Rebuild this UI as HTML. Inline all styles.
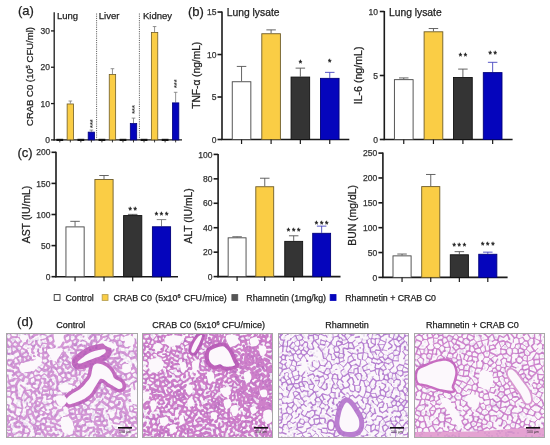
<!DOCTYPE html>
<html><head><meta charset="utf-8"><style>
html,body{margin:0;padding:0;background:#fff;}
body{width:550px;height:445px;overflow:hidden;}
svg{display:block;font-family:'Liberation Sans', Arial, sans-serif;}

</style></head><body>
<svg width="550" height="445" viewBox="0 0 550 445">
<defs>
<clipPath id="c0"><rect x="6" y="333" width="132" height="105"/></clipPath>
<clipPath id="c1"><rect x="142" y="333" width="131" height="105"/></clipPath>
<clipPath id="c2"><rect x="278" y="333" width="131" height="105"/></clipPath>
<clipPath id="c3"><rect x="414" y="333" width="131" height="105"/></clipPath>
<filter id="bl" x="-2%" y="-2%" width="104%" height="104%"><feGaussianBlur stdDeviation="0.5"/></filter>
</defs>
<g clip-path="url(#c0)"><g transform="translate(6,333)" filter="url(#bl)">
<rect x="-2" y="-2" width="136" height="109" fill="#FBF7FB"/>
<path d="M1.7,-1.8l3.5-36.6M-3.5,-2.6l1,0.2l-0.4,3.7M8,-3.1l-4.3,2.9M-2.4,6.4l-5.2-3.4M133.6,-7l-4.9,5.8M6.2,70.7l3.2,2l0.5,1.3M2.4,76.5l2.3,2.2l3.8,0.4M-0.1,77.8l-6-1.1M15,65.8l-3.8-1.2l-1-6.2M18.7,58.3l4,5.1M46.4,2.6l2,4.7l-2.9,2.8l2.7,3.2M45.5,10.1l-3,0.3l-1.5-5.1M-3.9,33.4l2.5,3.3l3.6,0.9M-3.2,39.8l2.4,3.1l2.1,0M6.6,38l-4.3-0.3M7.8,34.6l-2.8-2.2l2.4-3.7M2.4,6.9l-2.6-1.6M10.2,14l2.4-1.6l-0.1-1.4M6.5,20.2l4.9-2.4l2,0.6l1.5,3.7M0.2,20.7l-11-3.1l9.8-2.2l0.9,0.2l0.9,4.8M2,13.7l-1.5-3.2l-2.9-0.2l-0.7,1.3M-2.4,10.3l-0.8-2M122.5,53.2l-1.9-0.8l-2.9,3.5l0.9,3l4.8-1.3M118.6,58.9l-1,2.1l2.3,1.9l4.6-1.5M125.3,25.5l4.2-1.6M138.9,36.1l-4.6-2.9M127.1,31.5l0.5,2.8l2.2,2l0.5,2.3M127.6,34.3l-4.3,3.1M112.7,55.1l-0.4,1.9M-0.4,82.5l-2.1,1l-4.4-6.5M3.3,82.7l-1.5,0.6M10.6,57.8l-0.5-4.7l-4.8,0.1l-0.6,0.8l-5.6,1.7l1.3,2.4M30.1,8.4l0.4,1.9M22.6,0.7l2.5-1.9M28.6,2.2l-4,3.1l-0.4-0.1M45.3,16.6l-3.6-2.9l0.5-2.8M52.4,16.1l1.2-2.8M57.4,9.8l-1.8,3.3M55.3,-1.4l-5.8-1.5l-1.2,4.4M9.6,31.1l-0.6,2.9l3.8,1.4M124.7,67.6l-0.5-0.2l-0.5,0.2M132.4,61.4l1.9-1.9l53.9,6.5M117.1,67.8l-1.5-2.4l-4.3,0.2l-0.3-0.1M125.9,108.2l-2.7-2M133.9,21.8l-3.5,0.8l-1.7-3.6M246.2,30.4l-111.3-13.8M132.7,43.3l-1.6-4.1M132.7,43.3l-0.6,1.9M132.7,43.3l12.9-5.7M123.2,46.1l2.8-2.7M115.2,46.8l-1.2-3l-3.5-0.6l-2.6,2.4l-3.8-4.3M114.3,19l4.1,0.9l2.6,2.5M101.6,58.6l-2.6-3.6M80.5,52.3l-2.2,1.7M68.9,48.9l-1,2.5l-2.2,0.7M67.2,-4.2l-4.6,2.1M64,2.1l-0.9-0.7l-4.1,1.9M32.1,96.3l-0.4-3M27.9,92.5l1.7,5.6l-0.2,0.7M55.8,62.9l-4.4-0.2M27.5,14l0.1,0.7l-1.3,1.7M12.6,38.4l-3.7,2.1M37.9,37.4l3.2-0.3l2.1-3l-3.9-2.8M42.1,43.2l1.2-4M47,39.2l-1.5-0.8M42.4,43.8l0.5,0.3l4.4-2.6l3.4,2.5l-0.2,0.8l1.4,5.1M44.9,28.4l1.2,4.8l-0.8,0.6M37.5,24.9l3.1-0.1l2.3-3M33.5,60.2l-2.1-3.7l-0.5,0.1l-2.8,2.7M37.3,57.5l3.4,0.3M43.7,61.8l-2.1,0.5l-1.2-0.9M36,98.4l3.5,4.4M47.8,100.7l-2.3,1.6l-4-1.4M49.8,102.3l0.2,4.9M71.1,107.9l-3.2-1.1M99.3,64.4l4.1,2.1l2.2-3.4M100.3,71.7l-4.3-3.6M91.5,104.3l0.5-1.5l4.9,0.2M89.8,108.1l0.4-3M91.6,96.3l3.3,0.1M91.6,96.3l0.2-4l3-0.1M91.6,96.3l0,0M91.8,92.3l-2.7-1.5M97.5,101.8l5-2.9l1.7,1l3.4-3.9M106.9,102.4l0.5,3.7l0,0M33.9,100.7l-3.8-0.4M45.8,65.3l0.5-2.3l1.2-0.8l3.9,0.5M21.2,81.4l0.2-4M-1.4,67.6l1.8-4M20.4,18.6l-0.1-1.1M18.5,10.5l2.1-0.4M22.4,-8.7l-3.9,8l0.7,1.2M25.5,-3l4.1-0.5M42.8,21l-1.8-1.3l-3.5,0.2l-0.4,0.4M36.2,-2.7l-0.7,3.6l-0.8,0.5M131.2,82.1l0-2.2l1.3-2.2M134.1,71.9l-0.7-3.1M131.7,100.6l1.2,2.3l-2,3.5M136.2,94.3l-2.9,2.2l0.6,2.3M113.5,69.5l-0.3,1.6l-3.4,1.8M129.8,106.8l-2.5-4.4M123.7,-7.1l4.3,6M126.7,5.7l1.9,1l1,3.5M107.6,-1.6l-1.4,1.7M101.1,43l-0.7,3.2l-3.9-1.1l-0.8-2.4l1.4-2.5M116.5,40.2l-5-2.4l0-0.4l-3.6-3.4M92.7,34.1l4.6,3.1l1.8-4l-2.4-2.1l-3.5,1.3M110.8,63.4l-0.2,0.6M109.6,58.8l-2.3-0.4l-1.8,4.2M107.7,69.3l-3.8-1M101.6,71.5l2.3,3.3M109.7,73.2l-4.2,2.2M95.8,89.3l-0.3,2.3l3,1.4M88.4,88.8l0-0.1l5-1.2l0.8-3.8l1.5-1.5l0.6,0.3M93.1,54.2l0.2,0.8M86.8,54.1l3.4,4M99.4,61.1l-3.5-1.7l-0.1-2.3M94.3,63.5l1.1-3.7M89.1,52.5l0.4-2.2M86.5,47.3l-0.9,0.1l-1.6,5.2l1.7,1.5l-1.6,4.5M68.6,-3l3.2,0.1M72.6,1.4l-2.8,2.1l0.2,2.2M39.2,96.1l0.7-2.4l3.6-0.2M38.8,91.6l-3.5-0.8M52.2,57.8l-1.5-1.4l1.3-5.2l-0.3-0.9M47.5,68.8l-1.2,1.4M33.1,81.6l-0.4,1.1l-3.4,2.6l-0.6-0.1l-2.3-4.6l0.5-1M72.2,58.4l4.1,0.8l2.1-3.9M72.2,58.4l0.3,4l3.3,1.4M72.2,58.4l-0.3-0.3M27.3,19.9l-0.9-0.7M14.8,22.5l1.7,1.6l0.2,4.5M8.5,40.5l-1.2,1.8M10.2,51.5l2.8-5l-0.7-1.1M7.9,46.2l-0.5,0.9l-4.6,0.9M46.1,33.3l4.7,2.8l1.8-1.6l2.3-0.2l2.1,2.5l0.1,2.3l-3.7,2.6M60.1,40.5l-0.4,3.5l2.8,2.6M23.6,46l-0.2,4l-1.6,0.6M23.4,50l2.7,1.4M18.3,44l-1.5,3.4M34.5,50l-1.5,2.9M33.9,47.2l-4.1-0.2M43.9,55.3l-5.3-2.1M43.9,55.3l0.2-0.1M43.9,55.3l-0.6,0.9M44.2,55.1l-2.3-5.1M38.7,50.2l0.5-0.6l-0.3-3.2M39.3,103.8l1.9,2.5l-3.6,7M31,106.8l2.8,0.1M63.7,81.5l1.6,4.9l4.6-2.1M64.1,80.8l4.8,0.2M66.9,89.5l5.3-2M76.6,92.5l-1.2,1.7l-4.6-1.6l1.7-4.9l0.8,0l2.5-1.8l0.2-3.5l4.2-1.1l-0.8-3.9M75.4,94.2l-0.6,3.8M84,86.1l-3.7-1l-2,1.5M74.8,81.1l-1.2-0.3l-1-4.4M82.7,75.4l-0.6-2M106.4,86.7l3.2-2.7l4.4,1.8M109.4,101.4l1.9-4.2M117.1,96.8l-5.4,0.5l3,5.2l-2.7,0.8M117.1,96.8l0.6-1.6M117.1,96.8l0.7,1.6M85.4,88.4l-0.5-0.3M12.2,88.4l-3.3,2.1M12.9,113.9l-4.5-6.4l0.1-0.7l-2-2.5l0.2-2.5M23.8,89.1l0,0M36.1,64.7l-5,0.6M24.6,57.1l1.7,2.2M25.3,64l0.4,2.3M35.1,69.6l-0.4,0.1l-1.8,3.2M30.7,-2.8l0.5,4M60.2,8.9l0.5,0.2l3.3-1.9M132,91.8l2.8-0.1M132.7,87.1l-1.5,0.2l-2-3.4M126.4,92.1l-0.1-2M126.5,89.9l3.8-0.7M110.8,75l4.6,1.2M115.4,83.8l-1.2-3.9l1.2-1.3l5.6,2.1M118.3,73.5l3.3,6.3M118.2,68.2l0.2,5.1M86.1,34.4l-2.3,3M97.2,40.1l0.6-2M115.7,34.7l-2.8,0.4l-1.7-4.1l-0.1,0l-2.9-3.3l-2.9,3M118.8,30.1l-2.9,2.3M93.1,48.6l0.9-0.7M92.4,48.5l-3.2-3.9M98.5,27l-3.3-2.4l-2.5,1.7M39.5,85.7l1.8-1l3.9,1.8l1.5-1.4M37.3,81.8l1.3-2M55.1,67.9l-0.1,3.8M29.6,77.9l2.7,0.6l1.7-1.5M44.8,89.2l0.3,0.6M58.1,66.8l3.3-2.5M57.6,60.8l1.1-0.1M72.2,67l-1.7-1.6M66.3,66.4l2.7,4.9l-0.7,0.8M75.2,73l-4.8-2.1M69.4,76.7l-1-1.2M24.6,25.7l-2.9,2.4M52.2,29l0.3-3.8l0.7-0.7l0.4-0.1M56.9,54.7l2.6-1.1M54.1,97.1l3.8,1.5M62.6,103.3l-1.7,0.9M95.5,81.8l0.6-5.1l-5.5-0.3l-0.5,0.6M81.4,66.7l-0.4-2l-2.5-1.9M81,64.7l4.2-3.1l3.2,4.3l-2.4,2.8l-0.1,0M90.8,72.4l2.3-1.5l0.6-1.6M91,63.8l-0.3-3.9l-0.6-0.7M114.7,102.5l0.2,0.1M123.4,95.3l-3.1-2M88.3,95.8l-0.5,2.1M92.7,99.8l-1.4-1.1M69.4,93.5l0.7,4.4l4.7,0.1l0.2,5.4M79.1,108l-1.9-3.6M82.3,95l-0.2,1.5l-2.9,1.9M8.5,106.8l3.7-2.2M13.8,111.2l-0.9-6.3M20.8,105.8l3.4,1.4M19.1,106.6l4,13.7l1.4-12.4M12.8,88.4l3.3,2.1l0.3,2M14.3,83.1l0.3,0.6l3.7,2l3.1-3.8M69.6,11.6l-2.3,0.1l-1.9,2.3M57.6,15l4.6-1.2M120,86.8l-1.8,2.1M120,86.8l2.2,0.4l1.4,2.5M120,86.8l-0.5-3.9M122.2,87.2l2.3-2.2M128.3,12.7l0.2,0.5M134.5,16l0.1-0.6l4.5-4.8M101.5,-8.8l-3.7,5.9M111.6,12.9l-0.4,4.8l1,1.6M116.4,13l-4.7-0.1l-0.8-4.5l-2.8-1.2M95.5,4.5l-0.1,0.8M106.1,35.7l-3.5-1.1l-0.6-1.4l1-2.4M108,25.7l-5.3-0.9l-1.6,1.9M100.5,14.3l-0.8,5.3l-0.5,0l-3.4-4.7M113.6,24.7l-5.5,0.9M88.6,24.4l-0.6-2.8M71.8,13.8l3.5-2M81.3,17.7l-2.1-4.6M76,17.6l-0.1-0.1l-4.5-1M47.9,74.7l2.1,0.4M56.2,76.7l-4.3,1.4l-0.9,2.1l0.2,0.6l-3.3,4.3M30.7,72.7l-1.9,1.7M21.3,28l-2.7,1.6M19,38.1l4.5,2l-1.8,4.1M72.9,104.5l-4.7-4M54.6,86.5l-3.4,1.6M115.2,102.5l2.9,1.1M114.9,106.1l1.6,1.5l2.4-0.8M86.6,109.1l-1.4-3M-3.4,97.2l3-2.2l0.2-0.9M0.2,93.9l3.5,0M-26,106.9l23-5.3l0.4-1M17.1,100l0.9-6.3M69.5,20l0.5-2.4M42.2,81.6l2.3-1.1M62.4,39.6l2,0.6M65.8,42.9l4.1-0.3M5.6,101.1l-2.5,0.4M5.3,96.7l-0.1,0.1M13.4,94.2l-2.9-0.2l-1.7-1.9M17.1,100l-3.7-1.1M90,14.7l-0.5-1.2M84.7,22.5l-1.1,3M55.2,20.6l3-0.7l0.6,0.4M84.9,-7.3l-1.7,5.2M70.1,42.3l-0.4-6.4M61.7,35.5l2.4-2l-0.3-2.3M60.1,26.9l4,3.4M72.6,22.8l0.4,4.1l1.6,1M70,21.3l-3.5,4.2M61.4,24.1l-2.3-2.7l-3.8,3.6M83.5,5.2l3.8-4.1l0.9,0.1l0.8,0.5l0.3,6.1l-3.3,0.1l-1.7,4.5l-3.1-1.3M85.8,29.6l-5.2-0.2M70.2,35.6l0.5-1.4M75.5,31.8l2.8,1.3l0.1,0.1l7.3,0.3M78.5,36.3l-0.5,0.9" fill="none" stroke="#D498D6" stroke-width="2.7" stroke-linecap="round" stroke-linejoin="round"/>
<path d="M5.2,-38.4l-7.4,35.9l-0.3,0.1M-2.9,1.3l-4.7,1.7M-0.2,5.3l-0.2-2.6l3.2-3l0.9,0.1l2,4.2M136.2,-1.3l-2.7,3.1M2.4,76.5l0.5-4.2l-4-2l-0.9,0.4M3.3,82.7l3.4,2.1M15.2,79.5l-0.9,3.6l-2.6,0.3M6.8,66.4l-0.6,4.3M15,65.8l2.7-6.9M10.2,58.4l0.4-0.6M46.4,2.6l1.9-1.1M-3.2,44.7l2.4-1.8M-2.4,6.4l-0.8,1.9M9.4,8.5l-2.9,2.4M6.4,20.2l-0.8-6.6l0.7-0.7M2.7,21.1l-1.9-0.7M2.4,6.9l-1.9,3.6M128.2,55.7l1.3,3.5M124.5,61.4l0.3,0.2l0.6,1.3M120.1,51.6l-4.8-0.5l-1.2-2.7l-3,0.6M115.3,51.1l-1.4,3.5M122.5,53.2l3.8-3.6l1.2,0.1M134.3,33.2l-4.5,3.1M1.8,83.3l-2.2-0.8M-16,91.9l13.1-1.3l2.7,3.5M35.3,26.5l-2.8-4.5M37.1,20.3l-4.1-0.2l-1-2M31.7,32.9l4.5,3.6l-3.3,2.7M101.3,106.2l5.6,0.4l0.5-0.5M129.2,108l-3.3,0.2M9.9,74l6.4,1.6l-0.7,3.6M18.8,55.7l0.3,1.8l5.5-0.4M27.5,14l-3-2.7l2.8-3M24.5,11.3l-2.4,0.2M10.5,4.3l0.6-0.4l0.3-4M11.1,3.9l3.3,1.5M25.1,-1.2l3.5,3.4l1,0.2l1.6-1.2M45.4,-3.9l-1.2,2.1M52.4,-14.7l3.4,12.5l5-1.3M-5.6,50l3.9,3.2l0,2l0.8,0.5M7.2,27.4l2.3-2.6l1.3,0.1M123.2,106.2l-0.8,0M112.1,-2.2l2.1,4l0,0l-0.6,5.4l3.7,2.1l-0.9,3.7M112.1,-2.2l3.1-4.7M112.1,-2.2l-2.2-0.4M118.1,-2.2l-3,3.9M129.5,23.9l0.9-1.3M133.9,21.8l1-5.2l-0.4-0.6M130.3,38.6l-4.6,2.4M126,43.4l5.3,2.4l0.8-0.6M107.9,45.6l-0.2,1.3M125.3,25.5l-3.5-3.1l-0.8,0M102.7,53.1l-3.4,0.5M80.5,52.3l-0.5-5.2l-3.4-1.4M74,47.8l1.1,5M67.9,51.4l3.4,3.5M62.6,-2.1l0.5,3.5M67.7,2l-3.7,0.1l0,5.1l2.3,0.7l3.7-2.2M34.4,92.2l-2.7,1.1M29.6,98.1l2.5-1.8M35.4,26.6l0.4,2.4M12.6,38.4l3.9,2.6l0.2,0M35,43.3l3.2-2.6l3.9,2.5M41.1,37.1l2.2,2.1M40.6,24.8l2,3.4M37.9,37.4l-0.9-0.9M29.9,37.2l-3.1,2.5l1.7,3.4M35.6,60.8l1.7-3.3l-1-2.5l2.3-1.8M43.7,61.8l-0.4-5.6M36.2,97.5l3-1.4M45.4,107.5l-4.5,32.7M50,107.2l1.1,0.9M96.8,65.9l-0.8,2.2l-2.3,1.2M91.5,104.3l2.6,2.8M96.9,103l-1.8,4.1M97.4,102.6l3.7,2.8M-1.5,109.1l3.9-2.3l2.3,2.6M23.8,98.4l-0.4-1.8l-3.1-2.8M36.2,62l-0.1,2.7M41.6,62.3l-1,4.1M40.7,66.6l5.1-1.3l1.7,3.5l1.9-0.1M21.1,69.7l0.1,2.9l-2,2.3M21.2,72.6l3.4,1.8M4.3,63.9l1.6-4.4M12.6,12.4l3.3,1.6l2.6-3.5M13.4,18.4l2.6-3.3M44.9,28.4l1.9-1.6l4,3.3l0,0.1l1.8,4.3M40.9,14.5l-3.9,0.9M42.2,10.9l-5.8-0.7l-2.1,3.8M34.6,-4.6l-3.9,1.8M40,2.2l-4.5-1.3M125.5,78.8l0.7-0.3M132.5,77.7l-1.7-2l-2.9,0.3l-1.2-3.1l-3.2,0.6l0.6,5.2M133.4,68.8l-2.5-0.5l-1.4-2M128.6,71.2l2.7,2.2M132.9,102.9l3.7,0.1M133.9,98.8l1.7,0.6M107.7,69.3l2.1,3.6M117.1,67.8l1.1,0.4M131.7,100.6l-1.8-0.4l-2.6,2.2M120.7,-2.1l1.6,3.1M126.7,5.7l-0.7-4.1M119,14.6l3.5,0M110.5,43.2l-0.5-3.8M116.6,40.1l-0.1,0.1M93.2,32.4l-0.5,1.7M105.5,62.6l0.1,0.5l5,0.9l0.4,1.5M110.8,63.4l4.1-2.8l-2.6-3.6l-2.7,1.8M103.9,74.8l-3,3.3M89.5,84l-1.1,4.7M89.1,90.8l-0.7-2M99,55l-3.2,2.1M89.1,52.5l4,1.7l1.3-1.9l-1.3-3.7M93.3,55l-3.1,3.1l-0.1,1.1l-4.7,1.3l-1.3-1.9l-2.3-0.2M83.3,41.8l-4.3-1.2M85.7,54.1l1.1,0M65.7,52.1l-0.5,3.8l-2.3,1.1M75.9,2l-3.3-0.6M71.8,-2.9l1-0.8M39.9,93.7l-1.1-2.1l1.4-2.6M47.5,62.2l-0.3-5.2M28.6,92.2l2.2-4.2M37.3,81.8l-4.2-0.2M41.6,98.6l3.4-1.3l-0.3-2.6l-1.2-1.2M71.2,55.6l0.7,2.5M66.9,57.1l-0.2,4.1l-0.1,0.1M24.7,24.3l-2.5-2.1M28.9,23.5l-0.9-0.6M26.3,16.4l0.1,2.8M2.8,48l-0.9-4.5M7.9,46.2l4.4-0.8l0-1.3M10.4,52.7l-0.2-1.2M50.6,37.3l2.7,4.4l0.1,0l3.3,3.4l3-1.1M26.2,54l-0.1-2.6M13,46.5l3.8,0.9M29.8,47l-1.5,3.5M33.2,53.8l-0.2-0.9M35.3,45.2l-1.4,2M28.3,43.8l-4.7,2.2M47.3,50.8l-3.1,4.3M37.6,113.3l-3.8-6.4l1.5-2.1M30.1,100.3l-1.1,3.4l-2.6,0.1M50,96.5l3.8,0.2l0.3,0.4M69.9,84.3l-0.1-2.4l3.8-1.1M66.9,89.5l0.7,3.1M82.7,75.4l1.6,0.7M78.2,70.6l3.9,2.8l3.8-4.7M111.6,110.1l-4.2-4l3.8-1l0.8-1.8M103.7,85.6l-1-4l-0.9-0.5M109.4,101.4l-2.5,1M111.3,97.2l0-0.1l-3.7-1.1l-1.6-3.5M113.2,90.7l1.5-2.1l3.5,0.3l2.1,3M130,95.3l0-0.3l-3.6-2.9l-3,3.2M78.8,92.2l0.9-2.9l-1.4-2.7M82.3,95l-0.1-0.2M97.5,101.8l-1.6-2.9l0.2-1.3l-1.2-1.2M92,102.7l0.7-2.9M101.7,97.3l-3.4-1l0.2-3.3M100.5,87.6l0.7,4.3M12.2,88.4l-1.7-2.7M2.6,88.4l4.1-2.3M31,106.8l-1.1,1.3M30.4,62.3l-0.3,1M28.1,59.3l-1.8,0l-1.6,4.2M31.1,65.3l-0.8,2.7l0,0l-0.7,1.4l-3.3,1.6M30.3,68l4.4,1.7M24.4,69.1l1.3-2.8M38.7,72.1l2.7-1.3l0.8,0.3l4.1-0.9l1.6,4.5M38.7,72.1l-3.6-2.5l1.4-4.3M38.7,72.1l-0.5,1.5M41,5.3l-5.7,1.5M30.1,8.4l0.7-0.8M126.5,89.9l-0.2,0.2M135.1,83.3l-2.4,3.8M109.5,80.5l0.8-0.7l0.5-4.8l-1.1-1.8M118.4,73.3l-0.1,0.2l-0.6,0.2M84,41.3l5.5,0.2M90.2,36.2l0.3,2.8M97.3,37.2l0.5,0.9M104.1,41.3l0.1-0.3l2.3-2l-0.4-3.3M112.4,30.5l3.5,1.9M89.5,50.3l2.9-1.8M98.5,27l-1.8,4.1M41.3,84.7l0.9-3.1M26.9,79.6l-2.5-3.5M60.2,69.7l2.3-0.3M64.1,66.8l-2.7-2.5M58.7,60.7l2.5,1.6M70.4,70.9l-1.4,0.4M66.3,66.4l0.1-0.2M75.8,63.8l-1.1,2.7l2.7,4.2M21.3,28l0.4,0.1M30.5,32.9l-5.6-0.1M50.8,30.2l-4.7,3.1M57.3,49l-1.1-0.6M55.9,103.7l1-0.6M64.7,87.9l-2.4,0.8M85.5,75.7l4.6,1.3M77.5,62.6l1,0.2M89.5,65.6l-1.1,0.3M123.4,99.5l-1.9,0.7M91.3,98.7l0.3-2.4l-3.3-0.5l-0.7-1.3M75,103.4l2.2,1l2.6-2.4M74.8,98l4.4,0.4M10.2,100.8l-3.5,1l-1.1-0.7l-0.4-4.3l-3.2,0.8l-2.4-2.6M20.8,105.8l-1.7,0.7M22.7,100.3l-0.2,0.1l-5.4-0.4l0,0l-1,3.9M13.8,111.2l5.3-4.6M38.5,79.3l-4.5-2.3l0.4-1.3M128.3,12.7l1.3-2.5M127.4,18.1l1.1-4.9M111.6,12.9l-4.5,0.4M117.3,9.3l2.7-1.8M113.6,7.2l-2.7,1.2M112.9,19.5l-0.7-0.2M108.9,3.3l-0.8,3.9l-0.9,0.4l-0.6,5.4M99.1,8.2l3.2-4.2l2.5,3.2l-2.5,2.5M102.7,24.8l-0.3-4l-2.7-1.2M96.5,45.1l-2.3,2.1l-0.2,0.7M95.7,42.7l-2.8,0.8M97.1,20.7l-1.9,3.4l-3.8-3.4l1.7-3.4l4,3.4l2.1-1.1M88.6,24.4l4.1,1.9l-0.9,3.4l-5.7-0.6l0-0.8M81.1,18l-5.1-0.4l-0.8,4.1l3.9,1.8M76.6,13.1l2.6,0l2-2l-0.5-1.9l-4.2-2.2l-1.5,1.2M56.9,73.3l-0.7,3.4M57.7,83.6l1.1,0.2M29.6,69.4l1.1,3.3l2.2,0.2M16.7,28.6l-3.2,1.2M12.8,35.4l1.4-1.3l-0.8-4.1M18.6,29.6l0.6,5M62.8,102.9l4.5-1.3M55.3,84.7l-0.7,1.8M112.6,107.1l2.3-1M120.9,101.9l-2.8,1.7M83,102.7l1.6-2.9M87.8,97.9l-3.1,1.9M90.2,105.1l-2.6-0.9M2.8,89.1l-2.6,4.8M4.8,91.1l-1.1,2.8l1.6,1.9M-3.4,97.2l0.8,3.4M108,25.7l0.2,2M72.6,22.8l-2.6-1.5M65.8,42.9l-1.4-2.7M73.7,41.6l-3.6,0.7l-0.2,0.3M1.5,99.8l1.6,1.7M84.7,13.1l4.8,0.4l1.6-4.3M86.9,18.8l0.9,2.7l0.2,0.1M81.1,20.8l3.6,1.7M93,16.6l-3-1.9M57,17.2l1.2,2.7M55.2,20.6l-1.6,3.8M56.9,30.2l0.9-2.3l2.3-1M85.7,33.5l0.1-3.9M59.2,31.9l4.6-0.7l0.3-0.9M68.5,28.9l-1.4-0.6M63.1,14.5l-0.2,2.8M83.2,-2.1l4.1,3.2M70.2,35.6l4,2.6l3.8-1M83.5,5.2l0.3,1" fill="none" stroke="#D498D6" stroke-width="1.3" stroke-linecap="round" stroke-linejoin="round"/>
<path d="M-1.5,109.1l-1.8-2.5M0.9,28.6l-4.3-3.3l3.6-4.6M0.9,28.6l-0.2,1.7l2.4,2.2l1.9-0.1M0.9,28.6l1.9-1.6l4.4,0.4l0.2,1.3M-2.9,1.3l2.5,1.4M133.6,-7l2.6,5.7M133.8,4.2l-0.3-2.4M9.9,74l-0.7,4.3M8.5,79.1l0.3,2.1l2.9,2.2l-1.2,2.3l-3.7-0.2l-0.1-0.7M22.7,63.4l-3.9,4.3M48.4,7.3l0.8,0.2l2.7,2.9l0.1,0.9M-1.4,36.7l-1.8,3.1M2.4,6.9l0.8-0.1l2.5-2.8l4.8,0.3M3.2,6.8l3.3,4.1l-0.2,2l3.9,1.1l1.2,3.8M9.4,8.5l3.1,2.5l2.7-3.2l-0.8-2.4M6.5,20.2l-0.1,0l-3.7,0.9M-1,15.4l-2.1-3.8M5.6,13.6l-3.6,0.1M124.2,55.9l-0.8,1.7M120.3,46.7l-5.1,0.1M120.6,52.4l-0.5-0.8M129.5,23.9l3.5,5.6M133.1,29.5l6.1-4l-5.3-3.7M130.5,47.9l-3,1.8l1,5.6M113.9,54.6l-1.2,0.5l-2.2-1.7l0.6-4.4l-3.4-2.1l-2.2,1.8l-1.1,0.2M2.1,88.1l-0.3-4.8M2.1,88.1l-3.2,0.1M2.1,88.1l0.5,0.3M-0.1,77.8l-0.3,4.7M32.5,22l0.5-1.9M37.1,20.3l0.4,4.6M39.1,31.3l-2.1,5.2l-0.8,0M39.1,31.3l-3.3-2.3M39.1,31.3l0.2,0l3.3-3.1M106.9,106.6l-2.2,7.8M15.2,79.5l0.4-0.3M15.3,68.9l1.3,6.4l-0.3,0.3M14.7,52.3l4.1,3.4M27.5,14l3-3.7l3.8,3.7l0,0.2M22.6,0.7l1.6,4.5M48.2,14.3l-2.9,2.3M46.4,2.6l-0.7-0.1l-4.3,1.6M39.7,-3.5l1.1,1.5M55.8,-2.2l-0.5,0.8M49.4,-3.1l0.1,0.2M60.2,8.9l-1.6-3.7l0.4-1.9M5.3,53.2l-3.1-4.2l0.6-1M-1.7,55.2l-9.8,4.8l11.3,2.8l0.6-4.7l4.2,0l1.3,1.4l4.3-1.1M132.4,61.4l0,0l3.8,4.5M133.9,53.4l1.1,0.4l-0.7,5.7M129.2,108l0.6-1.2l1.1-0.4l4.1,1.1M120.6,107.5l1.8-1.3M114.2,1.8l0.9-0.1l4.1,2.3l3.1-3M126,43.4l-0.3-2.4l-2.2-1.8l-3.8,2.6l1.1,4.4M144,50.6l-11.9-5.4M119.7,41.8l-3.1-1.7M121,31.4l-2.2-1.3M119,14.6l-2.5-1.4l-0.1-0.2M99,55l0.3-1.4l-1.1-1.6M84,52.6l-3.5-0.3M80,47.1l2.9-1.4l0.4-3.9l0.7-0.5M68.9,48.9l2.5-1.5l-1.5-4.8M68.6,-3l-0.9,5M60.8,-3.5l1.8,1.4M35.2,96.7l-3.1-0.4M35.2,96.7l-0.8-4.5l0.9-1.4M35.2,96.7l1,0.8M31.7,93.3l-3.1-1.1M30.5,32.9l0,0.1M14.8,22.5l-4,2.4l2.7,4.9l-0.1,0.2l-3.8,1.1M12.8,35.4l-0.2,3M6.6,38l1.9,2.5l0.4,0l3.4,3.6l4.2-3.1M35.3,45.2l3.6,1.2M43.3,39.2l2.2-0.8l-0.2-4.6M32.9,39.2l-3-2M35,43.3l-2.1-1.5l-4.4,1.3l-0.2,0.7l1.5,3.2M33.2,53.8l-1.8,2.7M35.6,60.8l0.6,1.2l4.2-0.6M40.7,57.8l2.6-1.6M39.2,96.1l2.4,2.5l-0.1,2.3M50,107.2l-4.6,0.3l-1.1-1.1l1.2-4.1M47.8,100.7l2,1.6l2.7-0.7M64.9,108.1l0.2-0.4l2.8-0.9M103.9,68.3l-2.3,3.2M95.1,107.1l-1,0M90.2,105.1l1.3-0.8M104.5,100.8l-0.3-0.9M101.3,106.2l-0.2-0.8M96.9,103l0.5-0.4M4.6,58.1l0.1-4.1M-0.2,62.8l0.6,0.8l3.9,0.3l2.5,2.5M14.9,22.1l5.5-3.5l1.8,1.9M16,15.1l4.3,2.4M21.3,7l-0.7,3.1M14.8,-2l3.7,1.3M42.9,21.8l-0.1-0.8M50.9,21.1l-1.7-0.5M50.6,16.4l-1.7,3.2M40.9,14.5l0.1,5.2M37,15.4l0.5,4.5M32,18.1l0.2-1.6M34.6,-4.6l1.6,1.9M131.2,79.9l-5-1.4l1.7-2.5M135.1,83.3l-3.9-1.2M130.9,68.3l-2.3,2.9l-0.9,0.1M134.1,71.9l1.5,0.9M107.7,69.3l3.3-3.8M119.9,62.9l0.9,3.8l-2.6,1.5M123.2,106.2l3-4M130,95.3l3.3,1.2M123.7,-7.1l-3,5l-2.6-0.1M128.7,-1.2l-0.7,0.1M121.8,22.4l2-3.9l3.6-0.4M114.2,1.8l-5.3,1.5M100.6,47.2l-1.8,2l-4.8-1.3M101.1,43l3-1.7M114,43.8l2.5-3.6M116.6,26.2l-1.2-0.1l-1.8-1.4l-0.7-5.2M115.4,26.1l-3,4.4l-1.2,0.5M105.7,56.2l1.6,2.2M105.5,62.6l-4.2-3l-1.9,1.5M109.8,72.9l-0.1,0.3M105.5,75.4l-1.6-0.6M94.2,83.7l-4.7,0.3M93.4,87.5l2.4,1.8l3-2.1l-2.5-4.7M89.1,52.5l-2.3,1.6M95.9,59.4l-0.5,0.4l-4.7,0.1M65.7,52.1l-2.6-1M64.8,45.3l-2.3,1.3l-0.1,0.2l-5.1,2.2M76.5,43.9l2.5-3.3M65.2,55.9l1.7,1.2M71.3,54.9l-0.1,0.7M77.8,-3.4l-1.1,0.6M50.7,56.4l-3.5,0.6l-3.1-1.8l0.1-0.1M51.4,66.8l-2,1.9l2.6,3.3M57.6,60.8l-2.2-3.2l-3.2,0.2M24.6,87.4l-3.2-5.5l0.1-0.1l4.9-1.2M21.5,81.8l-0.3-0.4M29.3,85.3l1.5,2.7l3.4,0.8l1.7-2.6l2.2-1l1.4,0.5l0.7,3.3M78.4,55.3l-0.1-1.3M71.9,58.1l-3.8,3M20.1,24.3l-3.6-0.2M20.1,24.3l2.1-2.1M20.1,24.3l1.2,3.7M24.7,24.3l-0.1,1.4M60.1,40.5l-3-1.4M21.7,44.2l-3.4-0.2l-1.6-3M16.8,47.4l0.1,0.5M34.5,50l-0.6-2.8M30.9,56.6l-4.7-2.6M26.1,51.4l2.2-0.9M39.2,49.6l2.7,0.4l2.7-2.9l2.7,3.7M39.5,102.8l-0.2,1M59,109.9l-3.7-3.7l0.6-2.5M69.8,81.9l-0.9-0.9l0.5-4.3M69.9,84.3l2.3,3.2l0.3,0.2M70.8,92.6l-1.4,0.9M84,86.1l0.7-4.7l-4.4,0M77.2,76.8l-2-2.7l-2.6,2.3M77.2,76.8l-2.4,4.3M77.2,76.8l2.2,0.6l3.3-2M85.9,68.7l-4.5-2M109.6,84l-0.1-3.5M103.7,85.6l2.7,1.1l1.1,3.3l5.4,0.9M129.2,96.7l-5.2,0.9M111.7,97.3l-0.4-0.1M79.7,89.3l5.2-1.2M76.6,92.5l2.2-0.3M82.3,95l5.3-0.5M98.5,93l2.7-1.1M102.5,98.9l-0.8-1.6M4.7,109.4l3.7-1.9M27.4,92.5l-3.6-3.4M30.4,62.3l-2.3-3M35.2,6.9l0.1-0.1M132,91.8l-1.7-2.6M134.8,91.7l1.3-2.5l-3.4-2.1M127.9,83.9l-1.7,1.3M117.7,73.7l-2.3,2.5M119.5,82.9l1.4-1.8l0.1-0.4M120.9,81.1l3.6,3.9M107.6,-1.6l-5.1-12.5M97.8,38.1l3.8-0.9M115.9,32.4l-0.2,2.3M111.5,37.4l1.4-2.3M86.5,47.3l2.7-2.7M89.5,41.5l0.3,0.7l3.1,1.3M93.2,32.4l-1.4-2.7M42.2,81.6l-3.6-1.8l-0.1-0.5M32.3,78.5l0.8,3.1M21.4,77.4l3-1.3l0.2-1.7M45.1,89.8l4.3,1.4l-0.6,2.3l-4.1,1.2M49.4,91.2l0.7-0.5l4.5,2.7l2.8-2M48.8,93.5l1.2,3M58.7,60.7l2.5-4.3M62.9,57l1.2,3.8l-2.9,1.5M56.8,66.4l1.3,0.4M68.3,72.1l0.1,3.4l-5.2,1.8l-0.1,0.4l1,3.1M62.5,69.4l1.6,2.7l-1.5,2.7M26.8,27.7l-2.2,3.4M54.9,34.3l2.1-3.8l2.2,1.4l0.9,3.2M51.9,49.9l4.3-1.5l0.5-3.3M59.6,109.4l1.3-5.2M56.9,103.1l1-4.5M63.7,81.5l-4.9,2.3M95.5,81.8l-5.5-2.4l0.1-2.4M96.8,75.9l-0.7,0.8M90.6,76.4l0.2-4M85.4,60.5l-0.2,1.1M94.3,63.5l-3.3,0.3M109.4,101.4l2.6,1.9M120.3,93.3l-2.6,1.9M92,102.7l-2.8-1.4l-1.5,0.7M72.9,104.5l2.1-1.1M24.2,107.2l0.3,0.7l5.4,0.2M22.5,100.4l-1.7,5.4M12.9,104.9l3.2-1l3,2.6M12.8,88.4l1.8-4.7M34.4,75.7l3.8-2.1l1.7,3.4M67.3,11.7l-1-3.8M69.6,11.6l2.4-4l-2-1.9M128.5,13.2l4.4,2.7l-4.2,3.1M123.7,12.7l-1.2,1.9M102.6,1.2l-4.1-2.1l-3.8,3.5l0.8,1.9l6.5-1.6M93.8,-3.4l-0.6,4.9l-4.2,0.2M97,12.7l2.3-3.6M95.4,5.3l-3.1,3.7l-1.2,0.2l-1.8-1.4M107.2,7.6l-2.4-0.4M103.1,13.7l-2.6,0.6l-3.4-1.5l-1.3,2.1M99.1,33.2l2.9,0M101.1,26.7l1.9,4.1l2.3-0.1M108.1,25.6l-0.1,0.1M112.2,19.3l-3.8,2.1M107.7,16.8l-2.5,2.4M95.2,24.6l0-0.5M65.4,14l4.6,3.6M75.3,11.8l1.3,1.3M43.9,76.7l0.6,0.4l3.4-2.4M44.5,77.1l0.5,2.4M60.2,69.7l-2.2,3.2M26.3,71l0.1,2.2M29.6,77.9l-0.8-3.5M26.8,39.7l-1.2-0.5M66.6,98.2l1.8,1.1l-0.2,1.2M68.4,99.3l1.7-1.4M62,93.7l1.2,4.7M114.9,102.6l0,3.5M118.1,103.6l0.8,3.2M-0.2,94.1l0.4-0.2M8.6,91.4l0.2,0.7M-2.2,103.1l3.7,1.4l1.6-3M20.3,93.8l-2.3-0.1l-1.6-1.2M111.1,31l-3,2.5l-0.2,0.5M81.1,20.8l-2,2.7M70,21.3l-0.5-1.3l-4.8-0.3M44.5,80.5l2.2,4.6M51.2,88.1l-3.3-3M5.3,96.7l0-0.9M10.5,100.1l2.9-1.2M87.8,21.5l-3.1,1M88.6,24.4l-2.5,3.9l-2.5-2.8M57.8,27.9l-2.5-2.9M81.9,-1.5l1.3-0.6M86.1,34.4l-0.4-0.9M64.4,40.2l3.3-4.1l-3.6-2.6M60.1,26.9l1.3-2.8M89.6,-3.3l-1.4,4.5M79.4,25.3l-0.1,0.1l-4.7,2.5l0.9,3.9M79.3,25.4l1.3,4l-2.3,3.7M78.5,36.3l-0.1-3.1M68.5,28.9l2.2,5.3M73.7,41.6l0.5-3.4" fill="none" stroke="#D498D6" stroke-width="1.9" stroke-linecap="round" stroke-linejoin="round"/>
<path d="M6.8,66.4h0M-2,70.7h0M48.2,13.3h0M117.7,55.9h0M6.7,84.8h0M19.1,57.5h0M-1.4,36.7h0M121,31.4h0M104.4,48.9h0M114.9,60.6h0M103.4,66.5h0M32.5,22h0M32.1,96.3h0M55.6,13.1h0M129.9,64.1h0M124.2,67.4h0M113.5,69.5h0M133.3,96.5h0M131.3,45.8h0M118.4,19.9h0M99.4,61.1h0M85.6,47.4h0M64,2.1h0M45.8,65.3h0M56.8,66.4h0M44.3,106.4h0M75.4,94.2h0M106.4,86.7h0M96.9,103h0M82.3,95h0M94.8,92.2h0M30.3,68h0M5.9,59.5h0M122.3,1h0M97.3,37.2h0M76.5,43.9h0M100.9,78.1h0M72.6,1.4h0M47.2,57h0M77.5,62.6h0M46.1,33.3h0M50.7,44h0M41.9,50h0M81.4,66.7h0M78.8,92.2h0M6.7,86.1h0M22.7,100.3h0M31.2,1.2h0M115.7,34.7h0M95.2,24.1h0M24.4,76.1h0M24.6,74.4h0M49.4,91.2h0M70.5,65.4h0M21.3,28h0M21.7,28.1h0M52.6,34.5h0M117.8,98.4h0M19.1,106.6h0M38.2,73.6h0M57.6,15h0M128.3,12.7h0M132.9,15.9h0M117.3,9.3h0M99.1,8.2h0M81.3,17.7h0M26.3,71h0M16.7,28.6h0M19.1,34.6h0M61.8,100h0M84.6,99.8h0M83.6,105.3h0M1.5,104.5h0M5.6,101.1h0M85.8,29.6h0" stroke="#D498D6" stroke-width="2.8" stroke-linecap="round"/>
<path d="M22.7,63.4h0M42.5,10.4h0M3.7,-0.2h0M2.8,27h0M120.6,52.4h0M65.2,55.9h0M91.6,96.3h0M15.9,67.3h0M36.2,62h0M-1.4,67.6h0M52,11.3h0M9,34h0M5.7,4h0M6.5,20.2h0M12.6,12.4h0M119.9,62.9h0M115.2,46.8h0M133.1,29.5h0M13.4,18.4h0M37.9,37.4h0M35,43.3h0M36.2,97.5h0M36.1,64.7h0M21.2,81.4h0M18.8,55.7h0M47.2,25.6h0M125.4,62.9h0M117.1,67.8h0M133.9,98.8h0M114.3,19h0M105.7,56.2h0M99.3,64.4h0M37.3,81.8h0M29.5,26.9h0M26.3,16.4h0M20.4,18.6h0M8.5,40.5h0M47,39.2h0M26.8,39.7h0M30.9,56.6h0M39.5,102.8h0M96.8,75.9h0M109.4,101.4h0M106.9,102.4h0M2.8,89.1h0M31,106.8h0M14.4,5.4h0M123.7,67.6h0M127.3,102.4h0M126,1.6h0M96.7,31.1h0M71.9,58.1h0M66.9,57.1h0M32.7,82.7h0M72.5,62.4h0M28,22.9h0M41.2,106.3h0M121,80.7h0M111.7,97.3h0M30.3,68h0M24.4,69.1h0M35.1,69.6h0M65.4,14h0M110.8,75h0M38.6,79.8h0M68.3,72.1h0M74.8,98h0M16.1,90.5h0M122.2,87.2h0M120.3,91.9h0M103,30.8h0M70,17.6h0M76,17.6h0M18.6,29.6h0M24.1,33.8h0M25.6,39.2h0M68.4,99.3h0M-0.2,94.1h0M105.3,30.7h0M86.1,29.1h0M73,26.9h0" stroke="#D498D6" stroke-width="2.4" stroke-linecap="round"/>
<path d="M54.3,5.8h0M11.7,83.4h0M123.5,39.2h0M-1.1,88.2h0M-0.4,82.5h0M33,20.1h0M35.4,26.6h0M107.4,106.1h0M11.1,3.9h0M129.5,66.3h0M91.8,92.3h0M99.3,53.6h0M71.3,54.9h0M28.9,23.5h0M31.4,56.5h0M4.3,63.9h0M22,15.2h0M37,15.4h0M130,95h0M46.3,70.2h0M7.9,46.2h0M33.9,47.2h0M33.8,106.9h0M80.2,81.3h0M96.3,82.5h0M111.3,97.1h0M130.3,89.2h0M128.7,19h0M59.5,53.6h0M58.8,83.8h0M75,103.4h0M19.1,106.5h0M67.3,11.7h0M111.2,17.7h0M75,8.2h0M76.6,13.1h0M47.9,74.7h0M67.3,101.6h0M108.1,33.5h0M83.2,17h0M86.9,18.8h0M67.7,36.1h0M68.5,28.9h0" stroke="#D498D6" stroke-width="1.6" stroke-linecap="round"/>
<path d="M0.9,28.6h0M120.8,46.2h0M9.4,8.5h0M-1,15.4h0M111.3,65.6h0M130.5,47.9h0M112.3,57h0M71.4,47.4h0M24.6,57.1h0M23.8,98.4h0M-1.7,53.2h0M7.2,27.4h0M132.9,102.9h0M31.7,93.3h0M21.4,81.9h0M44.6,46.5h0M44.9,28.4h0M32.9,39.2h0M63.7,81.5h0M64.7,87.9h0M91.5,104.3h0M88.4,88.8h0M23.4,96.6h0M16,15.1h0M49.2,20.6h0M131.2,79.9h0M123.7,12.7h0M99.1,33.2h0M38.1,85.2h0M61.2,56.4h0M70.9,63.3h0M27.3,19.9h0M24.7,24.3h0M7.3,42.3h0M57,36.8h0M56.7,45.1h0M38.6,53.2h0M76,82.4h0M79.4,77.4h0M82.1,73.4h0M78.2,70.6h0M111.3,97.2h0M71.8,13.8h0M131.2,87.3h0M110.3,79.8h0M90.5,39h0M112.2,19.3h0M61.2,62.3h0M24.9,32.8h0M55.3,84.7h0M90,79.4h0M91.6,96.3h0M12.9,104.9h0M97,12.7h0M113.6,7.2h0M106.6,13h0M104.4,19.3h0M108,25.7h0M50,75.1h0M26.4,73.2h0M19.2,34.6h0M61.7,35.5h0M68.2,100.5h0M83,102.7h0M17.1,100h0M108.2,27.7h0M51.2,80.8h0M90,14.7h0M77.4,3.7h0M58.2,19.9h0M85.7,33.5h0M64.1,33.5h0" stroke="#D498D6" stroke-width="2.0" stroke-linecap="round"/>
<path d="M6.4,20.2h0M119.7,41.8h0M101.3,106.2h0M6.3,12.9h0M123.3,37.4h0M111,65.5h0M68.9,48.9h0M35.3,26.5h0M37.5,24.9h0M36.2,36.5h0M41.6,62.3h0M59,3.3h0M131.1,39.2h0M116.5,13.2h0M46.3,63h0M51.4,66.8h0M20.1,24.3h0M44.6,47.1h0M47.3,50.8h0M43.3,39.2h0M43.2,34.1h0M43.3,56.2h0M75.2,73h0M92,102.8h0M31.1,65.3h0M41,19.7h0M109.8,72.9h0M108.9,3.3h0M104.1,41.3h0M103.9,74.8h0M62.5,46.6h0M42.2,71.1h0M30.8,88h0M45,97.3h0M50,96.5h0M69.4,76.7h0M26.8,27.7h0M28.3,50.5h0M43.9,55.3h0M73.3,87.7h0M72.5,87.7h0M84.7,81.4h0M85.9,68.7h0M100.5,87.6h0M20.3,93.8h0M104.2,41h0M111.2,31h0M89.8,42.2h0M55,71.7h0M29.6,77.9h0M64.1,72.1h0M72.2,67h0M56.9,54.7h0M60.9,104.2h0M62.3,88.7h0M111.2,105.1h0M120.9,101.9h0M77.2,104.4h0M8.5,106.8h0M69.6,11.6h0M72,7.6h0M123.6,89.7h0M95.8,14.9h0M29.6,69.4h0M30.7,72.7h0M13.4,30h0M51.2,88.1h0M17.1,100h0M81.1,20.8h0M45,79.5h0M46.7,85.1h0M3.1,101.5h0M89.3,7.8h0M80.6,29.4h0M84.3,12.4h0" stroke="#D498D6" stroke-width="3.2" stroke-linecap="round"/>
<path d="M71.7,28.9C72.3,27.8 75.5,25.4 77.6,23.9C79.7,22.3 81.9,20.7 84.4,19.6C86.9,18.5 90.4,17.7 92.8,17.1C95.2,16.6 97.6,15.9 98.7,16.3C99.8,16.7 100.2,18.5 99.5,19.6C98.8,20.7 96.5,22.0 94.5,23.0C92.5,24.0 90.0,24.6 87.7,25.5C85.5,26.4 83.2,27.2 81.0,28.1C78.8,29.0 75.8,30.5 74.2,30.6C72.7,30.7 71.1,30.0 71.7,28.9Z" fill="#C46CC0" stroke="#C46CC0" stroke-width="12" stroke-linejoin="round"/>
<path d="M87.7,32.3C88.7,31.2 90.2,30.6 91.9,30.6C93.6,30.6 96.0,31.4 97.8,32.3C99.6,33.1 101.5,34.3 102.9,35.7C104.3,37.1 105.5,39.2 106.3,40.7C107.1,42.2 107.0,43.8 108.0,44.9C109.0,46.0 110.9,46.6 112.2,47.5C113.5,48.4 114.9,48.9 115.6,50.0C116.3,51.1 116.8,53.2 116.4,54.2C116.0,55.2 114.4,56.0 113.0,55.9C111.6,55.8 109.8,54.4 108.0,53.4C106.2,52.4 103.8,51.1 102.1,50.0C100.4,48.9 99.1,47.3 97.8,46.6C96.5,45.9 95.5,45.4 94.5,45.8C93.5,46.2 93.0,47.5 91.9,49.2C90.8,50.9 89.0,53.9 87.7,55.9C86.5,57.9 85.8,59.5 84.4,61.0C83.0,62.5 81.0,64.1 79.3,65.2C77.6,66.3 76.2,66.9 74.2,67.7C72.2,68.5 69.5,69.6 67.5,70.2C65.5,70.8 63.5,71.8 62.4,71.1C61.3,70.4 60.1,67.7 60.7,66.0C61.3,64.3 63.5,62.7 65.8,61.0C68.0,59.3 72.0,57.6 74.2,55.9C76.5,54.2 77.6,52.8 79.3,50.8C81.0,48.8 83.3,46.3 84.4,44.1C85.5,41.9 85.5,39.4 86.0,37.4C86.5,35.4 86.7,33.4 87.7,32.3Z" fill="#C46CC0" stroke="#C46CC0" stroke-width="7" stroke-linejoin="round"/>
<path d="M93 79h0M48 34h0M43 14h0M87 49h0M4 22h0M93 67h0M1 72h0M36 99h0M120 34h0M42 37h0M36 1h0M75 78h0M87 15h0M1 20h0M24 25h0M35 76h0M84 3h0M8 100h0M11 66h0M33 15h0M21 85h0M115 1h0M43 87h0M41 14h0M89 81h0M45 47h0M70 53h0M0 16h0M114 42h0M124 88h0M32 55h0M96 51h0M13 36h0M6 18h0M32 18h0M43 15h0M96 23h0M98 98h0M106 22h0M44 57h0M18 69h0M87 38h0M110 28h0M89 3h0M34 79h0M49 71h0M83 14h0M65 91h0M79 91h0M108 94h0M69 94h0M48 32h0M25 94h0M32 35h0M98 84h0M92 82h0M127 48h0M16 90h0M14 40h0M88 94h0M69 35h0M46 62h0M31 51h0M43 48h0M8 34h0M100 67h0M49 49h0M31 8h0M5 80h0M28 13h0M41 64h0M14 41h0M67 21h0M56 38h0M85 8h0M72 50h0M126 6h0M93 67h0M77 8h0M64 25h0M114 50h0M123 56h0M114 11h0M13 41h0M89 73h0M13 9h0M56 104h0M66 81h0M44 100h0M65 42h0M78 21h0M39 39h0M22 93h0M131 23h0M40 31h0M66 57h0M32 13h0M36 32h0M99 75h0M55 99h0M89 25h0M6 21h0M31 98h0M36 9h0M17 12h0M126 54h0M30 80h0M31 94h0M41 69h0M74 76h0M25 45h0M72 10h0M96 62h0M55 46h0M40 77h0M98 26h0M19 94h0M74 20h0M58 65h0M1 2h0M16 19h0M88 82h0M127 92h0M56 70h0M52 100h0M99 75h0M5 12h0M13 83h0M102 54h0M45 92h0M61 63h0M42 63h0M21 27h0M7 90h0M104 65h0M111 49h0M5 86h0M13 61h0M105 12h0M35 67h0M45 1h0M77 8h0M2 80h0M7 48h0M89 72h0M1 62h0M107 37h0M46 69h0M18 48h0M87 104h0M34 91h0M23 9h0M40 73h0M45 83h0M5 61h0M131 69h0M85 10h0M70 0h0M111 55h0M111 26h0M74 70h0M122 76h0M116 53h0M66 79h0M91 9h0M9 62h0M45 38h0M117 9h0M30 91h0M89 60h0M109 9h0M20 51h0M55 57h0M73 69h0M47 83h0M106 75h0M109 13h0M62 70h0M49 81h0M84 3h0M97 49h0M84 28h0M39 70h0M75 19h0M98 94h0M59 92h0M64 12h0M97 52h0M8 94h0M104 98h0M38 2h0M78 12h0M19 3h0M119 56h0M125 78h0M1 29h0M16 48h0M69 34h0M86 11h0M53 80h0M120 73h0M3 20h0M122 38h0M46 58h0M34 103h0M42 48h0M112 3h0M50 36h0M30 79h0M58 80h0M92 67h0M117 91h0M82 41h0M99 11h0M47 64h0M31 43h0M2 7h0M128 69h0M30 76h0M21 35h0M106 10h0M56 55h0M14 104h0M131 63h0M103 48h0M38 13h0M31 39h0M80 19h0M1 90h0M81 100h0M4 102h0M93 69h0M68 46h0M14 0h0M66 23h0M119 103h0M26 3h0M51 60h0M68 46h0M43 49h0M23 28h0M125 3h0M129 58h0M62 87h0M125 63h0M70 53h0M127 78h0M58 59h0M90 15h0M78 22h0M115 85h0M20 43h0M116 96h0M123 37h0M57 27h0M81 52h0M51 9h0M47 92h0M94 101h0M54 83h0M102 92h0M59 24h0M37 16h0M89 100h0M94 66h0M86 25h0M105 32h0M47 103h0M64 17h0M11 66h0M3 14h0M25 22h0M65 21h0M119 42h0M48 78h0M112 62h0M41 3h0M85 102h0M52 7h0M71 12h0M43 22h0M14 79h0M124 77h0M130 16h0M27 4h0M102 95h0M53 4h0M37 73h0M43 73h0M59 63h0M123 4h0M27 7h0M18 93h0M120 18h0M23 79h0M68 16h0M0 104h0M18 0h0M59 94h0M102 59h0M13 83h0M17 87h0M115 1h0M3 21h0M33 84h0M66 80h0M0 13h0M43 46h0M39 39h0M105 8h0M10 58h0M1 100h0M100 69h0M68 27h0M5 29h0M70 35h0M100 94h0M62 19h0M69 41h0M53 31h0M24 15h0M23 102h0M68 34h0M115 12h0M76 40h0M17 59h0M36 59h0M4 76h0M69 13h0M47 24h0M52 28h0M30 101h0M105 12h0M21 5h0M125 25h0M56 28h0M120 23h0M45 22h0M3 28h0M10 16h0M47 90h0M110 73h0M115 91h0M18 93h0M72 45h0M97 62h0M60 68h0M83 92h0M8 55h0M8 74h0M17 22h0M28 75h0M65 22h0M60 19h0M53 2h0M6 6h0M79 21h0M51 56h0M33 55h0M18 92h0M101 49h0M26 29h0M129 48h0M100 14h0M56 67h0M86 12h0M38 13h0M124 7h0M100 45h0M65 70h0M90 23h0M46 36h0M56 36h0M127 18h0M104 95h0M67 14h0M97 64h0M79 62h0M27 89h0M63 76h0M28 95h0M72 23h0M113 34h0M101 82h0M23 70h0M7 7h0M96 55h0M88 103h0M21 28h0M20 19h0M6 84h0M19 91h0M56 48h0M75 1h0M84 1h0M80 78h0M59 60h0M66 64h0M7 70h0M36 12h0M10 47h0M15 46h0M37 91h0M4 36h0M40 95h0M121 51h0M9 103h0M107 77h0M73 73h0M41 72h0M91 55h0M19 40h0M125 28h0M20 68h0M81 16h0M4 15h0M69 55h0M60 87h0M42 29h0M16 102h0M117 44h0M61 33h0M127 73h0M121 97h0M88 40h0M117 91h0M97 23h0M85 28h0M100 104h0M117 99h0M2 52h0M98 29h0M75 97h0M129 73h0M12 68h0M3 37h0M118 22h0M68 61h0M29 7h0M89 86h0M118 26h0M75 7h0M97 73h0M53 31h0M109 64h0M8 20h0M68 27h0M98 23h0M52 13h0M11 62h0M98 88h0M38 44h0M26 12h0M66 102h0M64 17h0M11 52h0M127 91h0M0 84h0M19 27h0M30 93h0M78 70h0M27 86h0M19 70h0M112 67h0M17 24h0M129 79h0M113 67h0M104 102h0M100 86h0M96 49h0M57 30h0M5 31h0M50 82h0M82 72h0M74 93h0M6 15h0M117 93h0M87 83h0M61 47h0M105 31h0M49 24h0M66 11h0M103 3h0M70 26h0M7 55h0M91 13h0M56 104h0M101 7h0M36 86h0M52 99h0M49 48h0M21 71h0M60 39h0M90 27h0M128 51h0M13 84h0M4 100h0M76 60h0M95 3h0M73 40h0M75 77h0M81 102h0M61 49h0M42 97h0M101 72h0M12 58h0M110 101h0M80 63h0M99 8h0M47 23h0M121 69h0M54 91h0M87 79h0M21 91h0M29 51h0M50 68h0M25 53h0M38 69h0M104 86h0M85 33h0M58 49h0M48 17h0M90 14h0M22 74h0M51 49h0M38 45h0M99 46h0M85 22h0M6 45h0M99 30h0M89 99h0M86 99h0M115 57h0M116 26h0M33 17h0M9 45h0M100 17h0M88 7h0M19 62h0M130 7h0M101 37h0M49 14h0M47 72h0M42 41h0M91 7h0M13 1h0M110 94h0M94 88h0M34 102h0M19 61h0M97 58h0M2 87h0M89 67h0M74 42h0M89 93h0M45 29h0M40 62h0M93 104h0M23 24h0M21 71h0M0 51h0M124 96h0M1 91h0M7 39h0M10 94h0M58 36h0M90 12h0M1 1h0M60 99h0M63 30h0M18 66h0M128 88h0M5 86h0M91 19h0M53 24h0M119 22h0M25 83h0M1 4h0M58 84h0M48 63h0M93 26h0M131 29h0M107 40h0M114 96h0M124 37h0M40 46h0M60 60h0M53 12h0M118 60h0M35 56h0M89 29h0M61 59h0M97 21h0M69 12h0M36 54h0M80 65h0M76 81h0M38 7h0M54 57h0M15 29h0M106 99h0M69 64h0M109 56h0M75 84h0M70 83h0M95 98h0M106 33h0M13 16h0M91 50h0M116 27h0M20 75h0M17 104h0M12 16h0M16 43h0M80 28h0M122 48h0M59 67h0M97 27h0M10 91h0M0 23h0M51 18h0M122 66h0M114 78h0M45 3h0M1 50h0M103 104h0M36 62h0M63 97h0M115 10h0M63 64h0M32 7h0M47 37h0M30 47h0M125 42h0M97 18h0M36 24h0M39 86h0M94 83h0M28 40h0M69 7h0M4 50h0M73 84h0M54 39h0M103 39h0M102 28h0M55 93h0M21 18h0M61 33h0M16 62h0M34 96h0M27 49h0M82 2h0M18 60h0M92 73h0M99 54h0M76 30h0M112 71h0M125 50h0M52 55h0M122 5h0M44 2h0M56 40h0M97 9h0M48 7h0M104 97h0M46 18h0M38 93h0M59 38h0M28 67h0M68 29h0M55 29h0M81 67h0M37 99h0M81 96h0M92 57h0M119 4h0M123 18h0M73 23h0M101 42h0M32 7h0M61 97h0M69 75h0M57 78h0M36 75h0M48 82h0M87 83h0M34 96h0M1 69h0M2 27h0M60 81h0M1 6h0M9 100h0M27 13h0M123 29h0M72 98h0M33 56h0M68 69h0M78 75h0M78 89h0M19 42h0M118 33h0M12 16h0M115 55h0M83 101h0M43 36h0M115 43h0M96 55h0M3 20h0M13 91h0M130 96h0M130 49h0M127 71h0M70 4h0M54 25h0M27 78h0M79 28h0M127 69h0M8 14h0M44 66h0M15 23h0M60 72h0M82 81h0M75 32h0M103 24h0M111 43h0M12 17h0M59 45h0M38 85h0M97 66h0M72 100h0M32 5h0M24 39h0M76 61h0M35 10h0M120 96h0M92 21h0M112 26h0M101 10h0M84 58h0M76 48h0M14 68h0M24 8h0M60 28h0M110 51h0M70 37h0M59 95h0M117 33h0M19 94h0M21 48h0M79 74h0M100 44h0M102 17h0M95 102h0M0 28h0M68 72h0M110 70h0M67 101h0M102 23h0M86 85h0M46 61h0M59 87h0M96 23h0M98 96h0M47 52h0M82 4h0M81 93h0M91 82h0M50 12h0M13 93h0M62 49h0M18 7h0M55 100h0M112 58h0M7 21h0M123 9h0M13 67h0M115 92h0M48 87h0M34 95h0M49 83h0M80 21h0M42 66h0M127 59h0M113 49h0M127 21h0M76 56h0M102 90h0M104 104h0M11 34h0M98 82h0M71 73h0M78 44h0M112 29h0M48 89h0M19 54h0M93 50h0M5 79h0M81 87h0M91 7h0M47 60h0M19 3h0M73 102h0M0 34h0M64 48h0M53 2h0M120 25h0M102 96h0M7 104h0M101 49h0M70 25h0M98 26h0M74 92h0M62 24h0M91 68h0M113 68h0M34 65h0M47 28h0M14 83h0M29 76h0M120 3h0M30 59h0M10 11h0M102 36h0M131 43h0M40 85h0M86 35h0M107 65h0M92 41h0M106 87h0M69 13h0M27 66h0M52 101h0M71 0h0M7 93h0M120 47h0M25 39h0M80 33h0M33 26h0M47 46h0M18 65h0M60 59h0M115 84h0M74 70h0M69 59h0M14 56h0M6 8h0M95 50h0M76 48h0M9 18h0M80 35h0M39 36h0M110 59h0M75 50h0M113 88h0M117 76h0M68 62h0M45 56h0M95 87h0M90 4h0M54 29h0M51 60h0M40 43h0M7 29h0M52 52h0M66 92h0M101 84h0M33 37h0M10 4h0M42 89h0M113 0h0M17 89h0M59 40h0M97 40h0M91 46h0M73 94h0M18 30h0M37 90h0M54 52h0M10 39h0M86 23h0M61 65h0M117 62h0M25 40h0M19 28h0M109 25h0M10 54h0M124 95h0M117 84h0M7 68h0M103 28h0M108 104h0M106 66h0M113 70h0M109 61h0M125 89h0M66 82h0M42 61h0M29 69h0M105 90h0M102 34h0M118 13h0M54 83h0M77 29h0M50 36h0M57 22h0M95 35h0M117 31h0M19 79h0M45 96h0M27 30h0M73 32h0M31 44h0M103 46h0M87 85h0M37 17h0M104 17h0M91 50h0M84 16h0M87 97h0M104 22h0M125 99h0M14 27h0M2 21h0M67 33h0M37 70h0M130 43h0M96 61h0M19 90h0M111 13h0M107 14h0M85 4h0M54 41h0M30 6h0M25 79h0M11 57h0M102 6h0M31 62h0M57 49h0M20 98h0M14 2h0M82 28h0M36 65h0M34 59h0M56 85h0M93 2h0M11 86h0M78 51h0M24 65h0M59 60h0M58 0h0M131 57h0M7 6h0M90 15h0M16 9h0M0 31h0M79 33h0M23 67h0M125 9h0M79 7h0M18 1h0M8 16h0M75 94h0M67 97h0M54 47h0M88 49h0M101 94h0M124 78h0M125 21h0M94 77h0M43 104h0M41 69h0M31 33h0M95 50h0M112 6h0M111 33h0M28 91h0M20 2h0M102 47h0M114 3h0M22 85h0M120 41h0M96 98h0M80 58h0M65 20h0M111 81h0M69 47h0M104 18h0M31 28h0M130 49h0M118 5h0M121 94h0M112 9h0M99 85h0M87 63h0M126 85h0M47 23h0M97 0h0M84 17h0M103 58h0M83 47h0M3 73h0M9 24h0M6 42h0M37 12h0M0 49h0M70 32h0M0 0h0M95 55h0M114 17h0M8 52h0M94 99h0M41 5h0M59 31h0M96 58h0M112 45h0M49 45h0M71 84h0M104 68h0M95 23h0M8 80h0M37 43h0M5 31h0M37 81h0M18 82h0M104 26h0M25 93h0M131 33h0M30 95h0M8 90h0M27 10h0M1 77h0M120 82h0M76 56h0M84 21h0M129 34h0M126 30h0M48 0h0M25 22h0M78 12h0M67 46h0M84 73h0M59 53h0M86 88h0M79 44h0M96 61h0M120 15h0M62 2h0M8 7h0M95 82h0M23 8h0M21 55h0M30 30h0M42 53h0M88 23h0M30 79h0M130 28h0M111 44h0M11 70h0M111 49h0M29 72h0M8 31h0M100 26h0M119 47h0M25 37h0M96 70h0M123 18h0M44 84h0M37 49h0M35 24h0M69 59h0M12 75h0M88 44h0M79 19h0M63 93h0M112 84h0M37 39h0M76 0h0M18 63h0M10 87h0M52 70h0M80 71h0M100 96h0M72 91h0M68 29h0M122 15h0M128 33h0M130 85h0M68 87h0M110 45h0M117 44h0M116 45h0M128 24h0M99 93h0M61 102h0M117 71h0M42 7h0M95 62h0M25 26h0M91 58h0M46 63h0M78 3h0M86 20h0M12 73h0M126 66h0M33 60h0M80 63h0M53 12h0M85 12h0M130 40h0M113 72h0M32 80h0M53 3h0M41 27h0M83 10h0M80 67h0M83 13h0M90 41h0M59 104h0M81 38h0M64 81h0M85 86h0M9 60h0M70 12h0M75 12h0M123 70h0M89 59h0M21 32h0M92 84h0M69 3h0M64 40h0M85 17h0M117 23h0M77 0h0M126 23h0M30 8h0M106 32h0M131 86h0M98 87h0M90 33h0M3 72h0M11 71h0M3 90h0M75 70h0M31 40h0M73 33h0M123 9h0M57 0h0M112 15h0M108 16h0M26 8h0M22 12h0M65 33h0M15 14h0M124 95h0M27 4h0M63 26h0M38 29h0M35 49h0M13 2h0M32 35h0M91 15h0M87 20h0M53 82h0M118 104h0M107 18h0M115 37h0M3 77h0M111 35h0M3 97h0M93 50h0M115 0h0M106 20h0M54 96h0M116 28h0M63 90h0M66 85h0M41 89h0M49 95h0M99 104h0M87 31h0M42 81h0M99 103h0M23 60h0M3 2h0M105 40h0M31 97h0M87 80h0M129 61h0M128 49h0M27 90h0M90 31h0M81 68h0M36 104h0M58 73h0M18 97h0M5 1h0M17 102h0M108 4h0M17 19h0M6 95h0M117 73h0M94 16h0M6 87h0M32 75h0M41 73h0M54 73h0M11 30h0M35 97h0M8 14h0M119 83h0M12 24h0M114 52h0M14 3h0M112 61h0M2 12h0M32 55h0M124 33h0M130 17h0M130 34h0M56 3h0M131 19h0M71 11h0M118 86h0M122 65h0M64 29h0M38 0h0M67 103h0M121 40h0M15 38h0M84 31h0M55 48h0M117 86h0M99 24h0M81 13h0M35 4h0M8 94h0M55 15h0M19 33h0M119 81h0M13 8h0M40 3h0M74 47h0M34 3h0M38 19h0M103 41h0M116 46h0M119 74h0M88 24h0M29 87h0M61 3h0M120 3h0M10 1h0M20 13h0M88 18h0M4 49h0M114 85h0M83 52h0M52 55h0M121 5h0M7 74h0M13 102h0M105 18h0M14 38h0M105 78h0M129 46h0M31 76h0M107 64h0M64 80h0M1 17h0M39 59h0M86 1h0M86 66h0M99 5h0M104 66h0M50 41h0M88 58h0M99 35h0M115 21h0M67 90h0M67 97h0M18 99h0M128 6h0M23 76h0M115 78h0M24 104h0M118 43h0M49 34h0M60 48h0M107 29h0M124 100h0M60 98h0M27 12h0M23 84h0M85 95h0M129 9h0M87 26h0M70 37h0M128 32h0M92 33h0M9 80h0M85 73h0M116 102h0M32 13h0M77 68h0M85 87h0M22 39h0M126 81h0M96 88h0M119 41h0M32 83h0M14 91h0M31 85h0M128 92h0M92 79h0M104 102h0M106 94h0M84 61h0M52 76h0M49 43h0M97 45h0M110 65h0M31 85h0M4 76h0M71 93h0M104 40h0M79 95h0M126 23h0M121 98h0M88 78h0M85 20h0M126 45h0M9 1h0M59 41h0M24 86h0M119 32h0M64 58h0M75 17h0M28 13h0M116 73h0M37 14h0M80 76h0M56 50h0M122 60h0M32 22h0M130 71h0M117 82h0M88 82h0M84 77h0M70 10h0M90 104h0M1 55h0M76 74h0M73 71h0M64 4h0M113 20h0M100 80h0M103 37h0M49 14h0M127 16h0M74 46h0M98 74h0M117 20h0M110 56h0M126 68h0M8 41h0M97 66h0M45 31h0M47 55h0M86 40h0M32 27h0M21 8h0M102 73h0M78 15h0M40 19h0M1 72h0M5 78h0M126 86h0M16 24h0M53 51h0M97 88h0M19 87h0M96 20h0M87 66h0M4 38h0M13 60h0M76 84h0M115 10h0M34 35h0M5 26h0M62 39h0M20 5h0M1 30h0M115 44h0M116 48h0M30 51h0M88 2h0M130 21h0M105 46h0M78 71h0M94 54h0M73 54h0M84 57h0M47 54h0M27 32h0M78 79h0M36 36h0M1 23h0M41 77h0M84 0h0M102 24h0M2 42h0M56 24h0M52 91h0M45 25h0M26 52h0M9 7h0M35 104h0M17 97h0M50 94h0M118 41h0M29 101h0M43 77h0M19 104h0M119 86h0M14 49h0M63 94h0M100 27h0M14 93h0M107 11h0M104 87h0M83 95h0M8 9h0M1 83h0M24 43h0M6 19h0M8 22h0M99 47h0M125 100h0M27 96h0M83 46h0M124 10h0M64 6h0M35 92h0M116 103h0M24 50h0M66 4h0M72 45h0M24 104h0M21 29h0M129 7h0M65 51h0M71 31h0M102 96h0M91 84h0M16 3h0M131 71h0M37 103h0M38 91h0M56 96h0M95 72h0M122 31h0M84 17h0M119 17h0M105 32h0M85 31h0M15 27h0M98 11h0M67 103h0M17 2h0M9 41h0M101 3h0M103 43h0M58 103h0M69 36h0M30 16h0M104 2h0M5 17h0M88 77h0M93 99h0M114 77h0M103 49h0M2 92h0M18 67h0M53 64h0M117 93h0M96 87h0M3 16h0M46 35h0M68 3h0M6 59h0M83 83h0M2 76h0M100 8h0M28 72h0M75 4h0M114 103h0M14 21h0M68 91h0M70 18h0M78 92h0M75 103h0M114 16h0M126 64h0M113 20h0M48 101h0M2 21h0M17 99h0M68 8h0M22 20h0M6 93h0M103 20h0M73 34h0M13 27h0M92 46h0M13 74h0M70 8h0M71 40h0M6 45h0M119 38h0M31 31h0M56 51h0M57 96h0M27 76h0M105 14h0M21 69h0M27 51h0M66 17h0M113 26h0M32 104h0M95 57h0M1 18h0M31 73h0M69 32h0M44 8h0M14 48h0M23 100h0M58 89h0M104 12h0M99 27h0M21 88h0M122 28h0M15 72h0M103 57h0M98 48h0M51 50h0M15 101h0M114 83h0M32 95h0M11 1h0M58 4h0M103 43h0M114 41h0M1 37h0M51 95h0M108 12h0M29 48h0M99 60h0M86 89h0M23 65h0M72 18h0M23 64h0M25 61h0M3 15h0M16 83h0M62 31h0M6 53h0M84 17h0M28 58h0M9 7h0M35 36h0M112 6h0M59 62h0M49 102h0M80 92h0M125 5h0M47 69h0M65 68h0M8 30h0M97 72h0M30 101h0M110 28h0M87 31h0M35 8h0M119 39h0M111 47h0M114 24h0M32 19h0M62 57h0M80 86h0M47 55h0M108 77h0M112 13h0M31 64h0M40 19h0M22 60h0M120 101h0M35 32h0M109 35h0M10 104h0M2 62h0M35 67h0M1 14h0M16 45h0M65 37h0M13 65h0M31 19h0M36 0h0M36 10h0M130 41h0M54 25h0M32 83h0M19 6h0M30 95h0M110 104h0M101 4h0M64 66h0M112 56h0M35 56h0M54 29h0M40 30h0M26 75h0M4 55h0M57 33h0M130 45h0M19 34h0M76 77h0M119 29h0M54 16h0M16 78h0M84 72h0M42 27h0M107 7h0M25 41h0M105 8h0M34 33h0M127 20h0M46 60h0M19 58h0M75 57h0M110 10h0M36 88h0M6 99h0M62 1h0M32 16h0M57 23h0M102 38h0M81 86h0M64 5h0M65 62h0M29 90h0M27 50h0M120 32h0M63 40h0M63 57h0M28 12h0M82 29h0M30 88h0M101 53h0M28 96h0M66 37h0M20 38h0M28 99h0M74 91h0M127 83h0M15 75h0M41 39h0M45 46h0M21 51h0M70 20h0M69 74h0M126 69h0M103 2h0M62 17h0M28 91h0M7 100h0M99 10h0M23 4h0M81 49h0M89 4h0M71 99h0M100 93h0M103 40h0M21 2h0M15 67h0M54 64h0M87 2h0M87 10h0M114 90h0M16 87h0M11 37h0M101 78h0M49 62h0M68 11h0M91 5h0M98 42h0M97 54h0M80 76h0M87 77h0M74 12h0M1 4h0M53 32h0M116 9h0M14 22h0M106 22h0M2 17h0M68 97h0M36 102h0M118 12h0M4 94h0M84 84h0M83 35h0M46 70h0M75 24h0M11 89h0M32 28h0M76 54h0M100 60h0M39 9h0M20 21h0M85 35h0M23 31h0M18 23h0M58 15h0M130 6h0M29 71h0M122 20h0M92 40h0M101 57h0M109 98h0M112 7h0M72 18h0M22 28h0" stroke="#6a3aa0" stroke-width="1" stroke-linecap="square" opacity="0.3"/>
<path d="M71.7,28.9C72.3,27.8 75.5,25.4 77.6,23.9C79.7,22.3 81.9,20.7 84.4,19.6C86.9,18.5 90.4,17.7 92.8,17.1C95.2,16.6 97.6,15.9 98.7,16.3C99.8,16.7 100.2,18.5 99.5,19.6C98.8,20.7 96.5,22.0 94.5,23.0C92.5,24.0 90.0,24.6 87.7,25.5C85.5,26.4 83.2,27.2 81.0,28.1C78.8,29.0 75.8,30.5 74.2,30.6C72.7,30.7 71.1,30.0 71.7,28.9Z" fill="#FCF8FC"/>
<path d="M87.7,32.3C88.7,31.2 90.2,30.6 91.9,30.6C93.6,30.6 96.0,31.4 97.8,32.3C99.6,33.1 101.5,34.3 102.9,35.7C104.3,37.1 105.5,39.2 106.3,40.7C107.1,42.2 107.0,43.8 108.0,44.9C109.0,46.0 110.9,46.6 112.2,47.5C113.5,48.4 114.9,48.9 115.6,50.0C116.3,51.1 116.8,53.2 116.4,54.2C116.0,55.2 114.4,56.0 113.0,55.9C111.6,55.8 109.8,54.4 108.0,53.4C106.2,52.4 103.8,51.1 102.1,50.0C100.4,48.9 99.1,47.3 97.8,46.6C96.5,45.9 95.5,45.4 94.5,45.8C93.5,46.2 93.0,47.5 91.9,49.2C90.8,50.9 89.0,53.9 87.7,55.9C86.5,57.9 85.8,59.5 84.4,61.0C83.0,62.5 81.0,64.1 79.3,65.2C77.6,66.3 76.2,66.9 74.2,67.7C72.2,68.5 69.5,69.6 67.5,70.2C65.5,70.8 63.5,71.8 62.4,71.1C61.3,70.4 60.1,67.7 60.7,66.0C61.3,64.3 63.5,62.7 65.8,61.0C68.0,59.3 72.0,57.6 74.2,55.9C76.5,54.2 77.6,52.8 79.3,50.8C81.0,48.8 83.3,46.3 84.4,44.1C85.5,41.9 85.5,39.4 86.0,37.4C86.5,35.4 86.7,33.4 87.7,32.3Z" fill="#FCF8FC"/>
<path d="M48.0,0.0C49.3,-2.0 56.3,-1.3 57.6,0.0C58.9,1.3 56.6,5.8 56.0,8.0C55.4,10.2 55.0,12.3 54.0,13.0C53.0,13.7 51.0,14.2 50.0,12.0C49.0,9.8 46.7,2.0 48.0,0.0Z" fill="#FCF8FC"/>
<path d="M41.0,17.0C41.7,15.8 45.4,15.8 48.0,15.6C50.6,15.4 55.6,14.6 56.4,16.0C57.2,17.4 54.4,21.9 53.0,24.0C51.6,26.1 49.5,29.0 48.0,28.8C46.5,28.6 45.2,25.0 44.0,23.0C42.8,21.0 40.3,18.2 41.0,17.0Z" fill="#FCF8FC"/>
<path d="M13.2,33.0C13.9,31.4 17.6,29.9 20.0,29.0C22.4,28.1 25.5,28.4 27.6,27.6C29.7,26.8 31.0,24.3 32.4,24.0C33.8,23.7 35.6,24.6 36.0,25.8C36.4,27.0 35.8,29.7 34.8,31.2C33.8,32.7 31.8,33.6 30.0,34.8C28.2,36.0 26.4,37.8 24.0,38.4C21.6,39.0 17.4,39.3 15.6,38.4C13.8,37.5 12.5,34.6 13.2,33.0Z" fill="#FCF8FC"/>
<path d="M96.0,8.0C96.7,7.3 101.4,8.1 104.0,9.0C106.6,9.9 110.9,12.4 111.6,13.5C112.3,14.6 109.9,15.7 108.0,15.6C106.1,15.5 102.0,14.3 100.0,13.0C98.0,11.7 95.3,8.7 96.0,8.0Z" fill="#FCF8FC"/>
<path d="M118.0,4.0C118.8,2.4 125.3,2.6 127.0,3.6C128.7,4.6 129.2,8.4 128.4,10.0C127.6,11.6 123.7,14.0 122.0,13.0C120.3,12.0 117.2,5.6 118.0,4.0Z" fill="#FCF8FC"/>
<path d="M116.4,32.0C117.2,30.6 121.6,30.2 123.0,31.2C124.4,32.2 125.6,36.6 124.8,38.0C124.0,39.4 119.4,40.6 118.0,39.6C116.6,38.6 115.6,33.4 116.4,32.0Z" fill="#FCF8FC"/>
<path d="M124.8,59.0C125.8,57.0 130.8,56.2 132.0,58.0C133.2,59.8 133.0,68.0 132.0,70.0C131.0,72.0 127.2,71.8 126.0,70.0C124.8,68.2 123.8,61.0 124.8,59.0Z" fill="#FCF8FC"/>
<path d="M50.4,63.0C51.6,61.8 56.2,62.0 58.0,62.8C59.8,63.6 61.5,66.2 61.2,68.0C60.9,69.8 57.7,73.3 56.0,73.6C54.3,73.9 51.9,71.8 51.0,70.0C50.1,68.2 49.2,64.2 50.4,63.0Z" fill="#FCF8FC"/>
<path d="M55.0,86.0C55.8,83.5 60.0,83.3 62.0,84.0C64.0,84.7 66.3,87.3 67.0,90.0C67.7,92.7 67.7,98.5 66.0,100.0C64.3,101.5 58.8,101.3 57.0,99.0C55.2,96.7 54.2,88.5 55.0,86.0Z" fill="#FCF8FC"/>
<path d="M52.8,52.0C54.5,50.8 64.1,51.0 66.0,52.0C67.9,53.0 65.7,56.8 64.0,58.0C62.3,59.2 57.9,60.2 56.0,59.2C54.1,58.2 51.1,53.2 52.8,52.0Z" fill="#FCF8FC"/>
<path d="M14.4,2.4C15.5,1.7 20.7,2.2 21.6,3.0C22.5,3.8 21.1,6.5 20.0,7.2C18.9,7.9 15.9,7.8 15.0,7.0C14.1,6.2 13.3,3.1 14.4,2.4Z" fill="#FCF8FC"/>
</g></g>
<line x1="118" y1="427.8" x2="132" y2="427.8" stroke="#111" stroke-width="1.6"/>
<text x="125" y="433.4" font-size="3.6" text-anchor="middle" fill="#333">100 &#956;m</text>
<rect x="6.5" y="333.5" width="131" height="104" fill="none" stroke="#a8a8a8" stroke-width="1"/>
<g clip-path="url(#c1)"><g transform="translate(142,333)" filter="url(#bl)">
<rect x="-2" y="-2" width="135" height="109" fill="#FBF7FB"/>
<path d="M-0.9,-8.1l-2.2,6.3M13.2,41.7l3.3,0.3M13.2,-7.1l-2.8,4.7M-2.1,41l2.2-4.6M-3.2,30.5l0.6-2.8M4.8,-3.3l1.2,4l1.6,0.8l0.2,3.5M1.7,1.7l-0.9,1.6l0.1,1.3M18.1,-2.2l-1.1,0.2M1.8,27.4l-0.7-0.6M6.9,30.3l-2.6-2.8M9.6,26.7l-2.3-2.5M4.2,6.5l-2.9-1.2M16.6,41.8l-0.1-3.6M63.2,34.3l-5.1-1.7l0,0M28.9,25l2,0.1M27,27.1l0.5,1.9l-1.4,2.1M58.7,27.9l-1,3.2l0.4,0.9M50.7,23.5l-1-3.8l0.6-0.8l4,1.1l-0.9,3.1M50.3,18.9l0.1-1.9l5.2-1.6l1.2,0.9M44.8,29.9l-0.3-2.6M56.2,44.5l1.8-0.3l1.1-2.7l2.1-0.2M42.8,6l0.4,1.7M26.8,43.1l1.7,0.2M30.1,29.6l1,2.1M1,24.4l-2.9-2.9l3.2-2l0.3-2.2l-2.5-1.3l0.7-3.5l1.4-0.7M-2.5,11.7l-0.6-2.9M57.6,20.6l1.2,0.3l3.4-0.8M51.6,12.6l-1.4,4l-2.6-1.5l-0.4-4.1l0.4-0.7l4,2.3l1.6-0.4l-0.8-4.6M50.7,3.9l2.6,1.5M54.5,12.6l2.8-2.9M28.5,19.6l-1.2,3l-2.5,0.5M19.3,4l0.8,3.2l-1.9,2.3l0.3,1.3M54,37.1l3,1.4M34.3,18l0.6-0.3l0.4-3.6l-1.5-1.1M45.4,-0.1l0.2-2.9M46.9,4l0-3.1M53,-2l-4.1-1.1l-0.5,3.3l2.2,0.9l2.7-2.5M25,37.8l0.2,0.1M29.9,33.9l0.4,1.4M20.9,33.4l3.4,1.3M4.3,9.5l-2.9,1.8M23.8,21.2l-2.9,0M29.2,14.8l0.4,2.6M25.4,26.6l-3.9,1.6l-1.2-1M26.7,-3.7l3.3,1.2l0.4,1.2M29.3,1.5l-2.4,0.7M39.5,10.5l1.3,0.2l1.9,2.3M41.4,29.4l-1,1.6M47,35.4l-2.2,2.6l-1.4,0.5M47,39.6l0,2.6M48.9,35.6l1.5-1.3M52.6,27.9l-2.4-3.2M52.6,28.2l-4.5,1.7l-0.1-0.1M45.8,20.5l-1.5-1.2M37.3,25.5l3.1-0.4M16.2,19.5l-0.9,1.4M12.2,16.6l-0.7,0.6l-2.7-1.2M6.9,11.1l0.6-0.4l2-4M7.5,10.7l3.3,1.7l1.8-0.4M59.5,-7.1l-0.9,6l1.8,1.8M59.7,5.2l3.2,0.7M19.7,23.9l-3.9-1.5M24.7,23.3l-4.4,1.8M12.1,19.9l-2,1.6M40.4,-2.7l-3,2l-1.8-1.1M30.5,35.4l3.7,0M37.2,31.5l-1.1-0.4M13,12.4l3.5,1M16.2,3.6l0.3,4.9M1.3,19.5l2.2,1.8l2.8-2.5M35.8,38l0.6,0.1M42.2,40.5l-1.5-0.2M3.2,13.6l3-0.1" fill="none" stroke="#CE80CA" stroke-width="1.6" stroke-linecap="round" stroke-linejoin="round"/>
<path d="M1.6,61.5l3.7-4.2l0.3,0M3,55.2l-3.1,2.4l1.5,4M-0.1,57.6l-2.3-1l-0.3-1.9M-5,52.9l2.6-5M130.2,5.1l3.1,2l0.6,3M-11.2,66l8.6,4l-0.2,0.9M-4.4,58.6l2.6,4.8M12.4,45.8l-5.3-1.3M17.5,45l-0.5,1.9M6.9,44.9l1.1,2.8l3.9,2.3l-3.9,2.7l-1.9-1.3M-0.1,45l4.1,1.5M-0.5,49.8l4.1,0.5M133.1,-1.6l-2.9-0.1l-1.3-17.4M5.3,106l-0.3,0.2M0.9,106.4l-4,0.2M12.4,108.1l0.2-3.2l-2.4-0.4M31.2,68.6l-0.3-4.8M20.2,64.4l-0.3,2.1M19.9,54l-1.8-1l-1.8,0.7M21.3,48.6l3,3.8l0.5,0.1l2.1-3.2M62.7,104.7l-3-3.9M61.8,108.9l-1.2-2.4M64.3,104.6l0.6-1l3.3-1.3M58,98l-0.6-0.4l-3.6,0.3M66.7,90.7l-3,1.5l-1,2.6M56.3,91.9l-0.4-2.5l4.8-2l0.7,0.6M-1.4,69.3l3.5,2.9M19.9,83.2l1.7,0.4l2.3-1l2.9,1.9M146.5,99.5l-13-0.1l0,1.7M77.7,-1.2l0.2-0.9M73.4,-2.7l0.3,5.4l-1.3,0.3M87.5,1.8l-2,1M88,-0.9l2.9-0.7l0.5,0.3l0.3,3.6l0.4,0.2l4.1-1l1.9,2.6M82.9,4.3l-2.3-0.7l1.3-5.1M133,14.7l-3,0.4M134.1,18.8l-3,0.4M81.9,28.5l0,0.2M64.3,37.1l2.3,0.1l1.7,3.3l2.6,0.1M61.3,37.5l2-1l-0.1-2.2l1-1.5M69.2,46.4l1.2,3.3l4.1-0.3l0.3,0.6l-1.3,3.8l3.1,0.8M44.2,87.3l0.7,2.7l-0.3,0.7l2.7,2.7l-0.9,2.6M44.2,87.3l3.4-3.4M44.2,87.3l-2.2-1.2M51,86.2l0.3,0.7l-0.7,1.2l0,4.6l-3.3,0.7M30.6,88.2l0.5,2.8M14.1,74.6l-0.9,2.6l-1,0.6M51.9,105.7l-3.7,3M59.9,61.9l-1.9,0.4l-1.6,3.2l-4.6-2M27.5,55.2l2.7,2.5l0.4,0M45.8,55.9l2.2,1.9M12,50l1.8,2.7M9.7,56l0.9-0.2M10.2,59.7l2.9-0.4M7.6,61.1l2-0.5M126.1,-3.2l2.1,1.6M116.2,-2.4l0.5,1l-2.1,4.2M116.7,-1.4l2.2,1.4l1.6,0l0.8,3.2M25.9,106.7l1.3,0.9M14.6,108.6l0.7-0.7M14.9,105.3l2.7-1.2M25.2,104.9l-3.3,0.5l-0.9,2.4l-2.2,0.1M21.9,105.4l-1-1.8l1.3-1.7M67.7,95.6l1.3,1.6M54,87.4l3.1-2.9M64,87.6l2-2.4M11.4,71.1l-2.9-2l1-2M5.5,84.1l3.8,2.4l2.5-1.3M23.7,89.1l1.2,0.1l2.1-2.6M27.2,92l3.7-0.7M26.9,96.8l-3.4-2.3M-2.3,88.4l-1.2,2.3M134.3,69.4l-1.6-1.7M78.9,98.8l-1.3,2.3M62.2,24.5l1.4-1.3M130.7,29.8l1-3.4M107.5,2.2l-0.7-0.1M113.3,2.6l-3.9,2.6M94.6,6.6l2.8-1M96.2,11.5l2.2,0.3l0.1,0l0.9-2.9M62.7,28.3l0.5,2l0.6,0.6M68.4,28.8l-0.2-0.1l-1.8-2.1l-0.2-2.6l1.2-1l0.1-3.4M68.8,57.7l-3.6,2.2M64.7,55.1l-3.2,2.7M73.1,56.5l-2.9,2.1l3.1,2.4l0.8,0l1.6-2.9l-2.6-1.6l0.1-2.5l0.3-0.2M64.5,50.2l-0.7,0.3M38.2,45.3l0.1,1.3l3,2.4l1.3,0M38.3,46.6l-2.9,2.4M16.9,70.5l3.1,1M44.4,81.7l-0.5-2.5M36.9,85.2l-3.2,0.7M32.2,80.9l0.4-4.9M50,78.2l-0.1,0.1l0,0.2l3.5,2.9l0.6-0.1l2.1-4.1M50.2,75.1l3.4-1.2M36.2,72.3l0-0.3M45.7,66.9l1.6-3.6l2.2-1.2l2,0.7M53.4,68.9l-1.9-1.5M39.1,67.6l4.4-1.9M53.2,56.1l-2.4,0.1M36.2,94.2l-0.4-3.9l3.3-1.5M35.6,62l-2.8,1.7l2.4,2.8M35.4,57.8l-0.7,1.1M38.3,66.5l-0.6-0.3M37.5,57.5l1.7,3.4M48,44.6l2.4,0.8l0.5,4.3l0.7,0.2M13.3,68.6l-0.4-1.6l2.8-2.1M122.9,-1.1l2.1,2.3M60.7,77.3l2.9,2.4l0.9-0.1l0.9-3.7M61.8,83.4l-0.4-1.3M65.2,80.1l3.4-0.5l0.6-0.8l3.4,0l0.1-0.1M61.5,72.5l0.3,0.3M17,83.4l-1.4-1.9M14.1,86.6l0.1,0.2l-0.5,4.3l-3.8,0.8M18.5,89.6l-3.4,2.5M-0.9,94.3l-1.9-1M8.3,101l-0.2,0M133.2,64.9l-0.3-0.5M143.6,58.3l-10.6,1.9M131.1,56.8l0.8,2.6M109.9,84.6l-2.6-0.7M88.8,21.9l-3.9,2.1M87.2,27.1l3-1.2M76.8,95.3l0.1-0.2M62.2,20.1l0.8-1.7M83.2,11l2.4,0.6l0,5M84.5,17l-4.1-1.4M132.3,36.5l-1.2,1.5M134.8,41.3l-3.2,0.2M117.9,15.2l-2.6-1.1M102.3,3.3l1.3,4.1l4.6-0.6l-0.4,3.7l0.5,0.5M115.3,6.9l3.2,1.6M118.2,10.4l1.9,2M89.5,38.2l-0.4-3.2M88.2,34.4l-3.4,4.2l0.7,1M81.4,34.5l2.4-0.2M81.8,38.3l3,0.3M78.6,16.8l-3.3-1.1M73.2,18.7l2.7,2.6M29.1,102.3l3.3-1.6M33.8,100.9l2.3-3.7l3.5,1.6l1.5-0.8l0-0.1M51.8,101.4l-0.6,1.7M45.7,100.7l0.4-0.5l4.5-0.7M29.8,73.5l-3.5-2.8M15.3,101.3l-0.2-4M14.5,96.9l1.1-3.7M21.3,100l0.9-1.5M-1.6,101.1l2.8,1.4l0.6,3M-1.9,99.1l1.6-2.3M6.6,101.9l-3.9-0.5M132,72.3l2.2-1.5M124.1,108l0.6-2.8M129.2,106.7l-1.3-2l0.2-1.4l-2.6-2.2M132.2,109.2l-1.1-2.2M132.5,105.3l-0.7-2.6M109.9,90.8l-1.6,2.4M115.6,95l1.9-2.1M114.7,79.2l-1.7,2l2,2.8l3.5-2.4M108.8,79l0.6-0.1M114.5,89.3l-2.4-2.9l-1-0.1M120,90.5l-1.8,2.3M132.6,98.2l-2.9,0.7M92.8,59.3l-0.4,3.2l-3.5,0.2l-0.3-0.4M91.1,54.3l-1.5,3.3l-2.8-0.2M99.8,79.2l0.4,3l3.3,1l2.1-5.3M99.9,73.1l-3.3,3.6M99.7,17.4l-1.8-1.9l-3.1,1M131.4,48.4l1.1-1l0.2-0.6l2.6-1.2M125.3,14.4l-2-1.8M124.1,9.3l-1,3M91.1,13.3l2.2,0.7M86.1,16.8l3.7-1.4M88.8,20.5l3-2.3M85.9,45.3l2.6-0.4l2,3M83.3,63.7l0.3,2.2l-3,1.2M72.4,42.8l-0.2,1.2M77.2,40.7l-0.6,1M33.3,105.5l-3.3,0.9M38.5,103.4l2.9,0M52.3,93.7l-0.9-0.2M22.7,78.4l-0.7-3.2M30.1,74.6l-3.3,2.4M24.8,71.4l-0.3,2M119.9,7.5l-0.7-3l-1.9-0.7M74.5,88.3l1.6-3.5l-0.5-1.1M127.5,95.1l0.8,3M99.4,82.6l-1.5,4.3M104.2,92.8l-0.5-4.2M133.9,82.2l-2.2-0.5M133.7,76.4l-0.1-0.2M118.3,100.6l0.4-2.2l1-0.8l0.6-1.7M115.5,105.1l-1.3,3.2M110.1,107.9l0.7-4.2l-3.4-1.9M114.5,102.6l-0.2,0.3M90.2,53.2l-2.9-0.4M80,52.4l2.7,0M86.6,50.2l-2-1.5M86.2,80.1l-2,0l-1.2-0.7l-1.3-1.9M94.2,102.9l0.2,3.1M87.5,112.6l3.5-5M64.8,-2.5l0,2.4M64.4,0.1l-4,0.6M62.5,11.1l1.5-1.8M71,8.1l-0.2,0.8M65.4,9.3l2.5-3M75.8,8l1.6,1.1l1.3-1.2M74.9,3.4l3.9-0.1M79.9,55l-2.5,1M83.5,53.8l-1.2,2.5M75.2,78.4l1.5-2.7l2,0.2M75.6,74.3l1.8-2.5M67.8,75.5l0.9-1.4M66.6,70.5l0.9,0.5M98.9,104.5l-1.2,1.7M91.9,99.2l0.5,2.8M98.4,93.2l3.2,1.5l-2.4,3.5l-2.6-0.2M98,92.5l-0.7-0.3M119.5,81.9l0.9,2.5l-2.5,2.9M131.4,81.1l-2.9-1.8M84.4,90.4l2.4-2.7l-0.1-1.7M89.5,98.5l-2.4,2.7M71.2,71.2l2.4,1.3M66.8,67.1l3.1-0.4l0.9-1.8l3.3,1.3M74.5,70.6l-1.4-1.7l-1.4,0.4M127.7,86.6l0.8,3.1M129.3,84.9l0.8-0.3l2.4,2.9l-1.9,2.9M123.4,89.1l3,1.9M122.5,100.9l-1.8,1.7M121.5,90.5l2.3,4.4" fill="none" stroke="#CE80CA" stroke-width="1.5" stroke-linecap="round" stroke-linejoin="round"/>
<path d="M-4.4,58.6l2-2M-5,52.9l2.3,1.8l2.3-1.6l3.2,1M-0.2,67.2l-1.1-3.7l2.7-1.9M21.3,48.6l-2.5,0.6l-0.7,3.8M17,46.9l-3.6,0.6l-1.4,2.5M-0.1,45l-2.3,2.6l0,0.3M4.8,118.1l0.2-11.9l-3.2-0.7M90.2,-134.7l5.4,132.3M70.7,33.3l2-1.4M67.7,35.9l-0.8-2.8M58.2,56.2l-3.7,1.1l-1.3-1.2M58.2,56.2l-0.8-4.1l-0.6-0.4l-0.1-3l3.7-1l1.9,2.6M58.2,56.2l2.3,0.7M54.5,57.3l0.1,2.9l3.4,2.1M16.1,62.5l2.9,0.1M26.9,49.3l-3.2-3.1M130.1,5l-0.9-1M65.5,108.3l0.2-0.3l-1.4-3.4l-1.6,0.1l-2.1,1.8M58.7,100.9l0.7,5.2l-1.8,0.9M59.7,100.8l-0.8-0.1M55.4,106.2l1-3.9M59.3,92.2l-3-0.3l-0.6,0.9l-3.4,0.9M61.4,94.8l1.3,0M63,100.1l0.9-0.8l3.8,1l0.5,2l1.4,1l-0.1,3.9M61.4,88.9l0-0.9l2.6-0.4M2.1,72.2l3.1-3.2M-2.8,70.9l2,3.7l-1.3,1.7l-0.1,0.6M2.1,74l1.2,1.2l3.8-1.3M-0.7,79.6l0.8,0.4l1,3.5M-2.3,88.4l1.1-0.6l0.6-2.7l-5.6-2.8M83.8,-1.1l1.7,3.9l0,0M81.9,-1.5l-2.1-2M99.1,-1.8l3-9.9l1.4,9.5l1.2,0.3l2.1,4M78.7,25.8l3.2,2.7M79.4,31.7l2.5-3l4.3,3.7l0.7,0l1.3-1.7l2.1-0.6M77.4,32.8l-3.1,0.5M68.4,28.8l0.3-0.1M72,37.3l-1.1,3.3l1.5,2.2l4.2-1.1M65.7,44.5l-3-0.2l-1.4-3M63.3,36.5l1,0.6M64.5,50.2l2.1-4.3M44.9,90l5.7-1.9M47.6,83.9l3.4,2.3l2.4-4.8M33.5,85.8l0.2,0.1M14.1,74.6l0.9-0.3M59.9,61.9l2.3,2.9l3.6-1.2M32.6,47.4l-2.1,0.5l-0.7,0.9l1.1,3.7M33.3,53.9l3-1.8M37.7,52.6l1.5,2.3M35.4,57.8l2.1-0.3M43.6,52.7l-3.1,2.4M42.5,57.8l0,2.5M10.6,55.8l3.3,2M16.3,53.7l-2.5-1M8.5,55.4l1.2,0.6M24.1,62.7l3.3-1.2l2.1,2.1l-2.9,3.5l-2-1.1M16.7,58.6l-1.3-1.4M19.9,54l1.5,4.4M112.2,-1.5l2.7-1.3l1.3,0.4l3-3.3M112.2,-1.5l-3.2-3.7M112.2,-1.5l-0.3,0.7M12.6,104.9l0.5-0.3l1.8,0.7M72.4,97.3l0.6,4.6l1.7,0.8M60.7,87.4l-0.3-1.2M67.7,90.8l1.1-2.9l-2.8-2.7M8.5,69.1l-2.7,0.3M8,74.3l0.8,2.8l-2.2,2.8M4.8,84.4l0.7-0.3M23.3,94.6l0.2-0.1M26.8,84.5l0.2,2.1l3.6,1.6M68.5,92l3.8,0.2M78.9,98.8l-2.1-3.5M66.4,26.6l-3.6,1.5M83.6,6.8l2.7,0.9l-0.1,3.5M132.2,35.5l0.1,1M143.6,58.3l-10.3-4.1M127.8,9.1l1.3,1.8M107.7,-3.2l0.8,3.8M96.5,-1.5l-0.3,3M77,37.6l3.6-0.8M75,28.3l-1.2-1.6M63.8,30.9l0.4,1.9M68.2,55.7l1.3-2.6l-0.3-1.2M48.5,51.8l0.3-0.9l2.1-1.2M19.9,66.5l-1.9,0.6M31.6,81.5l-1,0.1M43.9,79.2l-4.3-1.1l-1,0.6l-0.7,1.9M39.6,78.1l1.6-4.4l-5-1.4M36.9,85.2l1.6-2.9M35,75.1l-2.4,0.9M41.2,73.7l0.5-0.3M48.4,72.3l1.8,2.8l-0.2,3.1M54.9,76.5l-1.3-2.6M58.8,72.1l-0.2,0.1M43.9,60.5l3.4,2.8M35.7,94.7l0.5-0.5M34.7,58.9l0.9,3.1l1.2,0.2l2.4-1.3l2,0.5l0.1,1.1l2.2,3.2M30.9,63.8l0.6-0.3M35.2,66.5l2.5-0.3M58,44.2l2.5,2.2M55.2,46l0.2,1.8l-3.8,2.1M11.6,63.1l2.4-1.1l2,0.6l-0.3,2.3M121.3,-3.7l0.6,2.4M125.2,3.4l-0.2-2.2M77.6,101.1l2.2,3.4M75.5,106.4l0.8,0.6l0.3,0.4l-2.2,28.7M60.7,77.3l-2.1,1M69.1,83l-0.5-3.4M61.8,83.4l4.2,0.8M65.4,75.9l-3.2-2M11.9,82.6l-0.1,2.6l2.3,1.4M19.9,83.2l-0.7-4.3l3.5-0.5M8.3,101l0.5,0.3M3,90.2l-0.2,1.6l-3.7,2.5M8.6,89.9l1.3,2l-0.7,2.1M15.1,92.1l-1.4-1M17.6,104.1l0.3-0.7l-0.3-1.2l-2.3-0.9M6.6,94.8l-0.5,3.7M132.7,67.7l-2.7,1.1M104,88.1l5.4,1.2l0.5,1.5M104.4,84.5l2.9-0.6M87.5,74l3-2.7l2.9,0.8M87.2,27.1l-2.3-1.6M82.2,104.9l1,1.4M73.5,88.6l1-0.3M63.6,23.2l-1.4-3.1M67.5,19.6l3.2-1.1l-0.7-3.7l-3.3,1.3l-1.3-2.4M71.6,19l-0.1,3.5l-1.4,1l0.8,2.8M71.5,22.5l2.9,0.9M82.5,8.2l0.7,2.8M131.6,41.5l-0.5-3.5M111.9,14.3l1.3,0.7l2.1-0.9M111.9,14.3l-0.5-2.8M111.9,14.3l-3.1,0.9M109.4,5.2l0,0.5M102.4,15.6l-0.5,1.1M103.4,7.9l0.2-0.5M103.4,7.9l0.9,3.3l0,0M103.4,7.9l-4,1M85.6,16.6l0.5,0.2M80.6,41.1l1.2-2.8M75.9,21.3l-0.2,1.2M80.4,15.6l-1.8,1.2l-0.2,2.7l2.9,2.4l1.6,0M73.2,18.7l2.1-3l-1.1-2.3M26.5,101.8l-0.5-2.9l-3.8-0.4M32.4,100.7l0.9,0.3M38,102.5l1.6-3.7M51.9,105.7l-0.7-2.6M46.1,104.9l0.4-0.9M46.1,100.2l-0.2-3.9l0.5-0.3M42.4,91.9l0.9,3.9l-2.2,2.1l-2.5-3.9M32.4,69.7l-2.6,3.8M27,69l-0.7,1.7M12.7,66.9l-1.3-3M5.9,64.2l2.4,0.7M15.1,97.3l-0.6-0.4M21.7,97.3l-2.5-0.9l-0.2-2.3M18.7,100.1l-0.9-2.3M1.2,102.5l1.5-1.1M-0.3,96.8l2.7,0.7M-4.2,103.3l2.6-2.2M-7.8,96.8l5.9,2.3M126,110.1l3.2-3.4l1.9,0.3l1.4-1.7l2-0.2M108.3,93.2l1.6,3.8l-2.8,2.4M114.9,84.6l-2.8,1.8M114.3,90.6l0.2-1.3M117.7,87.3l0.2,0l2.1,3.2l1.5,0M117.5,92.9l0.7-0.1l2.1,3.1M133.5,99.4l-0.9-1.2l0.9-2.5l19.3,2.7M133.5,95.7l-0.9-2.2M129.7,102l-1.6,1.3M124.1,108l-4-0.3M92.8,59.3l-2.9-1.1M88.2,66.9l0.7-4.2M86.9,74.1l-0.2,5.6l-0.5,0.4l0.8,5.6M94.7,80.4l1.6,1.9l-1.8,2.3M89.8,80l1.4,2.3M67.3,10.7l3.5-1.8l1.4,4.1M63.7,13.3l-1.2-2.2M131.7,51.5l-0.3-3.1M128.8,14l-3.5,0.4M89.8,15.4l2,2.8M83.7,43.1l-1.3,0.1l-2.7,3.1M83.6,65.9l1.5,1.3M88.6,62.3l-3.1-1.1M75,47.4l3.6-1.5M31.2,109l-1.3-2.3M29.1,102.3l0.9,4.1M36.8,115.7l1.7-8.1M50.6,99.5l-0.9-2.4M119.2,4.5l2.1-1.3l2.9,1M123.5,8.2l-3.6-0.7l-1.4,1M83.3,63.7l-3.6-2M94.6,85.5l2.9,1.5M133.9,82.2l3.5-3.6M114.5,102.6l-1.3-4M114.2,108.3l-4.1-0.4l-0.2,0.1M119.5,106.3l-4-1.2M81.3,85.4l1-0.2M75.2,78.4l2.5,2.1M80.4,47.8l-1.8,3.4M83.5,49l1.1-0.3M89.6,85l2.9,2.5M91,107.6l2.3,0M84.6,106.5l3.5-2.3M64.4,0.1l-0.8,5.1l-0.7,0.7M70.6,7.4l1.8-4.4M67.3,5.3l0.6,1M71.4,-3.8l-2.6,4.9M78.8,3.3l1.1,0.6M71,8.1l4.8-0.1l-0.9-4.6l-0.9-0.6M79.9,55l0.1-2.6M75.7,58.1l1.4-0.5l0.3-1.6M80,77.4l1.7,0.1M80.7,70.9l-0.6,1.3l-0.2,0.1l-2.5-0.5M80.6,67.1l-0.7,1.5M72.4,75l-3.7-0.9M61.8,72.8l4.8-2.3M101.9,106.2l1.5-2.3M101.9,106.7l3.2,2.2M98.9,104.5l-0.1-1.7M104.8,98.2l-3.7,2.1l-1.9-2.1M100.5,88.8l-2.5,3.7M96,97.3l2.4-4.1M96,89.1l-3.2,0.1M92.4,93.9l0.7-1.2M121.3,80.1l-1.8,1.8l-1-0.3M120.7,77l3.8-0.7M128.3,98.1l-2.4,1.6l-2-1.6l-1.7,0.9M90.2,25.9l1.5,1.8M85.8,93.2l-1.4-2.8M86.8,87.7l2,2.1l3.8-0.9M89.5,98.5l-0.6-1.9M84.6,95.8l0,0.1M73.8,73.9l-0.2-1.4M68.6,72.4l2.6-1.2M76.4,70.2l-1.9,0.4M128.5,89.7l2.1,0.7l1.2,2.7M131.7,81.7l-1.6,2.9M125.1,101.3l-1.1,3l0.7,0.9M118.3,100.6l2.4,2M70.7,64.6l0.1,0.3M77,63.9l-0.1,0M77,68.7l-1.4-2.9" fill="none" stroke="#CE80CA" stroke-width="2.9" stroke-linecap="round" stroke-linejoin="round"/>
<path d="M3,55.2l-0.2-1.1M-0.4,53.1l-0.1-3.3M133.3,7.1l3.1-2M57.6,107l0.9,8.1M133.9,10.1l-0.3,0.3l-4.5,0.5l-0.3,3.1M133,14.7l2.2,1.7M-11.2,66l9.4-2.6M-2.6,70l1.2-0.7M17,46.9l1.8,2.3M21.3,48.6l2.4-2.4M3.6,50.3l0.4-3.8l2.9-1.6M8.7,106.8l-3.4-0.8M1.3,121.3l-0.4-14.9M91.4,-1.3l4.2-1.1M70.6,35.8l0.1-2.5l-2.4-1.5M72,37.3l1.6-0.5l0.7-3.5M73.6,36.8l3.3,0.9l0.1-0.1l0.4-4.8l0.8-1l-3.1-3.5M30.9,63.8l-1.4-0.2M53.2,56.1l0.7-3.3l-2.3-2.9M11.9,50l0.1,0M19.9,66.5l1.6,1.6l0.4,2.1l-1.9,1.3M23.7,63.5l-3.5,0.9l-1.2-1.8M16.7,58.6l4.5,0.1l0,0l0.2-0.3M19.9,54l4.4-1.6M130.2,-1.7l-0.4,0.3l-0.6,5.4M129.8,-1.4l-1.6-0.2l-3.2,2.8M65.7,108l3.8-0.8M59.4,106.1l1.2,0.4M59.7,100.8l3.3-0.7M61.4,94.8l-3.4,3.2M64.1,95.9l3.6-0.3M68.5,92l-0.8-1.2M66.7,90.7l-2.7-3.1M-2.8,70.9l-2.4,2.7M-2.3,88.4l-8.8-5.7M1.1,83.5l-1.7,1.6M19.9,83.2l-1.2,0.5l-1.7-0.3l-2.9,3.2M18.3,87.8l0.1,0.1l0.1,1.7M3,90.2l0.6-0.5M74,2.8l3.7-4l1.1,4.5M79.8,-3.5l-1.9,1.4l-4.5-0.6l-1.6-1.3M88,-0.9l-0.5,2.7M82.9,4.3l2.6-1.5M99.1,-1.8l2.4,1.4l2-1.8M91.7,2.3l-1,0.6M78.2,31.8l1.2-0.1M67.7,35.9l-1.1,1.3M61.3,41.3l3-1M69.2,51.9l-4.7-1.7M31.1,91l4.5-0.8M15,74.3l3.2,1.2l0.4,3.1l0.6,0.3M18.2,75.5l1.7-1.2M49.9,78.5l-2.5,4.9l-3-1.7M57.8,67.7l1,4.4M62.2,64.8l-0.2,1.6M56.5,66.9l-0.1-1.4M32.6,47.4l2.8,1.6M27.5,55.2l3.4-2.7M42.5,60.3l1.4,0.2M50.8,56.2l-2.3-4.4M15.4,57.2l0.9-3.5M9.7,56l0.5,3.7l-0.6,0.9l2,2.5l-0.2,0.8M21.2,58.7l2.9,4M25.1,57.2l2.3,3.9l2.8-3.4M111.9,-0.8l1.4,3.4M25.9,106.7l-3.5,2.4l-1.4-1.3M18.6,108.1l0.2-0.2l-1.2-3.8M73,101.9l-3.4,1.4M70.9,108.4l4.6-2l-0.8-3.7M54,87.4l1.9,2M60.4,86.2l-3.3-1.7M5.8,69.4l1.3,4.5l0.9,0.4M16.5,69.7l0.4,0.8M6.6,79.9l0.2,0.9M8.6,89.9l0.7-3.4M23.5,94.5l2.2-3.4l1.5,0.9M13.1,104.6l0.6-2.7M72.3,92.2l2.2,3.1l2.3,0M135.4,38l-3.1-1.5M131.7,26.4l3.1,0.1M130.2,5.1l-2.4,4l-3.7,0.2l-0.6-1.1l0.7-4M102.3,3.3l4.5-1.2M99.4,8.9l-2-3.3M101.6,2.9l-3.5,1.2M81.4,34.5l-0.8,2.3l1.2,1.5M68.7,28.7l2.2-2.4M70.2,58.6l-0.3,0l-1.4,4.5l-2.4,0.2M63.8,50.5l0.9,4.6M60.5,56.9l1,0.9M59.9,61.9l1.6-3.8M44.1,47.5l-1.5,1.5M37.7,52.6l3.6-3.6M38.5,82.3l-0.6-1.7M45.4,77.2l-1.5,2M45.4,77.2l4.5,1.1M45.4,77.2l-0.5-2.4l-3.2-1.4l0.5-2.9l-3.1-2.3l0-0.6M42,86.1l-0.4-2.5M50,78.2l4.9-1.7M53.6,73.9l0.5-2.1M56.1,77.2l0.4,0M42.2,70.5l3.8-2.6M51.5,67.4l0.3-3.9M48.7,57.9l0.8,4.2M54.6,60.2l-3.1,2.6M38.6,94l2.6-2.3l1.2,0.2M32,94.6l3.7,0.1M34.7,58.9l-2.6,0.5l-0.6,4.1l1.3,0.2M33.6,69.7l1.6-3.2M38.3,66.5l3-4M37.7,66.2l-0.9-4M44.9,47.5l3.1-2.9M60.4,47.7l0.1-1.3l2.2-2.1M50.4,45.4l1.1-0.6M81.1,108.9l-4.5-1.5M63.6,79.7l-2.2,2.4l-2.4-1.2l-0.4-2.6M69.1,83l-3.1,1.2l0,1M65.2,80.1l0.8,4.1M68.8,87.9l2-0.9l0.2-3.2M11.5,81.9l0.4,0.7M8.3,101l2.3-4.7l2.6,0.8M6.6,94.8l-1.8-0.5M-2.8,93.3l-5,3.5M6.6,101.9l1.5-0.9l-2-2.5l-3,0M132.9,64.4l0.1-4.2l-1.1-0.8M109.4,89.3l1.7-3l-1.2-1.7M88.8,21.9l1.8,1.2M84.9,25.5l0-1.5M78.9,98.8l3.9,0.5l-0.6,5.6M77.4,90.2l-0.5,4.9l4.2-1.8l0.8-3l-1.5-1.7M81.9,90.3l2.5,0.1M70.7,18.5l0.9,0.5M73.8,26.7l0.6-3.3l1.3-0.9l3,2.5M67.5,19.6l-1.7-1.4l0.9-2.1M70,14.8l0.3-0.6M83.6,6.8l-1.1,1.4M115.3,14.1l0.5-2.7l2.4-1l0.3-1.9M108,17.1l0.8-1.9l-1.1-1.3l-2.2-0.4l-1,1.7M101.6,12.9l0.8,2.7M117.9,15.2l2.2-2.8M84.5,17l-1.6,4.9M77.2,40.7l3.4,0.4M83.8,34.3l1,4.3l0,0M87.2,27.1l1,3.6M26,98.9l0.9-2.1M33.8,100.9l-0.5,0.1l0,4.5l1.3,1.1M52.3,93.7l1.5,4.2l-2.4,2.2l0.4,1.3l4.6,0.9M51.2,103.1l-4.7,0.9l-0.8-3.3M41.1,98l2.3,2.5M29.8,73.5l0.3,1.1M12.7,66.9l-3.2,0.2l-1.2-2.2M121.9,-1.3l-1.4,1.3M115.9,4l1.4-0.2l1.6-3.8M20.6,92.8l-1.6,1.3M25.9,102.5l0.6-0.7M23.3,94.6l-1.6,2.7M15.1,97.3l2.7,0.5M112.7,93.9l-2.7,3.1l3.2,1.6l2.3-1.9M118.5,81.6l-2.2-2.4l1.9-3.5M107.3,83.9l1.5-4.9M115,84l-0.1,0.6M131.8,102.7l-2.1-0.7l0-3.1M117.3,116.6l2.8-8.9l-0.6-1.4l1.4-2.5l-0.2-1.2M89.9,58.2l-1.3,4.1M92.4,62.5l0.3,0.3l0,3.4l-3.2,1.7M96.3,82.3l3.1,0.3M96.6,76.7l-1.7,0.1l-0.2-0.2M94.5,84.6l-3.3-2M93.4,72.1l0.9-0.7M67.4,12.3l-0.1-1.6l-1.9-1.4l-1.4,0l-1.1-3.4M132.7,46.8l-1.9-4.2l0.8-1.1M96.2,11.5l-2.9,2.5M83.7,43.1l1.8-3.5M74.5,49.4l0.5-2M30,106.4l-0.1,0.3l-2.7,0.9M38.5,103.4l-0.8,2.8M41.4,103.4l2,2.1l-1.1,2.4l4.6,9.1M49.7,97.1l-3.3-1.1M26.5,77.8l0.3-0.8M26.5,77.8l-2.4,1.3M26.5,77.8l4.1,3.8M22,75.2l2.5-1.8M76.1,84.8l4.6,1.3M80.6,67.1l-3.6-3.2M68.5,63.1l2.2,1.5l2.6-3.6M134.6,92.1l-2,1.4l-0.8-0.4M97.9,86.9l-0.4,0.1l-1.5,2.1M104,88.1l-0.3,0.5l-3.2,0.2M104.4,84.5l-0.9-1.3M137.4,78.6l-3.7-2.2l-2.3,4.7l0.3,0.6M136.5,73.1l-2.9,3.1l-1-0.7M81.3,85.4l-1.1-3.4l2.8-2.6M75.6,83.7l2.1-3.1l0-0.1l2.3-3.1M75.2,78.4l-2.5,0.3l-0.3-3.7l1.4-1.1M90.5,47.9l-3.9,2.3M85.9,45.3l-1.3,3.4M79.7,46.3l0.7,1.5M82.3,85.2l4.4,0.8l0.3-0.3M92.4,102l-4.2,1.9l-0.1,0.3M88.2,103.9l-1.1-2.7M67.9,6.3l2.7,1.1l0.4,0.7M72.4,3l-3.6-1.9l-0.9,0.2M78.7,7.9l1.2-4M74.8,50l3,1.4l-1.2,3.2l0.8,1.4M77.8,51.4l0.8-0.2M81.7,77.5l1.8-2.8l-3.4-2.5M77.4,71.8l-1-1.6l0.6-1.5M105.1,108.9l1.4-1.4M100.3,108.5l1.6-1.8l0-0.5l-3-1.7M103.4,103.9l-2.6-2.4l-2,1.3M94.2,102.9l2-1.2M103.1,94.6l-1.5,0.1M93.1,92.7l-0.3-3.5l-0.2-0.3l-0.1-1.4M94.2,96.9l-1.8-3l-1.7,0.1l-1.8,2.6M120.7,77l0.6,3.1M121.5,90.5l1.9-1.4M125.5,101.1l0.4-1.4M85.8,93.2l3-0.8M83.4,99.1l1.2-3.2M69.9,66.7l0.2,1.4l1.6,1.2l-0.5,1.9M126.3,94.5l0.1-3.5M125.1,101.3l-2.6-0.4M123.9,98.1l0.2-3.1M76.9,63.9l-1.3,1.9M73.1,68.9l1-2.7" fill="none" stroke="#CE80CA" stroke-width="2.1" stroke-linecap="round" stroke-linejoin="round"/>
<path d="M12.4,45.8l0.8-4.1l-1.4-1.1l-4.7,2.3l-2.4-3l-4.8,3.2l0,1.9M17.5,45l5.1-1.2M-0.1,43.1l-2-2.1l-1.4-0.2M10.4,-2.4l-3.7-3M0.1,36.4l-0.5-1l0.7-2l-3.5-2.9M-7,32.5l4.5,3M6.7,36.4l-2,2.8M6,0.7l-4.3,1M16.5,42l0.1-0.2l4.8-1.9l0.1-0.2l-2.3-3.1M61.2,41.3l0.1,0M13.2,-7.1l3.8,5.1M10.7,-0.5l3.7,1.3M62.2,24.5l-2.3,0.3l-1.6,1.8M36.4,-6.9l4,4.2l0.8,0l1.5-1.5M6.8,24.4l-3.4-2.2M1,24.4l0.1,2.4M4.2,6.5l3.6-1.5l1.7,1.7M61.3,37.5l-2.6-0.6l-0.6-4.3M28.9,25l-1.9,2.1M30.9,25.1l0.9,1.9l3.9,1.3M41.4,29.4l-0.4-3.6M47.6,9.7l-4.4-2M46.9,4l-3,0.4M31.1,31.7l4.9-0.8l0.1,0.2M53.4,23.1l2.3,2.1M56.4,19.3l1.2,1.3M55.6,15.4l-1.1-2.8M47.6,9.7l0,0.6M52.4,7.6l0.9-1.1l0-1.1l1.7-1.5l0-4l-1.7-1.3l-0.3-0.6M34.3,18l-4.7-0.6l-0.7,1.9l3.5,3M7.3,24.2l1.4-2.4l-2.4-3M16.2,3.6l3.1,0.4l1.8-1.5l1.4,0.6l1.1,2.6M23,7.3l-2.9-0.1M59.1,41.5l-2-1.8M32.6,22.6l3,0.6M34.9,17.7l2.4,1.6l1.1-0.1M45.6,-3l2.5-1.1M42.4,1l0,0M24.3,34.7l2-2.1M26.8,43.1l-1.6-5.2M26.1,31.1l-4.2-2M55,-0.1l3.6-1M56.8,16.3l1.9-0.9M58.4,9.6l1.6,1.4M20.9,17.3l-0.7,1.3l-4,0.9M24.8,23.1l-1-1.9M26.1,13.9l-1.8-2.1M22.2,12.4l-1.5,4.3l-4-2M25.4,26.6l-0.7-3.3M30.4,-1.3l-1.1,2.8M24.9,-2.4l-0.1,0.1l1.5,4.1M31.1,-3.6l-1.1,1.1M44.7,33.2l1-2.6l2.3-0.8l-0.8-4.3M48,44.6l-0.6-2.1M48.9,35.6l-1.9-0.2M42.2,40.5l0.6,1.2l-0.3,2.2M50.4,34.3l-2.3-4.4M37.1,13.8l2.8,2.3M40.4,25.1l0.4-4.1l3.5-1.7M47.2,25.4l-1.5-1.9M30.3,35.3l0.2,0.1M-2.5,11.7l2.3,0.8M60.4,0.7l-1.1,3.9M35.6,-1.8l-2.1,1.7l0.2,3.3l4.1-1.9l1.2,1M12.6,12l0.1-3.4l3.8-0.1M8.8,16l2-3.6M30.1,9.8l1.7-1.7M37.9,37.8l2.8,2.5l-3.6,3.4M34.4,43.7l2.1-0.3M1.2,11.8l2,1.8l-0.6,3.3l-1,0.4" fill="none" stroke="#CE80CA" stroke-width="2.2" stroke-linecap="round" stroke-linejoin="round"/>
<path d="M7.1,42.9l0,1.6l-0.2,0.4M16.5,42l1,3M-2.5,35.5l2.1-0.1M4.7,39.9l0-0.7l-4.6-2.8M-2.6,27.7l-2.8-2.2l2.9-4.1l-0.8-1.3l0.6-3.3M10.4,-2.4l0.3,1.9l-3.1,2M11.8,40.6l0-2.8M5.1,33.1l1.8-2.8M21.4,39.9l1.2,3.9l1.1,0.9l3.1-1.6M17,-2l-2.6,2.8l0.4,1.8l1.4,1M58.7,27.9l-0.4-1.3M6.8,24.4l-2.5,3.1l-2.5-0.1M1,24.4l2.4-2.2l0.1-0.9M0.9,4.6l-4.7,1.7M30.1,29.6l-2.6-0.6M58.1,32l0,0.6M44.5,27.3l-3.5-1.5l-0.2-0.4M46.9,4l0.9,0.6l2.9-0.7M42.8,6l1.1-1.6M-2.5,21.4l0.6,0.1M-6.5,14l4-2.3M-3.1,8.8l3.4-0.5l1.1,3M57.6,20.6l-1.9,4.6l0,0.1M54.5,12.6l-1.3-0.4M56.4,19.3l0.4-3M47.6,9.7l4.8-2.1M34.3,18l-1.9,4.3M28.9,19.3l-0.4,0.3l-3.8-0.8M9.6,26.7l2.7-1.7l-2.2-3.5l-1.4,0.3M14.8,2.6l-3.5,4.3l1.4,1.7M27,5l-3.4,0.7M35.7,28.3l1.6-2.8M48.4,0.2l-1.5,0.7M42.7,-4.2l2.9,1.2M26.3,37.8l-1.1,0.1M26.3,37.8l4-2.5M26.3,37.8l4.5,3.1M24.3,34.7l0.7,3.1M26.1,31.1l0.2,1.5l3.6,1.3l1.2-2.2M4.2,6.5l0.1,3l2.6,1.6l-0.7,2.4M62.1,16.8l-3.4-1.4l1.3-4.4l2.5,0.1M57.3,9.7l1.1-0.1l1.3-4.4l-0.4-0.6M26.1,13.9l-2.1,3.9M27,27.1l-1.6-0.5M20.9,-0.5l3.9-1.8M22.5,3.1l3.8-1.3M43.2,7.7l-2.4,3M51.9,40.3l-1-0.2M44.8,38l2.2,1.6M50.2,24.7l-3,0.7M47.2,11l-4.5,2l-0.1,2.4M35.3,14.1l1.8-0.3l2.4-3.3M39.9,16.1l-1.5,3.1l2.4,1.8M45.7,23.5l0.1-3l3.9-0.8M34.4,43.7l-2.8-3M12.1,19.9l3.2,1l0.5,1.5M35.3,-3.4l0.3,1.6M30.4,-1.3l3.1,1.2M35.8,38l-1.6-2.6M22.2,12.4l-3.7-1.6M37.4,-0.7l0.4,2M31,13l-0.9-3.2M36.4,38.1l1.5-0.3l1-2M36.5,43.4l0.6,0.3l1.1,1.6" fill="none" stroke="#CE80CA" stroke-width="1.1" stroke-linecap="round" stroke-linejoin="round"/>
<path d="M131.1,56.8l-2.1-0.8l-0.6-3l-1.6-1.2M126.1,28l-3.1-1.6M119.9,28.1l-1.6-2.4M123,65.7l0.5-0.4M123,65.7l-4.6-0.9M123,65.7l-1.3,2.7l-3.2,0.2M119.9,28.3l1.3,3.8M115.6,32.8l5.3-0.4M129.3,33.6l-3.4,2.5M129.8,24l1.9,2.4M115.3,30l-0.1-3.9M109.5,30.6l1.2-1.3M113.8,22.8l3.7-1.9l-0.1-1.2M107.1,21.6l1.4,1.9M128.7,71.9l-3.3-1.4M132.9,64.4l-4.4,0M123.4,62.5l0.4-0.9M122.5,54.3l0.7,2.7M119.9,58.4l-0.9-4M110.4,62.8l-5.4,0.1l-0.1,0.1M103.8,26.3l0.5-4.6l-0.2-0.2M126,38l5.1,0M118.1,53.6l1.5-5l0,0M113.3,17.4l-0.1-2.4M108,17.1l-1.7,0M95.4,43.8l-2.4-1.7l-3.6,1.2M92.7,39.3l-3.2-1.1M121,71.9l0.6,2.2l2.9,0l0.6,0.9l3-0.2l0.8,1.1M118.2,75.7l-1.1-1.5l0.4-2.7M95.4,57.7l1.3,3.7M98.4,68l-0.5,3.1l2,1.6M113.6,59.2l2.4,1l-1.7,3.4M108.9,56.3l4.4-0.1M107,35.2l-1.5,0.6M103.4,28.6l1.2,2.8l-2.3,2.9l-0.8,0.1M104.7,40.2l-4.8-1.3l-0.6,0.5M125.9,43l0.1-0.2M122.3,49.5l4.1-2.7M122.3,43.2l-2.2-2M93.2,22.7l-2.6,0.4M97.5,33.6l3.4,1.3M108.8,79l-2.6-1.1l2.1-4.3M105.6,77.9l-2.5-1.7M104.7,61.5l-3-2M102.1,49.2l-0.6,2.2M97.6,57.1l1.8-2l1.1,0l1.7,1.9M95,45.8l3,2.9M100.5,30l-0.5-0.2M106.2,51.9l0.1-1M112.2,34.9l-2.4,2M117.8,37.2l-2.8,1.2l-0.5,1.4l-3.6,0.3l0.4,3.9l-1,1.3l-1.3,0.4M102.7,69.4l1.7,0.3M100.5,55.1l1.9-2.3M115.3,41.2l-1.7,2.6" fill="none" stroke="#CE80CA" stroke-width="3.8" stroke-linecap="round" stroke-linejoin="round"/>
<path d="M123.2,57l3,0.3l0.1,3.2l-2.5,1.1M128.3,24.3l-5-2.6l0.8-2.3l0.9-0.6l2.6,0.2M126.5,29.5l-2.7,2.6l-2.6,0M123.8,32.1l2.1,4M120.9,32.4l-0.2,1.7l1.7,3.4l3.3,0M131.1,19.2l-0.3,3.9M130,15.1l-1.2-1.1M115.1,30.3l0.2-0.3l4.6-1.7M109.5,30.6l-0.3,0.1l-4.8-3.7M109.2,30.7l-1.7,1.4l-2.9-0.7M118.3,25.7l-3.1,0.4M111.5,19.5l1.1,2.9l-1.9,1.3l0.5,3.8M113.3,17.4l4.1,2.3M130,68.8l-0.5,2.5M126.5,66.5l0.7-0.2l1.3-1.9M104.9,63l1.6,3.6l3.8-0.2l2,2.2M104.7,61.5l0.3,1.4M111,60.4l-2.7-3.1l-1,0.4M110.4,62.8l0.3-0.3l3.6,1.1M117.8,36.7l0,0.5M119.6,48.6l2.7,0.9l1.9,2.9M126.5,56.8l-1.8-4.3M101.9,16.7l2.2,2.1l0,2.7M121,71.9l1.8-1.4l-1.1-2.1M118.2,75.7l1.8,0.5M117.1,74.2l-4.7,1.2M98.4,68l-1.4-1.8M94.9,67.1l2-0.9M101.7,67.9l0.4-3.1M98.9,61.7l1,2.4M113.6,59.2l-0.3-3l1.8-2l-2.5-3l1.4-2.5l2.7-1.5M118.5,68.6l-1.1,2.9M118.4,64.8l-1.1,1.1M101.3,21.4l-2,1.5M102.3,34.3l3.2,1.5M100.6,44.7l2.4-0.2M131.4,48.4l-3.3-0.1l-1.3,3.5M126,38l0,4.8M91.8,18.2l1.7,0.3M97.2,20l-2.9-2.1M95.4,43.8l-0.4,2M102.9,75.3l0.2,0.9M99.4,25.1l-1.1,1.2l-3.1,0.6M98.3,26.3l1.7,3.5M112.3,51.3l-3.1-1.9M102.1,49.2l2.6-0.8M112.2,34.9l0.7,0M105.7,41.3l4.1-1.9M115.3,41.2l2.3,1l-0.9,5M108.9,70.5l-3-1.8M104.5,56l-0.4-2.8l-1.7-0.4M95,27.3l0.3,2.5M90.3,30.1l2.8,2M113.6,43.8l-2.3,0.2" fill="none" stroke="#CE80CA" stroke-width="2.7" stroke-linecap="round" stroke-linejoin="round"/>
<path d="M123.4,62.5l0.1,2.8l3,1.2M126.1,28l0.4,1.5l2.3,1M129.3,33.6l2.9,1.9M121.2,32.1l-0.3,0.3M125.9,36.1l-0.2,1.4l0.3,0.5M130.8,23.1l-1,0.9l-0.6,0M127.6,19l1.8-1M110.7,29.3l4.4,1M115.2,26.1l-0.6-0.4M104.4,27l3.1-1.2l3.2,2.8M107.5,25.8l1-2.3l2.2,0.2M117.5,20.9l1.4,1.3M111.5,19.5l-2.7-0.5l-1.7,2.6l-2.8,0.1M108.8,19l-0.8-1.9M130,68.8l-2.8-2.5M131.9,59.4l-3.9,2l-1.7-0.9M129,56l-2.5,0.8l-0.3,0.5M122.5,54.3l-3.5,0.1M118.9,62l-0.9-1.9M110.4,62.8l-0.1,3.6M104.2,26.9l-0.4-0.6M124.2,52.4l0.5,0.1M95.1,36.9l-0.9,0.4l-2.9-2.6M124.4,71.1l-1.6-0.6M117.5,71.5l3.5,0.4M129.5,71.3l2.5,1M109.4,78.9l2.8-3.6M95.4,57.7l0.1-0.2l2.1-0.4l3,2.6M94.1,54.5l-3-0.2M90.2,53.2l1.6-4.7l-1.3-0.6M92.5,48.4l3.1,3.7l1.8-0.5l0.1,0l1.9,3.5M99.9,72.7l2.8-3.3M99.9,64.1l-2.9,2.1l-0.1,0l-1.3-3.3l1.1-1.5l2.2,0.3M116,60.2l1-0.2l-1.3-5.7l-0.6-0.1M108.3,57.3l0.6-1l0-1.9l-2.7-2.5M117.4,71.5l-4.5-1.6M112.3,68.6l-0.1,0.2l-3.3,1.7M100,17.5l-0.3-0.1M99.4,25.1l-0.1-2.2M125.9,43l0.5,3.8M122.3,43.2l-2.7,5.4l-2.9-1.4M93.2,22.7l0.8,0.4M103.4,28.6l-2.9,1.4M99.9,38.9l1-4M99.9,73.1l3,2.2M97.4,51.6l0.6-2.9l2.2-1M97.5,33.6l-0.1-2.5l2.6-1.3M109,45.7l0.2,3.7M109.8,39.4l1.1,0.7M114.5,39.8l0.8,1.4M125.1,75l-0.6,1.3M108.3,73.5l-3.2-0.8M104.5,56l-2.3,1l-0.5,2.5M95,27.3l-3.3,0.4M93.1,32.1l0.2-0.1M113.6,43.8l3.1,3.4" fill="none" stroke="#CE80CA" stroke-width="1.9" stroke-linecap="round" stroke-linejoin="round"/>
<path d="M5.3,57.3h0M10.2,104.5h0M26.1,31.1h0M55.7,92.8h0M54,81.3h0M33.6,69.7h0M39.1,67.6h0M64,87.6h0M3.3,75.2h0M18.4,87.9h0M104.4,27h0M107.5,25.8h0M118.9,22.2h0M40.5,55.1h0M0.9,4.6h0M27.4,61.5h0M111,60.4h0M108,17.1h0M90.4,11.6h0M70,14.8h0M35.8,90.3h0M11.6,63.1h0M13.2,97.1h0M104.4,84.5h0M122.3,49.5h0M104.5,15.2h0M75.7,22.5h0M35.6,23.2h0M29.9,33.9h0M21.3,100h0M110,97h0M99.9,73.1h0M103.5,83.2h0M88.2,66.9h0M86.9,74.1h0M94,23.1h0M112.3,51.3h0M72.2,13h0M29.9,106.7h0M44,16.9h0M76.7,75.7h0M103.1,76.2h0M87,85.7h0M74.9,3.4h0M74.8,50h0M85,58.7h0M33.5,-0.1h0M16.5,8.5h0M79.9,68.6h0M101.9,106.7h0M97.3,92.2h0M128.5,79.3h0" stroke="#CE80CA" stroke-width="3.6" stroke-linecap="round"/>
<path d="M130.2,5.1h0M55.4,106.2h0M56.4,102.3h0M26.9,49.3h0M30.6,88.2h0M9,30h0M3.6,50.3h0M4,46.5h0M21.6,83.6h0M56.5,66.9h0M33.7,85.9h0M39.2,88.3h0M36.2,72h0M39.1,68.2h0M53.2,56.1h0M11.8,37.8h0M16.7,58.6h0M63.7,92.2h0M68.5,92h0M-0.7,79.6h0M16.9,70.5h0M80.6,3.6h0M75.1,28.3h0M72.7,30.5h0M68.3,40.5h0M69.2,51.9h0M69.5,53.1h0M26.8,84.5h0M61.5,72.5h0M66.4,26.6h0M58.7,27.9h0M47.6,9.7h0M128.2,-1.6h0M115.3,6.9h0M118.4,64.8h0M118.9,62h0M52.4,7.6h0M122.4,37.5h0M98.1,4.1h0M96.2,1.5h0M115.3,30h0M107.1,21.6h0M98.2,42.6h0M27.5,29h0M61.5,58.1h0M61.5,57.8h0M56.1,77.2h0M51.5,62.8h0M37.7,66.2h0M58.1,32h0M58.1,32.6h0M42.4,1h0M125,1.2h0M71,83.8h0M129.5,71.3h0M128,61.4h0M111.1,86.3h0M104.9,63h0M100.6,44.7h0M126,38h0M93,42.1h0M92.7,39.3h0M82.4,43.2h0M78.7,25h0M16.2,19.5h0M27,5h0M45.4,-0.1h0M8.8,16h0M124.7,105.2h0M112.7,93.9h0M117.7,87.3h0M95.6,52.1h0M115.2,65.6h0M99.7,17.4h0M97.4,21.6h0M130.8,42.6h0M132.7,46.8h0M94.3,17.9h0M100.9,34.9h0M76.6,41.7h0M72.4,42.8h0M24.7,18.8h0M24.7,23.3h0M26.3,1.8h0M22,75.2h0M47,35.4h0M40.8,25.4h0M44.3,19.3h0M75.6,74.3h0M131.7,81.7h0M100.6,59.7h0M97.4,31.1h0M106.3,50.9h0M117.6,42.2h0M59.3,4.6h0M65.4,9.3h0M72.4,3h0M78.8,3.3h0M66.1,68.6h0M96.6,98h0M114,48.7h0M84.6,95.9h0M70.1,68.1h0M120.7,102.6h0M123.8,94.9h0" stroke="#CE80CA" stroke-width="2.0" stroke-linecap="round"/>
<path d="M5.1,33.1h0M16.5,69.7h0M-1.4,69.3h0M-1.3,63.5h0M6.9,30.3h0M7.1,42.9h0M7.1,44.5h0M0.9,106.4h0M3,90.2h0M42,86.1h0M47.6,9.7h0M19.9,54h0M26.4,55.1h0M24.3,52.4h0M129.2,4h0M111.9,-0.8h0M13.2,77.2h0M2.8,91.8h0M18.3,87.8h0M123.4,62.5h0M88,-0.9h0M68.7,28.7h0M66.6,37.2h0M14.4,0.8h0M40.4,31h0M63.8,50.5h0M15.4,57.2h0M6.8,24.4h0M16.5,38.2h0M21.4,58.4h0M9.3,86.5h0M94.7,76.6h0M76.8,95.3h0M120.9,32.4h0M101.6,12.9h0M98.5,11.8h0M128.8,14h0M111.2,27.5h0M108.8,19h0M108.5,23.5h0M94.2,37.3h0M28.5,19.6h0M28.9,25h0M65.2,59.9h0M19.9,74.3h0M37.9,80.6h0M39.6,78.1h0M38.6,78.7h0M56.5,77.2h0M47.3,63.3h0M45.7,66.9h0M34.7,58.9h0M38.3,66.5h0M58,44.2h0M131.9,59.4h0M116.3,79.2h0M93.4,72.1h0M102.1,64.8h0M118.1,53.6h0M117.5,71.5h0M103.4,28.6h0M57.3,9.7h0M70.1,23.5h0M70.3,14.2h0M22.2,12.4h0M45.9,96.3h0M52.6,41.5h0M11.5,17.2h0M117.3,3.8h0M19,94.1h0M-1.6,101.1h0M-0.3,96.8h0M115.5,96.7h0M111.8,81.3h0M112.1,86.4h0M102.7,69.4h0M88.6,62.3h0M99.4,82.6h0M97,66.2h0M97.2,20h0M105.5,35.8h0M74.2,13.4h0M128.1,48.3h0M120.9,17.1h0M125,18.8h0M78.6,45.9h0M72.2,44h0M43.4,105.5h0M49.7,97.1h0M44.7,33.2h0M48.1,29.9h0M38.4,19.2h0M100.5,88.8h0M80.2,82h0M77.7,80.5h0M84.6,48.7h0M99.4,55.1h0M95.2,26.9h0M115,38.4h0M114.5,39.8h0M112.9,34.9h0M37.4,-0.7h0M79.9,72.3h0M77.4,71.8h0M67.5,71h0M76.4,70.2h0M100.8,101.5h0M119.5,81.9h0M38.9,5h0M39,2.3h0M31.8,8.1h0M36.4,38.1h0M73.6,72.5h0M127.7,86.6h0M124.1,95h0M75.6,65.8h0" stroke="#CE80CA" stroke-width="2.8" stroke-linecap="round"/>
<path d="M1.4,61.6h0M50,78.2h0M61.2,41.3h0M-1.8,63.4h0M11.8,40.6h0M8.7,106.8h0M5.3,106h0M68.4,28.8h0M67.7,35.9h0M65.7,44.5h0M10.7,-0.5h0M51.9,105.7h0M43.6,52.7h0M8.5,55.4h0M20.2,64.4h0M9.5,36.1h0M25.9,106.7h0M58.7,100.9h0M63,100.1h0M8.8,77.1h0M13.7,101.9h0M-1.2,87.8h0M8.6,89.9h0M87.5,1.8h0M83.8,-1.1h0M109.4,5.2h0M117.5,20.9h0M70.4,49.7h0M64.5,50.2h0M66.6,45.9h0M7.8,5h0M44.2,87.3h0M44.6,90.7h0M49.9,78.3h0M35.2,66.5h0M3.4,22.2h0M19.2,36.6h0M21.2,58.7h0M24.1,62.7h0M21.9,105.4h0M67.7,100.3h0M98.9,61.7h0M129.3,33.6h0M108.5,0.6h0M107.5,2.2h0M115.2,26.1h0M30.1,29.6h0M27,27.1h0M35.3,14.1h0M42.5,43.9h0M31.6,81.5h0M54.1,71.8h0M42.2,70.5h0M39.2,60.9h0M26.8,43.1h0M28.5,43.3h0M108.3,93.2h0M94.5,84.6h0M95.5,57.5h0M118,60.1h0M104.7,40.2h0M57.6,20.6h0M53.3,5.4h0M118.8,17.1h0M81.8,38.3h0M88.2,30.7h0M12.3,25h0M19.3,4h0M20.1,7.2h0M30.1,74.6h0M48.9,35.6h0M37.1,13.8h0M48.4,0.2h0M30.3,35.3h0M4.3,9.5h0M118.9,-0h0M1.2,102.5h0M113.2,98.6h0M99.4,25.1h0M77.4,9.8h0M125.9,43h0M38.5,103.4h0M51.4,93.5h0M24.5,73.4h0M119.2,4.5h0M80.6,67.1h0M66.1,63.3h0M107.4,101.8h0M104.2,92.8h0M102.9,75.3h0M108.3,45.5h0M60.4,0.7h0M67.3,5.3h0M14.8,27.3h0M38.9,35.8h0M12.6,12h0M101.9,106.2h0M103.1,94.6h0M126.4,91h0M105.9,68.7h0M102.4,52.8h0M88.8,92.4h0M40.7,40.3h0M6.2,13.5h0M71.2,71.2h0M71.7,69.3h0M122.5,100.9h0" stroke="#CE80CA" stroke-width="3.2" stroke-linecap="round"/>
<path d="M1.8,105.5h0M-0.2,67.2h0M13.2,41.7h0M16.5,42h0M23.7,44.7h0M6.9,44.9h0M58,98h0M128.4,53h0M72.7,31.9h0M90.9,-1.6h0M27.6,96.5h0M56.4,65.5h0M59.1,41.5h0M8,52.7h0M10.4,33.1h0M116.7,-1.4h0M13.1,104.6h0M55.9,89.4h0M123.2,57h0M55.7,25.3h0M123,26.4h0M130,15.1h0M78.7,25.8h0M81.9,28.7h0M66.4,42h0M31.1,91h0M18.6,78.6h0M18.2,75.5h0M47.4,83.4h0M53.4,68.9h0M62.2,24.5h0M44.8,29.9h0M43.2,7.7h0M30.5,47.9h0M4.3,27.5h0M75.5,106.4h0M5.5,84.1h0M24.9,89.2h0M25.7,91.1h0M20.6,92.8h0M109.9,90.8h0M87.5,74h0M72.3,92.2h0M55.7,25.2h0M123.8,32.1h0M120.7,34.1h0M121.2,32.1h0M107.7,13.9h0M95.4,43.8h0M81.4,34.5h0M75.7,58.1h0M73.2,18.7h0M64.7,55.1h0M36.1,97.2h0M44.5,27.3h0M121.9,-1.3h0M60.7,77.3h0M14.1,86.6h0M130,68.8h0M104.3,21.7h0M98.9,104.5h0M82.2,104.9h0M76.9,95.1h0M117.8,37.2h0M50.2,16.6h0M70.7,18.5h0M117.9,15.2h0M103.4,7.9h0M124.1,9.3h0M89.5,38.2h0M86.9,32.4h0M29.6,17.4h0M34.3,18h0M53.8,97.9h0M51.8,101.4h0M46.5,104h0M26.3,70.7h0M25.2,37.9h0M22.2,98.5h0M114.5,102.6h0M115.6,95h0M112.2,75.3h0M92.4,62.5h0M115.7,54.3h0M112.2,68.8h0M101.3,21.4h0M70.8,8.9h0M62.5,11.1h0M125.3,14.4h0M91.1,13.3h0M87.6,40h0M24,17.8h0M47.3,93.4h0M50.6,92.7h0M26.8,77h0M42.2,40.5h0M43.4,38.5h0M52.6,28.2h0M50.2,24.7h0M16.7,14.7h0M7.5,10.7h0M-0.9,16h0M68.5,63.1h0M131.8,93.1h0M103.7,88.6h0M98.4,93.2h0M120.7,77h0M97.6,57.1h0M101.7,59.5h0M98,48.7h0M62.9,5.9h0M78.7,7.9h0M72.4,75h0M104.1,53.2h0M95,27.3h0M113.6,43.8h0M110.3,45.3h0M3.2,13.6h0M7.5,16.1h0M120.9,103.8h0M123.9,98.1h0M70.8,64.9h0M76.9,63.9h0" stroke="#CE80CA" stroke-width="2.4" stroke-linecap="round"/>
<path d="M36.2,72.3h0M5,106.2h0M131.7,51.5h0M73.6,36.8h0M9.6,26.7h0M16.1,62.5h0M58.9,100.7h0M62.7,94.8h0M5.2,69h0M109.2,30.7h0M129.2,24h0M128.3,24.3h0M113.8,22.8h0M35.6,90.2h0M49.9,78.5h0M62,66.4h0M32.6,47.4h0M48,57.8h0M13.9,36.8h0M57.1,84.5h0M95.1,36.9h0M73.2,54h0M82.9,21.9h0M39.1,88.8h0M41.3,62.5h0M50.3,18.9h0M61.4,82.1h0M66,84.2h0M84.4,70.1h0M56.8,16.3h0M50.4,17h0M65.8,18.2h0M118.5,8.5h0M52.3,93.7h0M12.7,66.9h0M120.5,0h0M117.9,87.3h0M94.9,67.1h0M117.3,65.9h0M-0.2,12.5h0M1.2,11.8h0M94.2,96.9h0M108.3,73.6h0M75.8,8h0M104.5,56h0" stroke="#CE80CA" stroke-width="1.6" stroke-linecap="round"/>
<path d="M67.4,19.2C68.2,17.2 70.0,16.6 72.2,15.6C74.4,14.6 78.6,13.2 80.6,13.2C82.6,13.2 83.0,14.4 84.2,15.6C85.4,16.8 86.6,18.2 87.8,20.4C89.0,22.6 90.6,26.8 91.4,28.8C92.2,30.8 94.0,31.6 92.6,32.4C91.2,33.2 85.4,33.8 83.0,33.6C80.6,33.4 80.0,31.4 78.2,31.2C76.4,31.0 74.0,33.0 72.2,32.4C70.4,31.8 68.2,29.8 67.4,27.6C66.6,25.4 66.6,21.2 67.4,19.2Z" fill="#BE62BA" stroke="#BE62BA" stroke-width="8" stroke-linejoin="round"/>
<path d="M49.2,18.0C49.2,16.5 50.4,13.2 51.6,10.8C52.8,8.4 55.0,5.0 56.4,3.6C57.8,2.2 59.8,1.4 60.0,2.4C60.2,3.4 58.6,7.2 57.6,9.6C56.6,12.0 55.0,15.1 54.0,16.8C53.0,18.5 52.4,19.6 51.6,19.8C50.8,20.0 49.2,19.5 49.2,18.0Z" fill="#BE62BA" stroke="#BE62BA" stroke-width="6" stroke-linejoin="round"/>
<path d="M48 102h0M36 74h0M39 56h0M5 47h0M130 0h0M118 47h0M105 13h0M73 21h0M100 33h0M99 40h0M92 33h0M16 4h0M74 4h0M21 47h0M33 30h0M12 7h0M112 91h0M1 84h0M12 85h0M28 102h0M30 11h0M2 21h0M44 30h0M74 89h0M89 18h0M20 31h0M34 38h0M3 79h0M113 69h0M25 11h0M25 76h0M111 0h0M52 71h0M42 19h0M68 26h0M20 101h0M49 101h0M80 12h0M81 0h0M128 57h0M85 41h0M116 58h0M85 75h0M36 2h0M32 38h0M51 35h0M75 56h0M86 36h0M34 91h0M25 87h0M51 71h0M65 79h0M52 67h0M57 2h0M23 52h0M51 46h0M76 72h0M127 69h0M115 104h0M85 27h0M31 87h0M108 50h0M106 77h0M77 31h0M43 8h0M40 13h0M99 4h0M107 83h0M99 34h0M71 97h0M10 52h0M51 61h0M31 69h0M30 70h0M78 56h0M10 2h0M4 53h0M53 22h0M13 75h0M111 74h0M90 69h0M16 81h0M0 5h0M109 84h0M129 47h0M18 94h0M66 90h0M34 61h0M49 47h0M2 41h0M24 16h0M97 1h0M53 44h0M81 9h0M11 34h0M126 3h0M98 36h0M26 98h0M130 9h0M7 24h0M73 21h0M80 18h0M129 95h0M2 100h0M37 14h0M10 84h0M76 38h0M19 100h0M11 71h0M28 27h0M130 102h0M12 53h0M13 13h0M94 12h0M22 81h0M60 30h0M130 100h0M3 51h0M67 56h0M87 81h0M60 87h0M18 53h0M35 46h0M97 70h0M17 3h0M67 56h0M78 59h0M66 27h0M89 3h0M52 96h0M22 42h0M76 86h0M81 34h0M43 13h0M120 37h0M115 12h0M56 8h0M122 92h0M72 2h0M60 28h0M33 104h0M130 39h0M41 67h0M2 16h0M65 2h0M96 94h0M41 33h0M96 31h0M72 26h0M8 7h0M92 33h0M78 31h0M117 22h0M43 89h0M129 100h0M64 29h0M99 3h0M127 24h0M123 86h0M7 6h0M95 13h0M74 28h0M94 58h0M14 90h0M17 27h0M24 40h0M102 37h0M85 53h0M7 54h0M38 3h0M84 82h0M114 37h0M95 74h0M25 13h0M20 34h0M117 32h0M107 43h0M12 72h0M68 61h0M61 91h0M128 52h0M85 80h0M96 50h0M44 65h0M5 49h0M128 1h0M19 33h0M18 40h0M72 55h0M121 35h0M34 37h0M90 14h0M13 23h0M96 74h0M121 63h0M12 36h0M82 101h0M3 3h0M3 97h0M25 37h0M26 49h0M63 81h0M110 84h0M40 57h0M116 77h0M30 85h0M19 57h0M46 36h0M6 30h0M3 21h0M46 98h0M64 6h0M12 45h0M81 88h0M104 6h0M77 40h0M15 57h0M56 12h0M38 40h0M111 14h0M83 8h0M116 31h0M24 98h0M126 47h0M129 50h0M90 27h0M11 45h0M73 75h0M93 99h0M112 91h0M25 22h0M101 26h0M128 30h0M84 3h0M94 3h0M17 75h0M79 104h0M66 73h0M28 22h0M43 78h0M68 85h0M124 37h0M1 41h0M22 37h0M8 17h0M122 39h0M58 8h0M67 97h0M86 58h0M77 19h0M68 13h0M120 43h0M55 2h0M115 102h0M126 69h0M121 104h0M43 39h0M4 44h0M58 55h0M55 9h0M68 75h0M113 8h0M33 5h0M117 59h0M75 13h0M84 93h0M88 52h0M22 59h0M116 34h0M104 104h0M72 73h0M71 29h0M77 27h0M48 84h0M38 22h0M94 71h0M83 67h0M39 54h0M120 26h0M70 66h0M30 73h0M59 69h0M91 30h0M95 92h0M40 47h0M105 83h0M109 47h0M102 94h0M42 104h0M2 14h0M50 71h0M91 8h0M15 88h0M42 11h0M94 39h0M66 77h0M127 62h0M103 96h0M109 79h0M5 52h0M16 6h0M89 12h0M37 19h0M53 68h0M104 58h0M111 68h0M68 90h0M30 41h0M42 58h0M42 47h0M104 39h0M49 54h0M61 70h0M84 14h0M52 13h0M115 68h0M51 65h0M64 86h0M54 68h0M29 53h0M62 15h0M44 87h0M3 93h0M65 80h0M50 41h0M117 12h0M112 16h0M23 49h0M9 9h0M112 4h0M10 45h0M85 86h0M106 5h0M15 90h0M67 5h0M28 59h0M121 74h0M21 59h0M96 73h0M101 59h0M26 16h0M28 50h0M13 86h0M61 60h0M87 7h0M54 9h0M112 77h0M90 69h0M64 91h0M77 71h0M91 52h0M45 74h0M2 21h0M29 23h0M21 57h0M74 73h0M47 82h0M18 49h0M56 25h0M126 10h0M37 63h0M46 86h0M39 101h0M81 88h0M4 89h0M116 61h0M124 45h0M86 51h0M13 57h0M116 83h0M104 34h0M99 8h0M14 81h0M118 90h0M62 19h0M13 62h0M8 54h0M127 53h0M57 66h0M121 48h0M50 60h0M38 93h0M4 47h0M70 67h0M128 73h0M125 59h0M106 25h0M36 10h0M29 39h0M69 9h0M109 60h0M93 64h0M100 7h0M97 75h0M66 16h0M47 38h0M94 53h0M94 92h0M5 75h0M5 8h0M33 45h0M79 87h0M55 52h0M92 62h0M1 15h0M126 91h0M67 97h0M64 94h0M87 19h0M59 81h0M59 56h0M46 20h0M72 62h0M122 88h0M28 100h0M33 84h0M85 14h0M37 85h0M100 24h0M70 87h0M125 94h0M111 73h0M121 63h0M119 30h0M52 60h0M124 51h0M5 101h0M87 79h0M123 5h0M0 50h0M17 101h0M107 5h0M43 57h0M37 15h0M19 61h0M80 91h0M17 81h0M78 96h0M114 2h0M33 21h0M59 100h0M93 21h0M11 75h0M65 3h0M85 34h0M55 14h0M104 7h0M120 44h0M105 90h0M33 53h0M47 17h0M62 3h0M62 54h0M115 34h0M115 98h0M7 95h0M52 0h0M3 57h0M106 67h0M102 46h0M35 3h0M41 61h0M54 26h0M126 101h0M6 93h0M60 61h0M37 36h0M130 11h0M125 90h0M78 71h0M94 101h0M65 56h0M88 46h0M23 48h0M28 31h0M60 57h0M99 78h0M65 28h0M106 93h0M43 21h0M11 102h0M126 66h0M63 29h0M58 32h0M77 83h0M43 26h0M66 46h0M120 6h0M66 95h0M98 58h0M56 33h0M46 41h0M77 83h0M20 86h0M128 79h0M124 97h0M11 59h0M79 31h0M43 81h0M70 20h0M63 65h0M105 14h0M69 43h0M9 19h0M87 85h0M3 47h0M65 66h0M122 102h0M66 67h0M8 17h0M129 73h0M64 57h0M57 67h0M14 55h0M79 32h0M71 53h0M42 65h0M58 8h0M121 34h0M105 101h0M125 54h0M59 27h0M82 33h0M107 88h0M95 45h0M58 37h0M52 83h0M93 47h0M95 55h0M120 67h0M121 53h0M15 78h0M25 10h0M29 89h0M39 49h0M100 97h0M118 10h0M53 48h0M21 97h0M38 47h0M61 19h0M114 86h0M112 66h0M106 35h0M22 30h0M105 6h0M41 29h0M94 45h0M26 71h0M107 70h0M62 75h0M0 68h0M88 9h0M67 10h0M111 17h0M57 34h0M122 2h0M26 102h0M117 35h0M59 93h0M128 40h0M7 67h0M36 59h0M79 77h0M17 64h0M29 43h0M15 82h0M101 36h0M65 31h0M127 72h0M3 26h0M130 46h0M76 52h0M41 1h0M22 95h0M120 26h0M105 100h0M1 66h0M42 34h0M118 36h0M101 95h0M28 5h0M78 82h0M89 54h0M31 52h0M51 33h0M95 23h0M69 37h0M32 36h0M120 13h0M51 69h0M15 43h0M67 13h0M77 71h0M49 79h0M53 12h0M90 98h0M70 104h0M118 7h0M27 91h0M1 44h0M25 98h0M37 25h0M120 21h0M72 69h0M40 19h0M29 99h0M18 35h0M75 69h0M77 70h0M18 8h0M74 52h0M21 75h0M23 9h0M96 68h0M92 38h0M59 89h0M93 44h0M52 91h0M84 37h0M24 100h0M116 78h0M37 18h0M45 38h0M38 58h0M13 87h0M13 50h0M76 77h0M75 73h0M76 86h0M113 37h0M25 38h0M98 28h0M11 79h0M107 61h0M130 22h0M45 98h0M18 83h0M65 34h0M99 92h0M7 86h0M128 95h0M112 8h0M30 0h0M65 45h0M111 18h0M102 5h0M45 43h0M42 63h0M80 101h0M80 46h0M119 41h0M104 97h0M79 93h0M122 25h0M100 100h0M102 88h0M60 10h0M95 28h0M22 5h0M29 43h0M17 76h0M120 9h0M95 20h0M4 65h0M85 104h0M114 67h0M26 102h0M59 96h0M99 49h0M107 91h0M16 9h0M88 36h0M49 96h0M50 17h0M89 32h0M122 75h0M57 88h0M10 7h0M121 3h0M112 32h0M106 11h0M110 24h0M130 96h0M15 73h0M28 92h0M38 14h0M81 6h0M72 20h0M85 102h0M38 38h0M21 61h0M19 79h0M88 72h0M101 63h0M128 25h0M81 42h0M103 81h0M73 95h0M85 73h0M87 16h0M67 5h0M122 87h0M50 54h0M120 36h0M121 103h0M79 83h0M23 41h0M130 93h0M41 65h0M21 21h0M54 82h0M82 6h0M10 81h0M105 49h0M0 52h0M34 91h0M33 78h0M7 76h0M91 96h0M65 50h0M116 103h0M48 97h0M92 96h0M1 6h0M38 97h0M2 85h0M28 86h0M119 24h0M5 38h0M62 64h0M111 96h0M6 4h0M106 22h0M15 89h0M62 102h0M85 70h0M11 11h0M70 74h0M122 85h0M105 91h0M21 104h0M58 80h0M87 22h0M33 91h0M9 31h0M72 78h0M51 4h0M106 90h0M57 69h0M44 26h0M12 90h0M65 10h0M66 16h0M97 16h0M111 73h0M124 77h0M99 35h0M46 25h0M65 71h0M68 33h0M77 76h0M126 26h0M16 20h0M79 67h0M67 93h0M117 16h0M71 82h0M27 31h0M111 30h0M127 93h0M16 43h0M47 11h0M12 18h0M91 91h0M75 64h0M130 68h0M13 14h0M1 13h0M1 76h0M65 73h0M45 16h0M26 90h0M36 103h0M40 46h0M4 42h0M16 4h0M97 5h0M85 27h0M110 21h0M65 98h0M109 54h0M110 89h0M89 53h0M54 3h0M77 31h0M17 90h0M55 21h0M27 17h0M74 73h0M57 34h0M82 97h0M76 28h0M106 42h0M15 12h0M3 28h0M29 1h0M22 29h0M86 10h0M117 53h0M9 18h0M100 48h0M55 45h0M0 28h0M33 63h0M36 25h0M39 56h0M55 14h0M78 95h0M52 60h0M61 30h0M64 97h0M43 8h0M122 58h0M7 75h0M47 34h0M102 64h0M104 41h0M8 86h0M58 13h0M93 91h0M53 21h0M107 10h0M46 48h0M11 11h0M116 32h0M99 29h0M125 87h0M98 100h0M15 86h0M11 98h0M31 88h0M129 28h0M113 52h0M65 36h0M1 94h0M1 63h0M31 60h0M11 29h0M20 43h0M97 5h0M87 89h0M42 70h0M87 76h0M74 16h0M58 64h0M130 64h0M129 41h0M1 50h0M127 57h0M7 99h0M29 89h0M3 85h0M68 7h0M37 75h0M22 103h0M51 93h0M42 27h0M66 52h0M127 47h0M100 104h0M38 68h0M94 70h0M74 28h0M64 24h0M30 12h0M13 41h0M128 27h0M41 87h0M123 57h0M37 88h0M70 104h0M116 73h0M32 52h0M117 44h0M4 5h0M92 69h0M108 15h0M28 90h0M130 16h0M6 25h0M94 3h0M50 21h0M73 53h0M27 23h0M23 88h0M4 88h0M110 73h0M59 85h0M58 97h0M53 51h0M75 66h0M130 34h0M91 57h0M41 16h0M32 86h0M81 2h0M1 46h0M41 64h0M7 27h0M95 44h0M21 34h0M60 15h0M55 104h0M61 101h0M45 93h0M115 20h0M117 23h0M60 97h0M29 31h0M79 96h0M12 45h0M62 13h0M79 50h0M82 27h0M69 91h0M79 81h0M37 66h0M116 81h0M88 5h0M50 2h0M21 31h0M77 10h0M76 2h0M75 75h0M40 51h0M84 52h0M7 91h0M36 27h0M37 47h0M108 12h0M111 40h0M76 12h0M32 79h0M62 96h0M29 91h0M60 78h0M5 27h0M91 39h0M69 38h0M32 23h0M86 29h0M125 25h0M7 14h0M53 57h0M64 8h0M31 0h0M34 8h0M90 60h0M108 18h0M15 49h0M11 86h0M103 71h0M110 66h0M44 29h0M80 73h0M35 13h0M24 23h0M47 88h0M128 50h0M79 31h0M55 20h0M43 32h0M70 12h0M118 17h0M76 95h0M100 93h0M63 68h0M18 56h0M70 62h0M63 101h0M117 42h0M12 98h0M83 87h0M24 49h0M73 4h0M43 33h0M125 89h0M33 88h0M17 62h0M93 22h0M49 71h0M28 7h0M69 39h0M128 8h0M3 11h0M91 55h0M54 36h0M61 8h0M13 65h0M21 84h0M15 60h0M69 9h0M115 26h0M79 85h0M81 63h0M97 103h0M38 48h0M5 104h0M114 9h0M54 71h0M69 9h0M128 61h0M29 6h0M92 52h0M122 35h0M97 99h0M27 100h0M45 81h0M112 18h0M44 54h0M47 83h0M53 10h0M50 47h0M10 6h0M26 19h0M128 18h0M34 65h0M54 24h0M57 86h0M75 46h0M10 40h0M72 22h0M125 53h0M67 27h0M73 71h0M85 89h0M110 66h0M97 23h0M10 17h0M128 57h0M15 103h0M101 42h0M112 79h0M7 86h0M36 34h0M15 40h0M28 53h0M88 29h0M22 6h0M114 81h0M13 27h0M63 42h0M20 9h0M37 22h0M130 16h0M38 17h0M47 51h0M1 90h0M3 61h0M6 40h0M120 19h0M122 96h0M69 98h0M65 46h0M27 66h0M128 46h0M18 102h0M115 93h0M25 54h0M39 52h0M88 37h0M73 45h0M128 22h0M53 21h0M30 79h0M32 92h0M53 99h0M118 41h0M72 9h0M54 22h0M97 76h0M65 76h0M96 22h0M29 34h0M81 29h0M128 42h0M73 28h0M35 95h0M12 99h0M126 93h0M115 45h0M104 102h0M27 51h0M103 83h0M11 57h0M17 36h0M16 2h0M21 89h0M32 43h0M36 53h0M20 104h0M20 46h0M130 19h0M69 83h0M118 51h0M74 96h0M57 87h0M51 17h0M5 14h0M59 43h0M65 9h0M72 26h0M57 35h0M66 100h0M126 76h0M32 54h0M82 20h0M94 71h0M92 4h0M90 23h0M65 36h0M83 62h0M73 68h0M73 75h0M0 80h0M81 75h0M80 67h0M101 62h0M91 73h0M70 46h0M42 30h0M26 96h0M60 29h0M33 76h0M23 70h0M26 33h0M58 79h0M24 67h0M113 81h0M101 46h0M67 80h0M30 99h0M119 19h0M118 104h0M2 91h0M81 55h0M113 100h0M130 90h0M42 73h0M12 103h0M58 95h0M23 0h0M69 69h0M4 62h0M2 32h0M101 27h0M34 43h0M106 42h0M41 13h0M39 39h0M33 63h0M33 52h0M38 34h0M18 82h0M114 42h0M97 7h0M34 31h0M112 11h0M69 15h0M129 59h0M120 11h0M86 91h0M107 70h0M95 54h0M40 99h0M113 5h0M67 10h0M7 103h0M31 89h0M109 56h0M99 78h0M89 50h0M76 92h0M1 55h0M37 4h0M121 89h0M67 51h0M50 71h0M51 75h0M109 42h0M109 102h0M11 4h0M104 49h0M19 79h0M3 20h0M18 84h0M0 99h0M11 1h0M67 27h0M102 12h0M62 3h0M47 84h0M42 93h0M130 18h0M54 3h0M76 19h0M43 43h0M3 32h0M95 36h0M90 8h0M62 23h0M13 18h0M74 68h0M3 50h0M112 101h0M35 14h0M19 16h0M90 52h0M91 3h0M44 28h0M85 6h0M15 12h0M51 39h0M118 27h0M10 81h0M92 87h0M123 47h0M3 78h0M12 35h0M114 28h0M36 58h0M46 18h0M17 71h0M74 59h0M20 94h0M43 29h0M71 13h0M90 16h0M69 83h0M43 8h0M77 25h0M115 60h0M63 21h0M12 76h0M56 104h0M101 7h0M38 76h0M90 61h0M7 58h0M129 19h0M23 31h0M1 73h0M84 49h0M44 30h0M129 60h0M85 38h0M30 43h0M103 88h0M17 89h0M111 50h0M39 9h0M112 72h0M33 75h0M42 53h0M129 0h0M78 91h0M8 104h0M17 82h0M69 21h0M85 97h0M87 12h0M88 93h0M41 96h0M116 101h0M108 72h0M114 60h0M54 82h0M61 3h0M54 71h0M112 28h0M30 59h0M108 49h0M53 3h0M42 84h0M119 95h0M114 25h0M28 18h0M101 60h0M109 72h0M81 104h0M103 80h0M65 80h0M23 60h0M11 20h0M93 29h0M14 11h0M23 18h0M117 99h0M94 5h0M94 101h0M53 47h0M74 103h0M64 66h0M66 47h0M3 45h0M58 62h0M76 80h0M113 80h0M66 58h0M7 35h0M121 52h0M86 5h0M16 1h0M11 96h0M17 21h0M76 27h0M127 85h0M53 48h0M72 32h0M78 54h0M50 81h0M65 102h0M44 87h0M73 58h0M98 44h0M34 59h0M21 43h0M125 64h0M59 12h0M33 53h0M2 49h0M20 90h0M49 26h0M44 101h0M127 41h0M76 25h0M8 57h0M108 29h0M40 18h0M98 100h0M50 46h0M29 28h0M107 20h0M23 45h0M102 4h0M68 15h0M31 46h0M20 40h0M77 75h0M59 7h0M59 5h0M14 71h0M114 85h0M0 1h0M52 26h0M24 49h0M110 26h0M128 71h0M41 26h0M8 16h0M7 81h0M20 100h0M41 65h0M24 4h0M42 9h0M83 14h0M41 74h0M0 51h0M39 36h0M76 54h0M129 46h0M107 65h0M24 27h0M48 19h0M18 10h0M37 103h0M76 69h0M77 61h0M12 13h0M17 101h0M85 49h0M74 64h0M123 21h0M0 47h0M88 65h0M39 22h0M75 49h0M53 35h0M58 104h0M63 16h0M39 8h0M30 29h0M53 48h0M92 86h0M74 104h0M33 73h0M59 28h0M128 8h0M59 35h0M16 92h0M27 79h0M38 67h0M29 19h0M72 1h0M104 30h0M84 37h0M46 36h0M127 50h0M68 10h0M19 73h0M10 31h0M111 16h0M73 97h0M59 103h0M42 63h0M102 95h0M122 65h0M102 99h0M7 3h0M116 48h0M40 95h0M63 10h0M67 41h0M120 75h0M18 25h0M69 83h0M73 96h0M5 40h0M101 95h0M37 61h0M25 74h0M24 73h0M0 30h0M126 68h0M12 36h0M54 16h0M71 68h0M70 46h0M85 100h0M11 60h0M93 39h0M59 29h0M37 36h0M99 6h0M69 47h0M18 8h0M77 41h0M9 37h0M92 62h0M83 67h0M105 48h0M28 50h0M23 41h0M71 98h0M56 19h0M21 32h0M74 52h0M4 82h0M69 7h0M98 4h0M21 44h0M52 14h0M17 72h0M59 10h0M15 47h0M116 82h0M20 86h0M72 92h0M96 60h0M122 30h0M40 93h0M108 86h0M36 76h0M81 28h0M120 15h0M3 83h0M97 100h0M20 2h0M98 43h0M56 59h0M124 31h0M5 81h0M61 27h0M113 49h0M15 5h0M42 20h0M2 24h0M106 84h0M82 84h0M39 65h0M94 44h0M65 16h0M14 32h0M96 47h0M46 99h0M51 91h0M16 92h0M94 9h0M55 20h0M76 47h0M29 34h0M68 40h0M7 86h0M122 63h0M96 39h0M108 24h0M117 30h0M10 20h0M110 88h0M51 87h0M75 83h0M42 63h0M65 16h0M101 48h0M105 24h0M95 73h0M84 22h0M70 88h0M73 60h0M48 13h0M56 17h0M54 16h0M15 73h0M61 56h0M128 76h0M13 59h0M84 27h0M127 93h0M42 26h0M28 69h0M39 68h0M54 52h0M114 96h0M96 56h0M44 49h0M0 11h0M51 59h0M112 23h0M52 37h0M68 1h0M109 47h0M129 77h0M83 84h0M60 55h0M93 31h0M10 2h0M16 0h0M72 41h0M4 37h0M74 58h0M76 83h0M73 39h0M118 24h0M51 5h0M57 62h0M8 0h0M79 104h0M102 42h0M46 71h0M73 15h0M69 24h0M82 72h0M23 45h0M96 54h0M38 27h0M121 35h0M49 57h0M34 64h0M35 33h0M99 80h0M71 77h0M95 48h0M116 11h0M32 6h0M118 44h0M109 48h0M7 88h0M112 66h0M35 8h0M71 96h0M66 66h0M51 9h0M39 39h0M9 74h0M20 70h0M42 97h0M56 64h0M49 62h0M1 78h0M6 103h0M71 96h0M124 10h0M6 9h0M113 102h0M90 74h0M81 78h0M26 46h0M24 81h0M87 82h0M91 38h0M39 74h0M96 80h0M1 92h0M33 7h0M22 45h0M99 21h0M103 51h0M97 49h0M92 33h0M95 94h0M14 24h0M72 99h0M88 4h0M32 39h0M91 91h0M31 63h0M111 25h0M53 34h0M49 71h0M40 55h0M34 66h0M57 46h0M121 49h0M72 83h0M58 23h0M36 75h0M107 6h0M103 89h0M30 34h0M91 31h0M72 44h0M19 10h0M59 40h0M116 96h0M73 28h0M110 88h0M47 98h0M114 78h0M24 98h0M106 60h0M22 70h0M108 6h0M57 87h0M72 80h0M53 1h0M19 78h0M93 39h0M59 75h0M99 91h0M61 46h0M76 8h0M45 61h0M23 21h0M83 75h0M79 10h0M31 40h0M110 58h0M42 8h0M46 104h0M85 44h0M99 61h0M91 20h0M54 54h0M89 104h0M23 80h0M67 103h0M122 84h0M27 76h0M17 63h0M38 9h0M111 65h0M15 51h0M116 98h0M75 16h0M1 78h0M126 65h0M127 28h0M100 55h0M68 87h0M3 99h0M69 44h0M82 24h0M77 5h0M115 13h0M69 73h0M5 45h0M61 88h0M99 3h0M44 6h0M121 56h0M127 43h0M74 54h0M6 19h0M112 3h0M90 42h0M8 83h0M4 14h0M73 59h0M64 26h0M97 4h0M13 49h0M101 68h0M91 103h0M124 86h0M7 85h0M39 55h0M34 72h0M91 83h0M107 22h0M89 55h0M62 44h0M108 14h0M66 40h0M78 84h0M25 71h0M45 46h0M36 30h0M49 10h0M10 95h0M123 3h0M75 26h0M48 50h0M37 18h0M1 81h0M124 35h0M1 104h0M73 95h0M64 61h0M130 95h0M105 75h0M54 92h0M25 10h0M79 25h0M74 76h0M121 54h0M115 64h0M84 93h0M81 65h0M95 62h0M3 70h0M46 15h0M29 13h0M53 78h0M69 55h0M60 53h0M102 39h0M107 88h0M33 65h0M65 81h0M62 104h0M6 74h0M34 95h0M7 31h0M62 103h0M117 89h0M14 30h0M26 80h0M36 63h0M27 54h0M93 44h0M8 38h0M121 34h0M79 32h0M101 99h0M76 33h0M120 34h0M12 42h0M119 42h0M124 27h0M116 95h0M38 24h0M9 32h0M110 23h0M119 9h0M50 0h0M123 52h0M87 89h0M17 104h0M29 5h0M112 14h0M122 100h0M57 17h0M127 81h0M82 82h0M92 54h0M41 38h0M51 74h0M7 48h0M38 21h0M49 28h0M69 78h0M123 63h0M64 75h0M32 46h0M17 86h0M110 63h0M45 85h0M50 1h0M1 9h0M37 17h0M2 38h0M80 57h0M28 71h0M83 56h0M128 23h0M110 83h0M89 40h0M66 38h0M113 50h0M74 12h0M59 74h0M102 13h0M126 13h0M21 1h0M47 16h0M35 29h0M111 51h0M99 59h0M56 39h0M67 78h0M79 64h0M87 33h0M85 40h0M97 51h0M74 87h0M130 74h0M94 51h0M50 55h0M57 78h0M7 70h0M97 69h0M129 44h0M94 14h0M33 25h0M66 72h0M101 73h0M117 35h0M96 0h0M117 75h0M20 46h0M65 54h0M102 49h0M33 19h0M56 9h0M33 69h0M17 99h0M36 38h0M33 73h0M99 15h0M20 95h0M41 49h0M74 0h0M74 97h0M83 12h0M41 8h0M37 58h0M94 48h0M42 33h0M62 35h0M101 22h0M86 96h0M108 64h0M55 9h0M61 35h0M10 67h0M59 98h0M62 91h0M18 13h0M44 20h0M10 86h0M42 25h0M20 1h0M37 50h0M26 87h0M78 8h0M128 14h0M84 28h0M130 33h0M77 74h0M44 31h0M45 26h0M60 12h0M102 58h0M18 28h0M67 62h0M17 72h0M34 43h0M56 23h0M52 2h0M77 42h0M69 80h0M115 39h0M108 50h0M14 70h0M112 59h0M115 92h0M23 60h0M27 102h0M45 32h0M21 97h0M18 85h0M99 88h0M109 48h0M56 79h0M121 46h0M79 66h0M24 14h0M49 7h0M114 71h0M79 33h0M122 92h0M75 55h0M52 93h0M116 102h0M18 99h0M94 9h0M124 68h0M113 91h0M109 54h0M90 67h0M58 3h0M103 100h0M63 60h0M20 68h0M45 100h0M21 82h0M7 85h0M40 101h0M92 102h0M54 67h0M65 67h0M104 17h0M79 70h0M61 17h0M19 56h0M35 91h0M44 8h0M2 21h0M87 31h0M1 16h0M9 74h0M117 88h0M104 81h0M124 49h0M69 36h0M62 35h0M89 8h0M64 30h0M29 67h0M69 30h0M8 32h0M94 28h0M3 12h0M104 39h0M115 72h0M109 96h0M1 66h0M119 7h0M14 15h0M92 10h0M121 48h0M45 72h0M64 71h0M16 15h0" stroke="#6a30a0" stroke-width="1" stroke-linecap="square" opacity="0.3"/>
<path d="M67.4,19.2C68.2,17.2 70.0,16.6 72.2,15.6C74.4,14.6 78.6,13.2 80.6,13.2C82.6,13.2 83.0,14.4 84.2,15.6C85.4,16.8 86.6,18.2 87.8,20.4C89.0,22.6 90.6,26.8 91.4,28.8C92.2,30.8 94.0,31.6 92.6,32.4C91.2,33.2 85.4,33.8 83.0,33.6C80.6,33.4 80.0,31.4 78.2,31.2C76.4,31.0 74.0,33.0 72.2,32.4C70.4,31.8 68.2,29.8 67.4,27.6C66.6,25.4 66.6,21.2 67.4,19.2Z" fill="#FCF8FC"/>
<path d="M49.2,18.0C49.2,16.5 50.4,13.2 51.6,10.8C52.8,8.4 55.0,5.0 56.4,3.6C57.8,2.2 59.8,1.4 60.0,2.4C60.2,3.4 58.6,7.2 57.6,9.6C56.6,12.0 55.0,15.1 54.0,16.8C53.0,18.5 52.4,19.6 51.6,19.8C50.8,20.0 49.2,19.5 49.2,18.0Z" fill="#FCF8FC"/>
<path d="M22.8,5.0C23.8,3.6 27.0,2.6 30.0,2.4C33.0,2.2 39.5,2.7 40.8,4.0C42.1,5.3 39.8,8.5 38.0,10.0C36.2,11.5 32.3,13.0 30.0,13.2C27.7,13.4 25.2,12.4 24.0,11.0C22.8,9.6 21.8,6.4 22.8,5.0Z" fill="#FCF8FC"/>
<path d="M7.2,28.0C8.2,26.0 11.6,25.0 14.0,25.2C16.4,25.4 20.6,27.2 21.6,29.0C22.6,30.8 21.3,34.2 20.0,36.0C18.7,37.8 16.0,39.4 14.0,39.6C12.0,39.8 9.1,38.9 8.0,37.0C6.9,35.1 6.2,30.0 7.2,28.0Z" fill="#FCF8FC"/>
<path d="M12.0,11.5C13.1,10.6 18.0,9.9 19.0,10.8C20.0,11.7 19.1,15.9 18.0,16.8C16.9,17.7 13.5,16.9 12.5,16.0C11.5,15.1 10.9,12.4 12.0,11.5Z" fill="#FCF8FC"/>
<path d="M38.4,31.0C38.9,29.5 41.0,28.5 42.0,28.8C43.0,29.1 44.4,31.2 44.4,33.0C44.4,34.8 42.9,38.8 42.0,39.6C41.1,40.4 39.6,39.4 39.0,38.0C38.4,36.6 37.9,32.5 38.4,31.0Z" fill="#FCF8FC"/>
<path d="M50.4,29.0C51.1,27.6 54.0,26.8 55.0,27.6C56.0,28.4 56.7,32.0 56.4,34.0C56.1,36.0 54.0,39.3 53.0,39.6C52.0,39.9 50.9,37.8 50.5,36.0C50.1,34.2 49.6,30.4 50.4,29.0Z" fill="#FCF8FC"/>
<path d="M84.0,3.0C85.0,1.2 92.0,1.2 94.0,2.4C96.0,3.6 97.0,8.2 96.0,10.0C95.0,11.8 90.0,14.4 88.0,13.2C86.0,12.0 83.0,4.8 84.0,3.0Z" fill="#FCF8FC"/>
<path d="M108.0,6.0C108.8,4.6 113.6,4.0 115.0,4.8C116.4,5.6 117.4,9.6 116.6,11.0C115.8,12.4 111.4,14.0 110.0,13.2C108.6,12.4 107.2,7.4 108.0,6.0Z" fill="#FCF8FC"/>
<path d="M117.0,14.0C117.7,12.4 121.8,12.2 123.0,13.2C124.2,14.2 124.7,18.4 124.0,20.0C123.3,21.6 120.2,23.8 119.0,22.8C117.8,21.8 116.3,15.6 117.0,14.0Z" fill="#FCF8FC"/>
<path d="M102.0,40.0C102.8,38.7 105.8,37.6 107.0,38.4C108.2,39.2 109.7,43.0 109.4,45.0C109.1,47.0 106.2,50.2 105.0,50.4C103.8,50.6 103.0,47.7 102.5,46.0C102.0,44.3 101.2,41.3 102.0,40.0Z" fill="#FCF8FC"/>
<path d="M65.0,40.0C65.7,38.2 69.8,38.6 71.0,39.6C72.2,40.6 72.7,44.2 72.0,46.0C71.3,47.8 68.2,51.4 67.0,50.4C65.8,49.4 64.3,41.8 65.0,40.0Z" fill="#FCF8FC"/>
<path d="M1.0,60.0C1.8,58.6 6.1,58.0 7.0,59.0C7.9,60.0 7.3,64.6 6.5,66.0C5.7,67.4 2.9,68.6 2.0,67.6C1.1,66.6 0.2,61.4 1.0,60.0Z" fill="#FCF8FC"/>
<path d="M8.4,69.0C8.9,67.2 12.0,66.8 13.0,67.6C14.0,68.4 14.9,72.2 14.4,74.0C13.9,75.8 11.0,79.2 10.0,78.4C9.0,77.6 7.9,70.8 8.4,69.0Z" fill="#FCF8FC"/>
<path d="M18.0,86.0C18.8,84.6 23.6,83.7 25.0,84.4C26.4,85.1 27.2,88.6 26.4,90.0C25.6,91.4 21.4,93.5 20.0,92.8C18.6,92.1 17.2,87.4 18.0,86.0Z" fill="#FCF8FC"/>
<path d="M27.6,93.0C28.3,91.6 32.0,90.8 33.0,91.6C34.0,92.4 34.3,96.6 33.6,98.0C32.9,99.4 30.0,100.8 29.0,100.0C28.0,99.2 26.9,94.4 27.6,93.0Z" fill="#FCF8FC"/>
<path d="M37.2,84.0C37.6,82.4 40.2,81.2 41.0,82.0C41.8,82.8 42.4,87.4 42.0,89.0C41.6,90.6 39.3,92.4 38.5,91.6C37.7,90.8 36.8,85.6 37.2,84.0Z" fill="#FCF8FC"/>
<path d="M44.4,53.0C45.1,51.4 49.0,51.0 50.0,52.0C51.0,53.0 51.1,57.4 50.4,59.0C49.7,60.6 47.0,62.6 46.0,61.6C45.0,60.6 43.7,54.6 44.4,53.0Z" fill="#FCF8FC"/>
<path d="M45.6,67.0C46.3,65.8 50.0,65.6 51.0,66.4C52.0,67.2 52.3,70.8 51.6,72.0C50.9,73.2 48.0,74.4 47.0,73.6C46.0,72.8 44.9,68.2 45.6,67.0Z" fill="#FCF8FC"/>
<path d="M78.0,56.0C78.5,54.4 84.2,53.7 86.0,54.4C87.8,55.1 89.5,58.4 89.0,60.0C88.5,61.6 84.8,64.7 83.0,64.0C81.2,63.3 77.5,57.6 78.0,56.0Z" fill="#FCF8FC"/>
<path d="M81.8,68.0C82.5,66.4 86.8,65.6 88.0,66.4C89.2,67.2 89.7,71.4 89.0,73.0C88.3,74.6 85.2,76.8 84.0,76.0C82.8,75.2 81.1,69.6 81.8,68.0Z" fill="#FCF8FC"/>
<path d="M89.0,74.0C89.7,72.2 93.8,71.4 95.0,72.4C96.2,73.4 96.7,78.2 96.0,80.0C95.3,81.8 92.2,84.2 91.0,83.2C89.8,82.2 88.3,75.8 89.0,74.0Z" fill="#FCF8FC"/>
<path d="M108.2,75.0C108.7,73.8 112.0,72.9 113.0,73.6C114.0,74.3 114.7,77.8 114.2,79.0C113.7,80.2 111.0,81.5 110.0,80.8C109.0,80.1 107.7,76.2 108.2,75.0Z" fill="#FCF8FC"/>
<path d="M121.4,79.0C122.2,76.8 127.6,75.7 129.0,77.2C130.4,78.7 130.6,85.8 129.8,88.0C129.0,90.2 125.4,91.9 124.0,90.4C122.6,88.9 120.6,81.2 121.4,79.0Z" fill="#FCF8FC"/>
<path d="M117.8,58.0C118.5,56.8 122.8,56.0 124.0,56.8C125.2,57.6 125.7,61.8 125.0,63.0C124.3,64.2 121.2,64.8 120.0,64.0C118.8,63.2 117.1,59.2 117.8,58.0Z" fill="#FCF8FC"/>
<path d="M68.6,80.5C69.3,79.5 73.0,78.8 74.0,79.6C75.0,80.3 75.3,84.0 74.6,85.0C73.9,86.0 71.0,86.3 70.0,85.6C69.0,84.8 67.9,81.5 68.6,80.5Z" fill="#FCF8FC"/>
</g></g>
<line x1="254" y1="427.8" x2="268" y2="427.8" stroke="#111" stroke-width="1.6"/>
<text x="261" y="433.4" font-size="3.6" text-anchor="middle" fill="#333">100 &#956;m</text>
<rect x="142.5" y="333.5" width="130" height="104" fill="none" stroke="#a8a8a8" stroke-width="1"/>
<g clip-path="url(#c2)"><g transform="translate(278,333)" filter="url(#bl)">
<rect x="-2" y="-2" width="135" height="109" fill="#FBF7FB"/>
<path d="M134.6,105.5l-3.1,2.6M136.4,3.3l-3.8,3.5M129.1,105.9l1-4.7l3.9,0.1M16.5,64.8l4.9,1.8M21.3,60.7l-4.7,3.4l-1.5-4.5l2.5-1.5l3.8,2.2M28.6,67.8l-2.4,0.8l-0.6,2.7l2.7,2.2M134.1,29.7l-1.7,2.4l0,1.3l3.3,3.1M132.4,32.1l-5.5-1.5M126.1,47.3l1-1.4l5.1,0.4M133.6,47.4l-1.2-1.1M46.3,56.8l-3.5-2.3l3.6-5.1M21.3,42.6l-0.5-0.5M17.8,36.9l-3.6,1.8l-3.1-3.7M15.3,43.7l-1.4-4M124.3,100.2l1.4-3.2l-0.3-1.7l-1.1-1M125.2,104.9l-1.5,0.7M18,55.5l-2.5-2.6l-0.2-1.6l-1.3-0.5l-1.9-5.2M26,57.6l-1.3,1.1M23.5,58.6l-2.1-4M29.8,58.4l0.2,4.8M-3.4,58.6l2.3,1M135.3,42.5l-2.5,1.4M126.6,43.3l4-1.7M130.2,38.7l0.1,0.1M129.7,17.5l-2.7-1.1M139.1,22.5l-6,4.5M124.7,18.5l2.9,3.8l-1.7,3.2M119.7,37.6l-1.7,2.5l-0.6,0.3l1.1,5.9l-2.4,1.4M119.7,37.6l4.3,0.1M119.7,37.6l-1-3.5l2.8-2.6M129.8,35.8l-4.1-2.1l-0.2-1.1M70.6,53.8l1.2-2.2l-2.4-3.2M108.3,77.2l0,0.3l-3.9,2.2M101.4,74.8l3.3-0.7M99.5,73.2l-0.1-0.6l1.5-2.3l3.6-1.5M85,64.5l0.7-0.2l2.2-5.7l4.4,1.3M85,64.5l-4-2.4M85,64.5l-0.8,2.7M16.3,50.6l4.4-0.1l1,3.4M27,44.5l-2.3-0.3M23.9,48.8l4.3-0.3l1.2,0.9M-1.7,21.3l2,2.4l2.7,0.4l1.9-2.5M-19.8,3.3l16.9,7.8l2-2M128.2,82.6l5.6-1.3M128.3,89.5l3.2,3.4M122.4,87.5l3-0.4M121.8,78.3l1.6,3.7M119.6,89.4l-1.8-1.5M118.6,83.4l-1.3,0.7M101.6,151.5l-9.1-44.4M118.7,106.3l-1.3-0.6l-1.3,0.3l-1,0.9l-0.2,36.1M106.2,107.6l2-3l-1.5-3M111.3,107.9l0.1-0.2M-11.1,101.9l8.8,3.3l0.8,1.3M1.1,108.9l-2-2.2M-1.1,98.9l0.7,0.7l3.5,0.5M-2.1,64.2l2.9,2.2l2.6-0.1M-4.6,65.5l1.9,5.9M25,77.5l-1.9,3.2l3.3,2.6M44.9,60.9l4.7,1.4M30.8,70.2l1.9-0.6M-1.4,52l-0.6-1.5M-47.6,36.4l44.6,6.8l0.1-0.1l4.7-0.6M8.3,47.6l3.3-2l-1.6-2.4M4.4,50.1l3.7-1.4M9.6,64.1l2-5.6l-0.1-0.2l-2.7-2M74.6,62.3l-2.5,0.7l-1.5,2.9l3,1.6M62.7,95.1l-0.5-3.7M68,92.7l-1.2,3l0.9,3.1M68,92.7l-2-2.6M68,92.7l3.1-0.4M104.2,29l-3.7,1.9l-1.7-0.7M101.1,25.6l-1.6,1M97.1,34.4l0.5-3.7M69.9,60.1l-1.3-0.1M48.3,56.1l0.9-1.3M77.3,42.4l2.7,4.2M75.1,51.3l0.8-2M105.1,41l0.1-3.4l3.2-1.6l-2.5-4.3l0.4-2.1l4.1,1.2M110.1,74.6l-1.2-4.1M114.3,74.1l0.5-1M115.9,77.9l4.1,0.3M120.4,78l-0.4-4.3l-2.1-1.6M120,73.7l3.3-2.3M46.4,49.3l0.7-2.4l3.5-2l-1-3l2.7-2.1l-0.6-3.8l-3.1-0.5l-2.7,4.8l-5.1-2.3M32.1,56.3l2.4,0.4l2-4.3M41.5,47.9l-0.4-0.5M40,58.3l-2.7,1.1l1.4,5M8.3,29.7l-1.4,1.7l2.1,4.1M4.4,-2.1l2.2-1.4M4.4,1.6l-1.4,0.5l-3.7-2.8l0.1-0.7M16,-0l0.4-1.9l6.2-2M9.3,-2l0.6,2.9M-3,13.4l2.7,2l3.5-2.8M8.4,27.6l-1.2-1l-3-0.1l-2.1,3.1l-3.2,0.4l0.5,4.4l-1.7,2.8M107.5,63.3l-0.6,0.3M99.1,64.4l0.2-0.1M97.6,60.4l1.4,3.9M133.1,76.9l10-2.7M106.6,42.1l3-0.3M110.8,45.8l-1.1,1.6M107.6,53.7l-2.6,3.1M107.8,59.6l3.3-1.8l-0.3-2.9M113.4,51.4l0,0.9M110,64.5l2.6-0.7M38.1,106.4l1.8,7l4.1-6.2M53.2,94.3l0.7,2.4M58.9,96.7l-1.7,1.1M56.8,103.3l-3.6,2.5M51.6,99.9l-1,0.2l-0.9-0.4M80.7,117.5l-3.6-10.4M58.7,107.2l-1.1-3.5l3.1-1.3M34.3,84.3l-0.7,0M36.5,91.1l2.5,0.6M36.5,91.1l-0.4-5M36.5,91.1l-3.2,1.5l-3.2-3.6l1.6-3.6M18.6,95.9l4.9,3.4M32.1,100.4l-2.3-0.2M28.2,98.4l-3.9,1.9l-0.6-0.5l-4.7,1.6M24.7,102.5l3.3,2.6M33.6,103.3l-5.4,1.7M100.7,99.6l-3.6,2.9M97.1,102.9l5.1,3M-40.1,75l37.2-3.4M-2.8,77.6l0.6-1.1l5.5-0.8l0.3-0.5M25.2,91.5l-4.7-1.9M42.9,79.9l0.9-4.3M53.4,59.4l3.7,0.4l-0.1,5.2M44,61.9l-3.1,2.5l3,4.2M77.3,70.4l1.9-0.8l2.8,4.4M130.4,-2.4l-2.8-0.9l-0.9,0.5l-4-2.5l-1.7,3.1M120.7,2.1l1.2-2.3M116.8,-3.4l-0.8,4.2l0.3,0.5l-1.2,4.5M114.7,20.1l-1.1,0l-3.7,2.3M89.5,65.4l3.1-3l2,2M102.9,56.7l-1.3-3M107.1,51.5l-3.3-1.5M98.3,48.1l3.5-1M105.9,46.1l-2.9,1.8M97.3,51.6l0.5,1.2M94,56.2l2.3-0.6M87.2,53.1l-1.5-5.2l2.7-1.2M91,52.5l0.8-1.5M89.4,44l-0.6-1.1M87.9,58.5l0.3-4.9M88.9,41.8l-2.8-4l5.3-1.6M84.4,34.2l1.2,3.4M114.7,27.7l5.6,0.2M114.4,28.7l1.4,4.3l-4.1,4.1l0.6,1.8M111.7,37.1l-0.9-0.7M82.7,40.7l-2.4-0.5M63,58.6l0.1-1.2l-3-3l-2.5,1.5M53.8,45.8l2.5,4.9M60.2,52.8l-1.5-2.2l1.7-4M70.5,39.3l5.4,0.8l0.2-4.1l3.7-1M66.5,43.2l-1.7-0.1M77.7,-1.8l-2.2,4l-2-0.2M93,98.7l0-0.1M49.6,41.9l-3.6-1.2M39.7,35.7l2.5-3.4l4.5,0.7l3.2-4.9l1.8,0.2l2.2,4.2M42.2,32.3l-1.4-4.5M-15.6,34.7l12.9,2.7M22.6,1.5l0.8-4.2M54.5,-0.9l-5.8-0.1M134.4,56.7l-1.3,2.3l-3.5-0.6M133.7,61.5l13.4,2.6M46.3,105.5l-2,1.7l4.6,6.3M47.5,105.8l3.1,3.3l2.3-1.4M41.6,90l2.3,0.9M67.9,106.7l-1.6-0.6M69.6,106.4l2.6-3.1l2.9,0.1M29.7,78.8l-2.4,4.2M21.1,81.2l-0.7,2.3l-3.4,1.9M43.3,96.8l-3.3-0.9M48.3,100.3l-4.5-0.9M21.2,105.4l2.6,4.1M107.6,91.7l2.4,1.9M121.6,95.6l-4.3-1.4M110.4,94.7l2,1M16.2,101l-0.1,3.9l-2.8,1.4l-1.6-1.9l-3.3,0.2M3.7,103.9l3.1,2.2M15.2,69.1l-5.7,1.6l0.6,2.8l3.6,1.4M4.9,70.2l4,0M41.2,73.7l2.7-4.3l3.7,2.6M46,66.4l1.3-0.2M55,69.9l0.7-4.3M49.9,68.2l0.4,2.2M124.6,5.6l-3.9,2.6M81.7,33.1l1.2-6.1l-3-1.3l-0.4-4.3M71,29.9l2.1,3.2l0,1l-3,4.2M69.5,29.5l-3.8,4.5M64.5,64.5l1.8-1.3l3.5,3l-1.1,2.2M90.3,-4.3l5.3,2.1M88.8,91.7l4.1,1.1l2.6-1.8M97.4,80.3l-2.3,0.7M88.5,81.4l0.1,0.3l-1.5,3.9l-4.4-0.5M88.5,81.4l-3.4-2.7l-2.5,2M88.5,81.4l3.4-3.5M85.1,78.7l0-1.9M77.4,88.2l0.8-3.7l-1.6-2M49.9,28.1l-2-2.5l-2.3-0.4M56.8,40.9l2.5,1.2M57.7,36.6l1.2-0.4M65.7,36l-2.6,2M35.6,15.2l-1.4-4.8M35,16.1l-3.7,0.1l-2.4,3.2M29.2,13.8l0.6-3.3l-1-1.2M25.2,16.5l0.7-2M28.9,20.2l-3,2.1l-0.5,0l-3,4.1l-2.5-2l-0.2-2.6l-2.2-1.5l-2.7,1.3l1.1,5l-0.2,0.3M29.2,28.1l-0.1-0.1M7.5,22.8l1.7-0.8M4.2,19l0.5-0.6M11.3,26.4l3,1.3l-1,4.2M12.1,18.4l2.6,3.2M25.4,22.3l-2.2-1.9M17.7,18.6l3.1-2.3M18.5,29.2l-0.1,3.6l4.6-0.6M55,4.5l0.3,1.3l-2.8,4.2M55.2,4.2l4.7-1.1l1.8,1.8M60.3,8l-1.6,0.7l-0.3,4.2l1.2,0.4M46.3,2.7l-4.2-1.9l-1.8,1.8l0.3,3.1l-3.9,1.9l4.3,4.8M48.2,-2.1l-4.1-1M36.7,7.6l-0.6,0M47.8,8.5l-4.8-1.5M132.1,63.2l-4.8-1.5M122.3,65.1l-1.6,3.2M131.5,74.3l-5.3,0.2l-0.3-0.9M39.1,117.2l-5-9.4l-3.7,1.2M81.7,93.2l-3.5,0.6l-2-4.6M76.5,96.3l-0.1-0.1M8.3,75.9l1,4l1.9,1.1M49.5,71.6l1.6,2.8M117.9,17l0.7-3.5M111.1,0.9l-5.2,0.7M76,26.8l-2.5-4.6l-3.2,2M74.8,20.4l-1,0.6l-3.9-2.5M85.2,19.8l-0.9,6.7M105.8,21.5l-2.9-3.2M59.8,-3.6l-0.8,2M66.4,2.8l1.8-2.4M93.9,86.6l1.3,1M97,96.5l0.7-4.1M70.3,9.3l-4.9,2.5l-1.2-0.7M63.1,4.8l1.6,2.5M58.4,12.9l-1.7,0.7l-0.9,1.6l1,4M49.6,14.2l3-3.9M15.2,15.5l-1.9,0.1M17.9,3.1l1.6,4l1.8,0.6l0.7,4.4M12.7,6l-0.1,0.9M9.4,8.1l0.2,5.1M30,-2.5l1.2,5.1M129,55.4l-2.5-1.5M122.4,47.9l-0.5,3.7M124.3,57.7l-2.7,0.4M-0.7,93.5l-0.2-1.1l4.5-3.1M10.9,96.1l0.2-0.5l2.8-1M17.5,89l-2.6,1.4M5.8,91.6l2.9-0.1l1.4-2.9M11.5,88.4l3-4.5l-1.5-2.9l2.2-2.5M55.1,82.1l3.8,1.2l2.3-3.5l3.8-0.3M58.9,83.3l0.9,2.4M66.1,89.2l-1.7-3.3M59.2,76.3l0.7-2M58.9,72l2.5-3.1M102.3,-10.2l-3.8,7.3l-2.5,0.3M105.7,2.4l-3,1.5M106.9,11.4l0.9-2.1l0,0M107.8,9.3l-5.5-2.6M110.5,16.1l0.1-0.2M89.8,20.5l0.3,3.4M94.2,26l1.2-1M96.8,18.6l1.8,3.1M96.8,18.6l-3.7,0.5M96.8,18.6l1.3-1.6M106.8,11.5l-2.5,5.2M50.4,19.9l0.4,0.7M61.6,16.1l-0.9,3M66.3,21.4l-0.9-0.7M61.1,25.1l0.4,4.4l4.7-1.9M58.4,30.3l1.5,0.6M53.9,26.6l2.1,0.2M26.9,9l-2.7,3.4M24.9,4.4l-0.5,1.9M116,54.9l-2,4.4M120.5,52.6l-1.1,2.2M70.2,85.4l-4.1-1.9l-0.2-3.1M70.8,9.7l-0.3,5.4M77.1,7.2l-3.1,2.6M93.8,5.5l3.5,0.8l0,5.3M97,11.8l-3.7-2.1l-0.3-3.8M89.1,9.7l1.2,1.2M74.2,69.6l-2.7,2.9M77.2,77l0.8,2.6M72.8,83.3l-1.4-2.8" fill="none" stroke="#B882D2" stroke-width="1.1" stroke-linecap="round" stroke-linejoin="round"/>
<path d="M134.9,-2l-2.6-1.5M23.7,71.9l1.9-0.6M23.7,65.6l2.5,3M131.5,108.1l-1.6-0.7l-5,3.9M10.6,110l-3.9-3.1M16.5,64.8l0.1-0.7M23.3,65.6l-2-4.9l0.1-0.4M148.3,50.8l-14.9,1.3l0.2-4.7M126.1,47.3l1.9,3.5l-1.6,2.9M44.9,60.9l-0.6,0.3l-0.3,0.7l2,4.5M41.8,54.6l1-0.1M26.6,39.1l-2.9,4.1M129.6,100l0.4,1.1l-4,0.8M118.7,106.3l3.3-1.3M124.3,100.2l-2.4,0.7M15.5,52.9l-4,5.4M23.5,58.6l1.2,0.1M29.8,58.4l-3.8-0.8M18,55.5l3.4-0.9M-1.1,59.6l2.3-6.1M133.3,14l-3.6,3.5M126.8,14.3l0.2,2.1M131.1,21l1.4,5.7M77,57.6l-0.4-4.9l-1.5-1.4M82,57.9l0.6-4.3M130.2,38.7l-5.2,0.5l-0.1,2.6l-2.3,1.3M125,39.2l-1-1.5M121.5,46.8l-3-0.5M75.2,58.6l-2.7-0.8M101.4,74.8l0.3,3l2.7,1.9M87.9,58.5l0,0.1M20.7,50.5l0.9-1.2l2.2-0.5l0.9-4.6M15.2,43.8l1.8,3.2l3.2-0.6l1.1-3.8M15.3,51.3l1-0.7M23.8,48.8l0.1,0l2,4.1l0,0M3,24.1l1.2,2.4M13.6,-6.4l-4.3,4.4M121.6,95.6l2.5-1.4l0.2,0.1l3.6-4.8M134.2,89.6l-1.6-2.9M134.3,96.6l-2.9-1.8l-0.2-0.2M133.9,91.1l-2.4,1.8M128.3,89.5l2.9-2.8M104.7,74.1l1.2-3.9M121.8,78.3l3.6-1.6l0.8-2.2M123.4,82l-1.8,2.5l-3-1.1M120,78.2l0.4-0.2M108.2,104.6l2.2,0.4M-11.1,101.9l10-3M-2.3,105.2l1.9-5.6M-0.9,60l-1.2,4.2M0.8,66.4l-2.1,4.6M3.7,60.6l1.5,2.9M17.9,78.2l1.9-3.2M48.3,56.1l-2,0.7M41.6,85.3l-0.4-2.6l-4.5-1.1l-2.4,2.7M41.6,85.3l4.8,0M41.6,85.3l-0.1,0.2l-5.4,0.6M42.5,80.1l0.4-0.2M36.7,81.6l0-3.6l1.4-0.7M36.7,78l-2.7-1l-2.9,2l-1.4-0.2M30.8,63.8l0.6,0l4.6-4.9l-1.5-2.2M32.7,69.6l2.3,2.6l2.5-0.7M-3,43.2l0.1,2.2M14,50.8l-3.9,0.9l-2-3M8.8,56.3l-0.1-1.8M60.4,97.1l2.3-2l4.1,0.6M52.8,83.7l-4.6-3.3M51.9,90.2l0.6,3.7l0.7,0.4M58.4,89.6l-5.2-1.2M125.9,25.7l0-0.2M121.8,18.9l-0.7,2.5M116.3,22.6l3.9-0.5M117.9,17l-1.6,0.4M104.2,29l-3.1-3.4M92.8,38.4l4.2-1.3l0.8-1.4l3.7,0l-1,6M101.5,24.5l3.2-0.6l2.3,3.2l3.2-2.3l4.4,2.6l0.1,0.3M93.7,29.1l3.9,1.6l1.2-0.5M70.6,53.8l-3,1.2l-1.3-0.2l-3.2,2.6M53.5,55.2l-0.1,4.2M75.9,49.3l-1.6-4.5l-2.1-0.1l-2-4.3l-3.7,2.8M81.4,52.2l1.1-4.9l0.4-0.2l2.8,0.8M105.2,37.6l-3.2-2.2l0.2-0.5M97.8,35.7l-0.7-1.3M110.1,74.6l4.2-0.5M114.8,73.1l3.1-1l0.7-3.5l-2.5-2l-2.8,3.1M36.8,43.2l-1.8-2.3l-4.6,1.6l-0.1,0.4M35.3,38.5l3.4-2.7M46.4,49.4l0-0.1M49.2,54.8l-0.5-3.8M54.4,54.5l0.3-2.3l1.6-1.5M36,58.9l1.3,0.5M37.3,47.8l3.8-0.4M39.5,42.9l1.6,1.6l4.1-1.5M9,35.5l-4.5,1.2l-0.4,1.9M2.1,29.6l2.8,2M3.7,35.4l-4.3-1M8.3,47.6l-2.7-3.2M-3.6,-4.4l3,3l2.2-1.8M-1.6,20.3l1.7-1.8M17.8,36.9l-0.3-3.2M7.2,26.6l0.3-3.8l-2.6-1.2M106.9,63.6l-4.3-1.8l-3.3,2.5M102.6,61.8l-0.6-4M98.8,66.1l0.3-1.7M102.9,56.7l2.1,0.1l2.8,2.8l-0.3,3.7M133.8,81.3l-0.7-4.4l-0.2-0.1l-1.4-2.5M109.6,41.8l1.2,4M117.4,40.4l-2.4,0M106.6,42.1l-0.7,4l3.8,1.3l0.3,1.8M107.6,53.7l-0.5-2.2M112.6,63.8l3.5,2.6l2.5-3.2M38.1,106.4l2.4-1.6M57.2,97.8l-1.2,3.9l-4.4-1.8M53.2,105.8l-2.3-2M63.8,140.6l4.1-33.9M77.1,107.1l-4.4,3.2M56.8,103.3l0.8,0.4M41.6,90l-2.6,1.7M18.6,95.9l0.8-1.1l5.2-0.9M19.4,94.8l-0.2-4.9M32.7,94.5l-3.7,1.4M23.5,99.3l0.2,0.5M13.2,108l0.1-1.7M108.3,77.5l1.5,1.8M109.3,83.5l-4.3,2.1l-1.3-2l-4.4-0.6M105.5,97.7l-1.1-4.2l3.2-1.8M102.2,105.9l0.6-0.3l3.4,2M106.7,101.6l-3.1,1.6M91.8,106.8l-3.8,2.4l-2.1-1.3l-0.6-4.5l-2-0.5M-2.7,71.4l-0.2,0.2M51,61.9l1.9,2.6l-3,3.7M38,68.7l-0.9-2.3l1.6-2l2.2,0M73.6,67.5l0.6,2.1M79.4,69l-0.2,0.6M74.6,62.3l2.4,2.3M81,62.1l-3.1,2.6M84.2,67.2l1.4,2.7M121.9,-0.2l-0.9-2l-4.2-1.2M132.4,6.8l-2.3-4.2M125.1,5.7l2-2.9M124.6,5.6l-3.7-2.9l-2.2,3.5l2,2M95.5,69.2l-1.4-1.7M99,64.3l-4.4,0.1M92.5,72.3l-2.9-2l0.6-3M89.6,70.3l-1.5,0.5M97.3,51.6l1-3.5l-3.3-2.5l-3.3,4.4l0.1,1M97.8,52.8l-1.5,2.8M92.3,59.9l1.7-3.7M88.2,53.6l-1-0.5M88.8,42.9l0.1-1.1M85.6,37.6l0.5,0.2M82.7,40.7l1,2.1M84.4,34.2l5-3.2M125.5,32.6l-4-1.1M77.3,42.4l0.2-0.8l2.8-1.4l-0.5-5.2M66.3,54.8l-1.8-3.5M66.5,61.5l-3.5-2.9M70.2,40.4l0.3-1.1M72.2,44.7l-2.6,3M65.1,49.2l-2.4-2.7l2.1-3.4M62.7,46.5l-2.3,0.1l-0.4-0.4l-0.7-4.1M82.1,-2.2l-4.4,0.4M81,3.8l-3.6,0.7M83.1,-1.3l2.1,0.5l4.3-4.5M100.6,98.2l-3.6-1.7l-4,2.1l-0.1-5.8M96.5,75.9l0.9,4.4M87,75.5l-1.9,1.3l-3.1-2.7l-4.8,2.9l-1.3-0.8M54.2,45.4l0.8-3.6l1.8-0.9M32.3,46.6l2.9,4.4l-4.4,0.6M29.4,49.4l0.1,0.6M-2.9,43.1l0.2-5.7M1.9,4.1l1,2.6l3.2,0.7l0.6-0.4M1.9,4.1l-3.1,0M1.9,4.1l1.1-2M-17.5,3l14.9,2.6M17.9,3.1l-0.8-0.5M22.6,-3.9l0.8,1.2M54,-17.2l0.5,16.3l0.3,0.3M53.3,-20.3l-5.1,18.2M129,55.4l0.6,3M134.8,67.1l-2.5-1.6M48.3,100.3l1.4-0.6M48.6,95.4l-3.7-0.1M47.3,86.4l-0.4,3.2M65.3,100.6l-3.1-0.1M31.7,85.4l-4.4-2.4M25.2,91.5l1.7-2.2M22.4,86.1l-1.9,3.5M43.3,96.8l0.5,2.6M28,105.1l0,1.6l2.4,2.3M107.6,89.4l5-1.8l-0.1-2.4M110.4,94.7l-3.5,3.9M75.4,103.6l6.5-2.5M117,99.5l-3.4-0.1M117,99.5l0.3-5.3M117,99.5l0.7,0.4M113.4,90l3,3.3M119.6,89.4l-2.9,4M17,100.4l-0.8,0.6M3.9,99.5l4.2,1.5M-2,80.4l-0.4,1.6l0.9,1.1M8.9,70.2l0.6,0.5M15.2,69.1l1.1,1.7l-2.6,4.1M118.7,6.2l-3.1,0.1M111.4,0.3l-0.6-3.3M77.9,31.3l2.9,2.1l0.9-0.3M76,26.8l-5,3.1l-1.3-0.5M61.2,59.9l-0.1,3.5M57,65l1.5,0.3M90.3,-4.3l0.6,5.1l-1.3,1.2M94.6,0.8l0.6-0.4M86.5,-111.9l9.5,109.3M92,75.8l-0.1,2.1M82.7,85.1l-0.3-0.5M95.1,81l-1.9,2.4M88.4,88.2l-0.3,1.1M53.4,35l0.5-2.5M44.4,19.1l1.2,6.1M43.5,18.2l-3.1-4.2M35.6,15.2l-0.6,0.9M31.3,16.2l-2.1-2.4M34.5,32.9l-0.2-3.8M28.9,20.2l0-0.8l-3.7-2.9l-2,1.3l0,2.6l-3.5,1.4M29.1,28l0-0.5M9.9,0.9l-0.2,0.5M8.4,18.2l1.3,0.9M14.3,27.7l1.4-0.8l2.8,2.3M49.1,4.1l-1.4-1.7M38,-6.5l-5,3.6M40.3,2.6l-4.3-1.4l0-0.7M43,6.9l0,0.1M48.5,8l-0.7,0.5M46.7,12l-4.4-0.7M127.3,61.7l0-0.5l-3-3.5M120.7,68.3l2.5,2.3l3-3.2M129,68.7l-3.1,4.9l-2.6-2.2M81.8,100.4l-5.3-4.1l-1.4,7.1M72.4,90.1l2.9-1.1l0.9,0.2M75.3,89l-2.4-5.6l-0.1-0.1M-2.7,88.8l1.6-1.8l4.7,0.1l0.8-1.4l-0.4-1.5l0.6-3l4.7-1.3M3.6,87.1l0,2.2M8.3,75.9l1.8-2.4M51.1,74.4l-2.4,3.8l0.1,0.7M43.8,75.6l2.1-0.4M55,69.9l1,1.3M116.9,11.5l1.7,2l3.5-0.2l0.6-0.6M122.1,13.3l0,5.5M126.6,8.3l-3.8,3.3M111.2,3.9l-0.1-3M105.6,0.7l0.3,0.9M79.5,21.4l0.9-1l4.8-0.6M59.9,3.1l0.9-2.5M85.2,15.9l0.4,3.5M65.2,2.7l-2.1-2.5M68.8,-3.9l3.1,1l0.5,3.8l-4.2-0.5M64.3,-2.3l3.1,0.8M101.9,88.7l-0.9,3.4M69.4,6.7l-0.5-0.2l-2.5-3.7M60.3,8l3.4,1.5M64.2,11.1l-4.6,2.2l2,2.8M22.6,1.5l2.3,2.9M14.6,9.3l-3.2,4.2l1.9,2.1M17.7,18.6l-2.5-3.1M6.1,7.4l-1.4,5.3M4.7,18.4l0.4-5.3M31.2,2.6l4-0.4l0.9,5.4l-0.4,0.3l-1.5,2.5M30.2,3.8l0.4,1.8M120.5,52.6l1.4-1M4.2,95l1.6-3.4M4.2,95l-4.9-1.5M4.2,95l0.7,1.7M10.1,88.6l1.4-0.2M54.4,78.3l0.4-1M61.2,79.8l-2-3.5M59.8,85.7l4.6,0.2l1.7-2.4M66.1,89.2l3.9-2.3l0.2-1.5M58.9,72l1,2.3M101,-0.9l-2.5-2M102.6,-1.6l1.2-3.8M100.3,1l2.4,2.9l-0.8,2l0.4,0.8M110.6,15.9l3-1.8l0.5-1.6l-3.5-3l4.6-3.5M90.1,23.9l4.1,2.1M99.5,26.6l-4.1-1.6M102.8,17.6l-2.3-5.9l-0.3-0.2M102.8,17.6l0,0M102.8,17.6l-4.7-0.6M80.7,10.4l2.8-1.2l2,1.7l0.4,4.1M51,16.3l-0.6,3.6M53,21.4l-2.2-0.8M56.8,19.2l3.9-0.1l0.9,1.2M65.4,20.7l-0.3-5l0.8-0.7l3.8,1M66.3,21.4l0.1,0.4l-1.3,2.8l-4,0.5l-0.8-0.8M59.9,30.9l1.1-0.5M55.9,20.4l2.5,3.9M24.4,6.3l-3.1,1.4M28.8,9.3l-1.9-0.3M20.4,13.5l1.6-1.4M119.4,54.8l1.1,2.7M114.2,59.6l-0.2-0.3M89,7.4l0.1,2.3M76.3,14.5l-2.3-4.7l-3.2-0.1l-0.5-0.4M70.5,15.1l5.3,0.5l0.2-0.2M98,5.6l-0.7,0.7M93.8,5.5l-0.8,0.4M90.3,10.9l0.1,3l1.9,1.5l4.4-2.9M92.3,15.4l0.1,3.4M97.3,11.6l-0.3,0.2M64.5,74.1l0.9-1M65,79.5l0.3,0.2M71.5,72.5l-0.2,0M71.4,80.5l0.5-1.7M82.6,80.7l-4.6-1.1" fill="none" stroke="#B882D2" stroke-width="1.4" stroke-linecap="round" stroke-linejoin="round"/>
<path d="M-1.6,20.3l-0.1,1l-3.7,3.3l3.8,5.1l-14,5M20.8,69.4l2.9,2.5l-1.5,2.7l2.8,2.9M23.7,65.6l3.4-2.8l2.9,0.4l0.8,0.6M129.6,50.4l3.2,2.3l0.6-0.6M132.8,52.7l-0.3,1.5l1.9,2.5M132.2,46.3l0.2,0M23.7,43.2l-2.4-0.6M20.2,38.4l0.6,3.7l-5.5,1.6l-0.1,0.1l-3.1,1.8M13.9,39.7l0.3-1M10.6,110l2.6-2l2.5,1.6M124.3,100.2l1.7,1.7M129.1,105.9l-3.9-1M130,101.1l0.1,0.1M21.4,54.6l0.3-0.7l4.2-1l0.9,1.8M132.8,43.9l-2.2-2.3M134.6,38l-4.3,0.8M132.4,33.4l-2.6,2.4l0.4,2.9M131.1,21l2.1-0.6l5.9,2.1M133.1,27l-0.6-0.3l-5.3,0.7l-0.3,3.2l-1.4,2M127.6,22.3l3.5-1.3M124.7,18.5l2.3-2.1M134.9,13.9l-1.6,0.1l-4.4-2.4l-0.4-2.2l-1.9-1.1l-1.5-2.6M132.6,6.8l-0.2,0M76.6,52.7l4.8-0.5M82,57.9l-1.4,1.2l-3.6-1.5l-1.8,1M121.5,46.8l0.9,1.1M118,40.1l4.6,3M124,37.7l1.7-4M72.5,57.8l-1.9-4M99.4,72.6l-3.9-2.5l0-0.9M92.5,72.3l0.2,2.7M17,47l-0.7,3.6M0.3,23.7l-1.7,6.1M9.3,-2l-2.7-1.5M-2.9,11.1l-0.1,2.3M131.2,86.7l-3-4.1l-1.3,0.6M133.8,81.3l1.9,1.8M131.5,92.9l-0.3,1.7l-5.8,0.7M104.5,68.8l1.4,1.4M124.1,94.2l-3.2-4.9l1.5-1.8l-0.8-3M128.2,82.6l-0.1-3.2l-2.7-2.7M117.3,84.1l0.5,3.8l-4.5,0.5M95.4,106.2l4.3,3.8l2.5-4.1M117.4,105.7l0.3-5.8M106.7,108.7l-0.5-1.1M114.9,143l-3.6-35.1M-19.2,95.4l17.4,0.5l0.7,3M-1.1,59.6l0.2,0.4l4.6,0.6M17.7,71.2l2.1,3.8M51,61.9l0.4-1l2-1.5M41.2,82.7l1.3-2.6M33.6,74.5l1.4-2.3M-2,50.5l0.8-2.5l-1.7-2.6M1.8,53.5l3.6,4.3M4.4,50.1l-2-3l1.1-2.4M10.1,51.7l-1.4,2.8M72.1,63l-2.2-2.9M62.2,91.4l-3.8-1.8l0,0M46.4,85.3l0.9,1.1M47.4,80.9l0.8-0.5M53.2,94.3l4.2-1.7l1.5,4.1l1.5,0.4l1.8,3.4l-1.5,1.9M122.1,18.8l-0.3,0.1l-3.9-1.9M116.3,17.4l-1.6,2.7l1.6,2.5l-1.7,4.8M100.9,70.3l-2.1-4.2M98.5,41.5l-1.5-4.4M114.8,73.1l-1.5-3.4M108.3,77.2l1.8-2.6M36.8,43.2l-1.2,2.2M35.3,38.5l-3.8-1.4l-0.6-2.3M38.7,35.8l-4.2-2.9M32.1,56.3l-1.2-1.7l-0.1-3l-1.3-1.6M41.5,47.9l-1.8,4.7l2.1,2M41.1,44.5l0,2.9M45.2,43l1.9,3.9M9,35.5l2.1-0.5l2-3l0.2-0.1l4.2,1.8l0.9-0.9M4.9,31.6l-1.2,3.8l0.8,1.3M4.4,-2.1l0,3.7M-12.7,1.4l11-1.1l0.5,3.8l-1.4,1.5M13.6,-6.4l2.8,4.5M106.9,63.6l-2.4,3.6l-5.2-2.9M110,64.5l-2.5-1.2M109.6,41.8l2.7-2.9l2.7,1.5l-1.2,5.2l-3,0.2M113.8,45.6l2.3,2.1l-0.3,1.5M113.4,51.4l-3.4-2.2M57.2,97.8l-3.3-1.1M56.8,103.3l-0.8-1.6M80.9,106.5l2.1,2.7M77.1,107.1l0,0l-1.7-3.5l-0.3-0.2M58.7,107.2l-2.9,2.5l-2.9-2l0.3-1.9M41.5,85.5l0.1,4.5M29,95.9l-0.8,2.5M24.6,93.9l0.6-0.6M28.2,105l-0.2,0.1M24.3,100.3l0.4,2.2l-3.5,2.9l-0.8-0.1l-1.8,0.9l-2.5-1.3M33.6,103.3l-1.5-2.9M18.6,106.2l-0.6,2.3M114.8,83.2l-2.3,2M115.9,77.9l-1.6,1.7M101.6,92.8l-1,5.4l0.3,0.5M103.6,103.2l-0.8,2.4M97.1,102.5l0,0.4M106.7,101.6l0.7-1.5M112.3,102.3l-0.1-1.3M105.5,97.7l1.4,0.9M-2.9,71.6l0.7,4.9M41.2,73.7l2.6,1.9M52.9,64.5l2.8,1.1M37.5,71.5l0.5-2.8l5.8,0.3l0.1,0.4M74.2,69.6l3.1,0.8l-1.6,5.4M130.1,2.6l-3,0.2l-1.7-3.2l-3.5,0.2M132.3,-3.5l-1.9,1.1M120.7,2.1l0.2,0.6M110.2,24.8l-0.3-2.4M90.2,67.3l-0.7-1.9l-3.8-1.1M92.6,62.4l0-1.9l5-0.1M95,45.6l-0.3-1.3l0.5-1M101.1,42.2l0.7,4.9l1.2,0.8M91.7,50l-3.3-3.3l1-2.7M88.2,53.6l2.8-1.1l3,3.7M82.9,47.1l0.8-4.3M91.4,36.2l1.1,2l0.3,0.2M120.2,22.1l0.1,5.8M102.2,34.9l3.7-3.2M106.2,29.4l0.1,0.2M114.4,28.7l-4,2.1M54.4,54.5l3.2,1.4M57.1,59.8l0.4-0.3M60.2,52.8l-0.1,1.6M69.4,48.4l0.2-0.7M54.2,45.4l5.8,0.8M82.1,-2.2l1,0.9M97.4,80.3l0.2,0.1M88.1,70.8l-1.1,4.7M55,41.8l-2.7-2M35.8,51.2l-0.6-0.2M10,43.2l0.9-2.7l-1.9-1.2l-2.3,1.2l0.1,2.5l-1.2,1.4M1.8,42.5l0.6-2.7l1.7-1.2M-2.7,37.4l0.4-0.2M0.2,9.1l3,3.5l1.5,0.1l0.4,0.4l4,0.3l-0.7,4.8M22.6,1.5l-4.7,1.6M143.1,74.2l-9.4-3.4M133.7,61.5l-1.6,1.7l0.2,2.3M50.9,103.8l-3.4,2M46.9,89.6l1.2,0.8l3.8-0.2M52.5,93.9l-3.8,1.4l-0.1,0.1l1.1,4.3M61.9,108.9l1.8-2l2.6-0.8l-1-5.5l2.4-1.8M72.2,103.3l-2.7-4l4.4-3.5l-2.8-3.5M30.1,89l-3.2,0.3l-1.5-3.1l-3-0.1M40.5,104.8l0-2.5l-2.9-2.1l-3.3,3.4l0.9,2.4l2.9,0.4M46.2,104.7l-3.2-3.9M34.1,96.8l3.1,1.7M35.2,106l-1.1,1.8M28,106.7l-4.2,2.8M107.6,91.7l0-2.3l-2.6-3.3l0-0.5M105,86.1l-3.1,2.6M110.4,94.7l-0.4-1.1M89.3,101.9l-4,1.5M112.4,95.7l4-2.4l0.3,0.1M18.6,95.9l-0.8,0.4M3.1,100.1l0.8-0.6l1-2.8M-2.8,77.6l0.8,2.8M3.3,75.7l0.1,4M-1.3,71l4.6,1.3M4.9,70.2l-1.5-3.9l1.8-2.8l4.4,0.6l0.1,0.1M15.2,69.1l0.1-3.2l1.2-1.1M43.9,68.6l2.1-2.2M115.2,6l0.4,0.3l0.9,5l0.4,0.2M116,0.8l-4.6-0.5l-0.3,0.6M104.7,23.9l1.1-2.4M79.8,35l1-1.6M77.9,31.3l-4.8,1.8M77,27l-1-0.2M70.5,39.3l-0.4-1M95.6,-2.2l-0.4,2.6M90.3,99.6l-3.6-3.8l2.1-4.1M95.1,81l-3.2-3.1M82.6,80.7l-0.2,3.9M88.1,89.3l-5.4,1.1l-1,2.8l2.9,2.7l-2.8,4.5M81.8,88.4l-4.4-0.2l-1.2,1M51.7,36l1.7-1M63.1,38l-0.2,1.8l1.9,3.3M25.9,22.3l3.2,5.2M28.9,20.2l3,2.5M7.2,2.7l2.5-1.3M17.1,2.6l-4.4,3.4M14.7,21.6l-3.5,1.7l-2-1.3M12.1,18.4l-2.4,0.7M17.7,18.6l-0.2,1.7M23.2,17.8l-2.4-1.5l-0.4-2.8l-2.9-0.7l-1.3-3.1l-1.6-0.4M18.5,29.2l4.2-1.6l0.1,0.1M22.7,27.6l-0.3-1.2M48.5,8l4,2l0.1,0.3l4.1,3.3M54.8,-0.6l0.4,4.8M42.1,0.8l-0.2-2.3M47.7,2.4l-1.4,0.3M39,-3.1l-3,3.6M33,-2.9l-2.3-0.4M27,-1.8l3-0.7M43,7l-0.7,4.3M46.7,12l1.1-3.5M47.7,13.7l-4.2,4.5M40.4,14l0.6-1.6M129.6,58.4l-2.3,2.8M127.2,61.8l0.2,5.4l1.5,1M127.4,67.2l-1.2,0.2l-3.9-2.3M118.6,68.6l2.1-0.3M132.1,71.6l-3.1-2.9M73.9,95.8l2.5,0.4l1.8-2.4M-1.1,87l-0.4-3.9l5.5,1.1M-2.8,90.5l0.1-1.7M13.7,74.9l1.5,3.6M49.5,71.6l-1.9,0.4M122.8,11.6l-2.2-2.4l0.1-1M115.1,5.8l-3.9-1.9M74.8,20.4l4.7,1M73.8,21l-0.3,1.2M69.7,29.4l0.6-5.2M89.4,31l-2.2-3.6l-2.9-0.9M87.2,27.4l2.9-3.5M101.5,24.5l-1.1-2.6l2.5-3.6l-0.1-0.7M59,-1.6l1.8,2.2l2.3-0.4l1.2-2.5M80.4,20.4l-0.8-3.1M68.8,-3.9l-1.4,2.4l0.8,1.9M75.2,-6.7l-3.3,3.8M65.2,2.7l1.2,0.1M95.2,87.6l2.3-1.1l1.8-3.5M95.5,91l2.2,1.4l3.3-0.3M64.7,7.3l4.2-0.8M70.3,9.3l-0.9-2.6l4.1-4.7M63.7,9.5l0.5,1.6M66.2,27.6l-1.1-3M16.2,9.7l3.3-2.6M17.5,12.8l-2.3,2.7M12.6,6.9l-3.2,1.2M31.2,2.6l-1,1.2M36,1.2l-0.8,1M124.3,57.7l2.2-3.8l-0.1-0.2M118.6,63.2l3.4,0.3l-0.4-5.4l-1.1-0.6M11.1,95.6l-2.4-4.1M8.3,86.2l2.9-5.2l1.8,0M14.9,90.4l-3.4-2M54.8,77.3l4.4-1M61.4,68.9l2.2-0.1M64.9,69.7l3.8-1.3l2.6,4.1l-1.8,1.6l-0.1,1.6M101,-0.9l1.6-0.7M100.3,1l-2.4,1M107.7,-3l-3.9-2.4M98,5.6l3.9,0.3M108.3,6.2l-0.5,3.1M92.4,18.8l0.7,0.3l2.6,4.8l-0.3,1.1M85.6,19.4l4.2,1.1M93.7,29.1l0.5-3.1M100.5,11.7l6.3-0.2l0.1-0.1M108.8,17.7l-4.5-1M100.2,11.5l2.1-4.8M84.4,5.9l-0.9,3.3M47.9,25.6l2.9-5M53.9,26.6l-0.9-5.2M65.4,20.7l-3.8-0.4l-1.3,4M58.4,24.3l-2.4,2.5M61.5,29.5l-0.5,0.9l4.7,3.6M53.9,32.5l4.5-2.2M24.4,6.3l2.5,2.7M119.4,54.8l-3.4,0.1l-2.6-2.6M112.6,63.8l1.6-4.2M89.6,2l1.8,3.6l-2.4,1.8M85.5,10.9l3.6-1.2M76,15.4l0.3-0.9l4-2.3M94.6,0.8l-0.8,4.7M64.5,74.1l0.5,5.4M76.6,82.5l-3.7,0.9" fill="none" stroke="#B882D2" stroke-width="0.8" stroke-linecap="round" stroke-linejoin="round"/>
<path d="M46.3,56.8h0M-0.9,60h0M23.7,71.9h0M14,50.8h0M115.8,49.2h0M105,85.6h0M29.8,58.4h0M116.3,22.6h0M20.2,38.4h0M26,57.6h0M21.7,53.9h0M37.3,59.4h0M-1.4,52h0M69.4,48.4h0M127.9,89.5h0M110,64.5h0M122.4,87.5h0M118.6,83.4h0M16.1,104.9h0M67.7,98.8h0M33.6,103.3h0M35,72.2h0M-1.2,48h0M8.1,48.7h0M58.4,89.6h0M47.3,86.4h0M121.1,21.4h0M80,46.6h0M101.1,42.2h0M30.3,42.9h0M42.2,32.3h0M9.9,0.9h0M0.1,18.5h0M4.9,21.6h0M23.2,17.8h0M132.5,54.2h0M115,40.4h0M113.8,45.6h0M107.4,100.1h0M3.3,75.7h0M43.8,75.6h0M89.5,65.4h0M86.1,37.8h0M66.5,61.5h0M66.3,54.8h0M97.6,80.4h0M48.6,35.5h0M6.7,40.5h0M27,-1.8h0M48.7,-1h0M46.3,105.5h0M75.1,103.4h0M37.2,98.5h0M113.3,88.4h0M85.3,103.4h0M11,98.7h0M9.7,64.2h0M49.9,68.2h0M71,29.9h0M77.9,31.3h0M64.5,64.5h0M61.1,63.4h0M74.8,20.4h0M12.7,6h0M127.4,67.2h0M76.2,89.2h0M81.7,93.2h0M3.6,87.1h0M53.8,75.2h0M118.6,13.5h0M82.2,14.9h0M70.3,9.3h0M11.4,13.5h0M55.1,82.1h0M58.9,83.3h0M70,86.9h0M61.4,68.9h0M101,-0.9h0M113.6,14.1h0M90.1,23.9h0M94.2,26h0M95.4,25h0M69.7,16h0M56,26.8h0M61.5,29.5h0M89.1,9.7h0" stroke="#B882D2" stroke-width="1.6" stroke-linecap="round"/>
<path d="M29.6,40.2h0M26.2,68.6h0M132.6,6.8h0M21.4,54.6h0M127.6,22.3h0M127,16.4h0M128.5,9.4h0M120.7,2.1h0M92.6,60.5h0M75.1,51.3h0M103.7,83.6h0M101.7,77.8h0M41.1,44.5h0M17,47h0M16.3,50.6h0M-1.1,30h0M120.4,78h0M120,73.7h0M13.3,106.3h0M36.7,78h0M28.2,105h0M-1.3,71h0M39.8,73.8h0M95.5,69.2h0M108.9,70.5h0M35,40.9h0M17.7,18.6h0M120.9,2.7h0M101.6,53.7h0M88.2,53.6h0M91,52.5h0M105.9,31.7h0M69.6,47.7h0M48.5,8h0M117.3,94.2h0M116.7,93.4h0M73.1,34.1h0M88.5,81.4h0M36.2,27.6h0M28.9,20.2h0M20.4,13.5h0M127.3,61.7h0M123.3,71.4h0M126.2,67.4h0M131.5,74.3h0M125.9,73.6h0M73.8,21h0M85.6,19.4h0M31.2,2.6h0M8.7,91.5h0M102.7,3.9h0M26.9,9h0M114.2,59.6h0M91.4,5.6h0M97.3,6.3h0" stroke="#B882D2" stroke-width="1.2" stroke-linecap="round"/>
<path d="M-1.7,21.3h0M-1.6,20.3h0M23.3,65.6h0M23.7,65.6h0M104.2,29h0M132.8,52.7h0M21.4,60.3h0M44,61.9h0M60.4,97.1h0M18,55.5h0M25.9,52.9h0M36,58.9h0M10.1,51.7h0M57.4,92.6h0M130.3,38.8h0M118,40.1h0M100.5,30.9h0M92.7,75h0M84.2,67.2h0M20.7,50.5h0M-1.6,29.7h0M104.5,68.8h0M121.6,84.5h0M41.5,85.5h0M117.3,84.1h0M117.8,87.9h0M108.2,104.6h0M-1.8,95.9h0M19.8,75h0M21.1,81.2h0M41.6,85.3h0M32.7,69.6h0M4.4,50.1h0M4,51.6h0M99.5,26.6h0M102.9,56.7h0M105.1,41h0M114.8,73.1h0M38.7,35.8h0M46.7,33h0M48.7,51h0M46.4,49.3h0M6.9,31.4h0M4.5,36.7h0M40.4,14h0M20.8,16.3h0M110.8,45.8h0M118.6,68.6h0M69.6,106.4h0M55.7,65.6h0M38.7,64.4h0M70.6,65.9h0M94.6,64.4h0M106.3,29.6h0M110.4,30.8h0M60,46.2h0M81,3.8h0M85.2,-0.8h0M49.6,41.9h0M34.2,10.4h0M1.9,4.1h0M-1.2,4.1h0M116.4,93.3h0M3.4,79.7h0M4.9,70.2h0M8.9,70.2h0M43.9,68.6h0M118.7,6.2h0M77,27h0M73.1,33.1h0M92.9,92.8h0M82.6,80.7h0M29.2,28.1h0M25.9,22.3h0M31.9,22.7h0M23.2,20.4h0M25.4,22.3h0M61.7,4.9h0M36,0.5h0M73.9,95.8h0M75.3,89h0M76.4,96.2h0M100.2,11.5h0M72.4,0.9h0M97.5,86.5h0M95.2,87.6h0M56.7,13.6h0M9.1,13.4h0M30.6,5.6h0M120.5,52.6h0M-0.9,92.4h0M54.4,78.3h0M104.3,16.7h0M60.3,24.3h0M70.8,9.7h0M70.5,15.1h0M75.8,15.6h0M65.9,80.4h0M75.7,75.8h0" stroke="#B882D2" stroke-width="2.0" stroke-linecap="round"/>
<path d="M80.6,59.1h0M33.6,74.5h0M126.8,14.3h0M39.5,42.9h0M66.8,95.7h0M68,92.7h0M33.3,92.6h0M-0.9,106.7h0M17.9,78.2h0M22.2,74.6h0M2.4,47.1h0M110.2,24.8h0M5.6,44.4h0M3,2.1h0M7.5,22.8h0M22.6,1.5h0M109.6,41.8h0M105.9,46.1h0M56,101.7h0M41.6,90h0M114.3,79.6h0M55,69.9h0M127.1,2.8h0M92.6,62.4h0M77.5,41.6h0M63,58.6h0M45.9,40.3h0M-0.9,9.1h0M0.2,9.1h0M52.5,10h0M31.7,85.4h0M89.3,101.9h0M73.5,2h0M100.3,1h0M82.4,84.6h0M34.1,22.4h0M12.1,18.4h0M14.7,21.6h0M127.2,61.8h0M128.9,68.2h0M-1.1,87h0M51.1,74.4h0M122.1,13.3h0M79.6,17.3h0M63.7,9.5h0M52.6,10.3h0M4.7,12.7h0M124.3,57.7h0M126.5,53.9h0M118.6,63.2h0M58.9,72h0M24.2,12.4h0M65,79.5h0" stroke="#B882D2" stroke-width="2.4" stroke-linecap="round"/>
<path d="M68.5,69.5C69.8,69.0 71.2,71.0 72.5,72.5C73.8,74.0 75.2,76.3 76.5,78.5C77.8,80.7 79.7,83.2 80.5,85.5C81.3,87.8 81.5,90.5 81.2,92.5C80.9,94.5 80.1,96.4 78.5,97.5C76.9,98.6 73.8,99.0 71.5,99.0C69.2,99.0 66.2,98.8 64.5,97.5C62.8,96.2 61.9,93.8 61.5,91.5C61.1,89.2 61.8,86.2 62.3,83.5C62.8,80.8 63.5,77.8 64.5,75.5C65.5,73.2 67.2,70.0 68.5,69.5Z" fill="#BA7ED0" stroke="#BA7ED0" stroke-width="10" stroke-linejoin="round"/>
<ellipse cx="53" cy="92" rx="4.2" ry="6.0" fill="#B878CC"/>
<path d="M3 90h0M118 4h0M8 23h0M60 42h0M120 42h0M93 78h0M117 56h0M4 45h0M86 2h0M97 38h0M65 29h0M119 79h0M11 97h0M39 78h0M125 74h0M85 82h0M84 81h0M18 81h0M38 58h0M63 23h0M79 71h0M62 54h0M60 65h0M130 12h0M119 46h0M98 102h0M109 59h0M125 38h0M113 88h0M66 82h0M32 40h0M96 21h0M55 100h0M89 49h0M46 83h0M113 62h0M71 90h0M65 96h0M83 56h0M6 49h0M68 98h0M44 50h0M86 7h0M112 91h0M130 101h0M124 8h0M0 61h0M32 97h0M42 35h0M59 55h0M52 12h0M16 22h0M53 22h0M36 88h0M28 15h0M60 30h0M129 55h0M64 92h0M89 8h0M15 37h0M70 26h0M108 50h0M60 83h0M109 87h0M95 80h0M113 68h0M15 104h0M56 70h0M15 100h0M13 40h0M43 15h0M37 67h0M89 84h0M110 43h0M130 80h0M129 9h0M130 60h0M70 9h0M89 19h0M20 68h0M80 36h0M61 22h0M78 36h0M65 34h0M32 14h0M115 65h0M83 38h0M66 19h0M82 54h0M103 36h0M35 75h0M38 9h0M108 48h0M115 28h0M48 77h0M98 32h0M54 79h0M93 64h0M0 0h0M106 92h0M38 46h0M0 31h0M7 4h0M42 91h0M92 102h0M41 49h0M72 87h0M81 12h0M33 33h0M91 30h0M43 67h0M46 17h0M10 92h0M21 53h0M103 38h0M119 25h0M30 72h0M122 58h0M74 12h0M26 92h0M56 29h0M10 73h0M103 99h0M53 91h0M2 85h0M63 51h0M12 76h0M30 28h0M71 53h0M93 9h0M11 46h0M18 53h0M112 60h0M95 104h0M23 69h0M15 52h0M117 91h0M3 40h0M68 95h0M63 67h0M88 40h0M60 5h0M64 104h0M89 57h0M104 36h0M63 18h0M67 1h0M61 65h0M35 93h0M19 99h0M15 27h0M40 70h0M0 48h0M115 85h0M79 71h0M8 84h0M12 97h0M79 100h0M64 42h0M49 77h0M72 41h0M54 82h0M85 69h0M69 4h0M87 80h0M6 56h0M23 95h0M31 45h0M27 51h0M93 92h0M56 95h0M89 67h0M5 86h0M95 66h0M47 31h0M69 84h0M43 8h0M19 6h0M9 95h0M84 43h0M60 0h0M75 98h0M111 20h0M67 1h0M78 86h0M47 21h0M104 91h0M108 52h0M54 24h0M120 51h0M72 92h0M4 34h0M77 20h0M71 91h0M92 40h0M56 38h0M20 59h0M13 102h0M94 72h0M97 56h0M129 81h0M26 3h0M83 36h0M30 17h0M24 0h0M28 59h0M8 80h0M130 44h0M39 18h0M122 34h0M57 52h0M13 28h0M95 20h0M2 34h0M17 0h0M124 84h0M71 52h0M115 91h0M21 32h0M31 85h0M113 94h0M115 78h0M99 0h0M96 90h0M77 78h0M61 3h0M46 76h0M35 14h0M20 34h0M117 76h0M33 102h0M5 77h0M23 31h0M40 91h0M13 52h0M54 69h0M13 82h0M58 75h0M1 9h0M36 94h0M17 8h0M88 58h0M98 20h0M122 87h0M18 92h0M120 66h0M90 41h0M67 82h0M66 100h0M15 57h0M64 85h0M7 104h0M57 52h0M113 57h0M101 89h0M36 20h0M60 77h0M122 83h0M31 13h0M46 21h0M40 62h0M78 87h0M65 22h0M126 10h0M40 38h0M69 16h0M125 80h0M14 52h0M103 63h0M44 27h0M3 71h0M114 41h0M8 17h0M73 63h0M106 88h0M65 74h0M32 66h0M32 50h0M12 55h0M67 77h0M120 2h0M88 71h0M10 13h0M80 43h0M47 23h0M15 73h0M77 32h0M21 39h0M119 102h0M125 47h0M78 70h0M9 56h0M52 76h0M36 53h0M116 45h0M63 8h0M18 104h0M108 82h0M53 8h0M1 62h0M106 89h0M48 7h0M36 15h0M63 69h0M65 102h0M23 93h0M67 78h0M95 92h0M117 2h0M55 54h0M101 51h0M88 43h0M128 35h0M109 83h0M50 85h0M60 7h0M15 17h0M86 3h0M75 96h0M125 46h0M11 7h0M61 33h0M108 29h0M128 66h0M99 1h0M31 48h0M59 81h0M27 51h0M121 8h0M86 16h0M80 25h0M75 46h0M94 17h0M117 41h0M59 56h0M117 78h0M93 53h0M9 63h0M10 103h0M6 5h0M84 23h0M33 46h0M0 71h0M80 83h0M111 47h0M2 42h0M14 10h0M49 103h0M125 11h0M46 38h0M80 56h0M22 89h0M79 77h0M11 20h0M119 68h0M41 49h0M66 81h0M107 2h0M89 59h0M34 8h0M0 20h0M89 63h0M47 24h0M1 85h0M72 15h0M13 2h0M2 61h0M38 7h0M125 76h0M48 52h0M4 13h0M11 83h0M0 36h0M100 62h0M21 4h0M23 79h0M93 32h0M68 32h0M56 62h0M112 1h0M113 50h0M62 100h0M17 94h0M8 51h0M41 43h0M36 52h0M24 82h0M129 13h0M90 92h0M50 87h0M71 85h0M61 4h0M127 97h0M17 6h0M15 17h0M127 96h0M83 47h0M13 95h0M1 46h0M88 79h0M32 61h0M63 90h0M3 41h0M39 4h0M78 32h0M113 48h0M4 35h0M38 94h0M43 56h0M108 6h0M39 86h0M95 74h0M22 15h0M88 84h0M1 21h0M127 44h0M38 90h0M33 23h0M60 25h0M56 68h0M33 19h0M93 71h0M30 31h0M67 8h0M39 62h0M91 16h0M17 36h0M116 69h0M73 41h0M128 97h0M40 36h0M98 2h0M44 83h0M49 31h0M81 99h0M99 14h0M60 19h0M52 48h0M102 15h0M21 42h0M72 53h0M27 5h0M76 93h0M9 55h0M112 32h0M6 92h0M4 10h0M39 43h0M93 46h0M18 5h0M39 24h0M15 69h0M62 73h0M85 85h0M108 33h0M71 16h0M42 74h0M46 8h0M46 56h0M58 100h0M106 46h0M111 27h0M68 83h0M24 51h0M121 96h0M30 34h0M41 71h0M18 5h0M121 84h0M31 99h0M105 3h0M37 67h0M47 69h0M88 7h0M118 63h0M71 47h0M36 16h0M125 76h0M108 101h0M34 38h0M53 55h0M39 1h0M127 26h0M14 67h0M6 94h0M106 65h0M95 90h0M83 64h0M48 12h0M14 36h0M3 20h0M16 94h0M5 43h0M90 52h0M32 8h0M119 4h0M54 90h0M129 64h0M101 48h0M89 68h0M127 78h0M93 18h0M117 45h0M86 1h0M61 98h0M115 46h0M66 39h0M124 95h0M103 58h0M124 86h0M66 19h0M110 62h0M30 8h0M64 9h0M113 15h0M12 32h0M66 29h0M34 34h0M66 0h0M57 93h0M67 38h0M106 62h0M93 70h0M43 38h0M126 9h0M83 31h0M50 22h0M25 1h0M4 62h0M64 54h0M30 46h0M130 50h0M39 29h0M105 100h0M54 47h0M56 93h0M102 74h0M105 41h0M84 1h0M79 9h0M6 65h0M128 57h0M98 104h0M121 90h0M26 89h0M20 66h0M37 83h0M49 89h0M43 86h0M26 52h0M40 37h0M119 101h0M27 64h0M116 39h0M84 73h0M118 57h0M19 30h0M113 24h0M25 57h0M113 82h0M116 20h0M59 12h0M35 96h0M70 85h0M101 54h0M29 21h0M79 59h0M114 72h0M97 11h0M46 27h0M37 70h0M35 61h0M113 43h0M123 88h0M50 2h0M5 69h0M103 15h0M71 78h0M28 99h0M62 69h0M89 36h0M9 33h0M11 88h0M40 63h0M36 87h0M66 77h0M83 43h0M95 69h0M43 67h0M65 21h0M71 88h0M24 8h0M71 0h0M117 18h0M100 96h0M13 6h0M89 35h0M73 38h0M101 3h0M93 56h0M116 52h0M38 28h0M44 95h0M88 74h0M73 37h0M65 6h0M18 1h0M106 27h0M89 89h0M96 79h0M50 34h0M125 58h0M54 4h0M61 6h0M14 97h0M108 25h0M91 31h0M83 6h0M21 74h0M11 38h0M6 80h0M89 85h0M125 16h0M94 99h0M68 62h0M127 69h0M86 37h0M37 79h0M83 67h0M72 17h0M113 65h0M4 53h0M31 85h0M67 42h0M18 37h0M77 96h0M77 33h0M30 71h0M115 30h0M62 76h0M49 0h0M101 91h0M49 95h0M52 36h0M11 81h0M62 89h0M121 68h0M112 45h0M21 42h0M45 28h0M76 24h0M112 90h0M89 100h0M115 76h0M4 61h0M78 83h0M85 12h0M52 0h0M21 32h0M31 53h0M94 44h0M62 35h0M33 81h0M125 103h0M47 77h0M1 93h0M110 40h0M48 88h0M55 85h0M93 80h0M53 31h0M124 9h0M69 13h0M35 5h0M44 16h0M55 72h0M41 57h0M22 53h0M111 93h0M69 88h0M75 83h0M72 93h0M119 35h0M72 91h0M104 72h0M38 50h0M54 85h0M67 75h0M91 89h0M72 32h0M17 36h0M129 80h0M54 39h0M120 44h0M32 83h0M37 23h0M113 28h0M66 36h0M44 70h0M56 60h0M98 67h0M127 41h0M59 53h0M12 45h0M95 21h0M84 45h0M110 77h0M5 9h0M50 97h0M121 90h0M13 82h0M127 13h0M61 24h0M35 21h0M122 84h0M77 91h0M25 84h0M54 1h0M11 21h0M110 58h0M15 53h0M50 38h0M96 2h0M120 37h0M128 78h0M115 26h0M48 54h0M89 34h0M4 78h0M27 22h0M46 12h0M99 24h0M23 72h0M28 38h0M27 48h0M90 79h0M62 95h0M67 87h0M13 76h0M10 23h0M130 56h0M59 23h0M17 72h0M114 17h0M45 91h0M21 6h0M96 53h0M96 30h0M64 48h0M58 15h0M55 15h0M74 60h0M75 49h0M59 66h0M75 1h0M19 45h0M68 40h0M7 12h0M111 93h0M119 24h0M42 64h0M93 81h0M112 73h0M64 14h0M122 13h0M84 95h0M9 59h0M52 51h0M42 99h0M73 19h0M123 1h0M120 40h0M121 91h0M108 22h0M33 32h0M93 65h0M123 61h0M33 2h0M6 45h0M87 81h0M1 32h0M3 32h0M16 4h0M36 73h0M77 57h0M104 30h0M101 8h0M44 16h0M61 100h0M62 63h0M128 87h0M16 96h0M111 54h0M122 72h0M10 9h0M8 9h0M6 14h0M0 77h0M113 87h0M11 53h0M31 55h0M26 14h0M0 53h0M122 50h0M112 61h0M13 23h0M126 70h0M55 6h0M47 21h0M66 17h0M35 28h0M40 64h0M58 24h0M0 70h0M18 62h0M13 14h0M42 75h0M118 67h0M106 90h0M26 62h0M91 41h0M41 10h0M38 100h0M87 17h0M108 78h0M101 5h0M104 50h0M102 79h0M80 104h0M29 87h0M31 58h0M112 8h0M54 10h0M94 58h0M64 66h0M32 92h0M47 73h0M44 50h0M122 79h0M11 64h0M12 91h0M101 69h0M109 103h0M99 98h0M110 83h0M86 45h0M91 14h0M91 66h0M89 3h0M84 25h0M99 73h0M10 55h0M51 80h0M75 14h0M128 15h0M35 22h0M90 31h0M36 59h0M15 14h0" stroke="#6a3aa0" stroke-width="1" stroke-linecap="square" opacity="0.3"/>
<path d="M68.5,69.5C69.8,69.0 71.2,71.0 72.5,72.5C73.8,74.0 75.2,76.3 76.5,78.5C77.8,80.7 79.7,83.2 80.5,85.5C81.3,87.8 81.5,90.5 81.2,92.5C80.9,94.5 80.1,96.4 78.5,97.5C76.9,98.6 73.8,99.0 71.5,99.0C69.2,99.0 66.2,98.8 64.5,97.5C62.8,96.2 61.9,93.8 61.5,91.5C61.1,89.2 61.8,86.2 62.3,83.5C62.8,80.8 63.5,77.8 64.5,75.5C65.5,73.2 67.2,70.0 68.5,69.5Z" fill="#FCF8FC"/>
<ellipse cx="53" cy="92.5" rx="2.6" ry="4.0" fill="#FCF8FC"/>
</g></g>
<line x1="390" y1="427.8" x2="404" y2="427.8" stroke="#111" stroke-width="1.6"/>
<text x="397" y="433.4" font-size="3.6" text-anchor="middle" fill="#333">100 &#956;m</text>
<rect x="278.5" y="333.5" width="130" height="104" fill="none" stroke="#a8a8a8" stroke-width="1"/>
<g clip-path="url(#c3)"><g transform="translate(414,333)" filter="url(#bl)">
<rect x="-2" y="-2" width="135" height="109" fill="#FBF7FB"/>
<path d="M133.3,0.2l-0.9-1M134.1,46.9l-2.8-5.1l-0.2-0.1M111.5,44.1l3.1,2.8l3-1.8M113.8,49.2l-3.3,0.7l-0.5,0.6M-31.2,-2.4l30.1-1.5M106.3,42l3.6-1.7M108.7,45.7l-0.9-0.3M128.5,52.9l2-3.7l-2.5-2.7l-2.6,0.4l-0.2,3.2M125.4,46.9l-1.2-0.9l-0.5-4.7M134.6,51.1l-1.4-2.5M132.5,54.8l-1.5,0.5l-2.4-1.9M125.7,30.8l-5.4,1l-0.4,0.6l-4.6,1.1l-0.6,2.2l-4.9,1.5l-1.5-1l0.4-3.4l5.1-1.3M120,26.7l5.4-0.3M24.2,105.1l-2.8-0.2M19.3,107.8l4.4,2.8l2.2-3.3l2.9-0.1l0.6-4.2l3.2-0.2l1.5,2.7l4.4-1.4M140.6,58.3l-8.3,2.5l-1.8-1.5M101.2,52.3l-3-0.9l-0.2-3.2M127.6,-3.5l1.3,2.5M110.6,17.2l-4.3-2.2M107.9,10.8l-1.5,0.3l-1.1-0.7M129.1,12.2l4.2-1.5l0.6-1.3l-0.2-0.4M88.6,42.7l2,2.6l3.5-0.5l0.8-1.4M84.6,44.3l0.8,3.8M96.6,29.4l-3.9-0.8M104.3,41l-0.1-0.8l-2.7-2.7M-0.5,35.4l-2.3-1.5l-9.4,5.4M-3.9,41l3.1-1.4l0.8-1.2M-0.8,39.6l2.7,2.9l3.1-0.5M24.5,7l-0.8,2.7M28,7l1.4,4.2M22.9,16l1.5-0.2l3.2,4.3l-0.5,2.2M25.4,-3l3.9,2l-0.9,3.3l1.3,1.9l2.8,0.6M1.4,4.1l0.1-0.4M6.2,112.7l-3.5-4.7M11.1,71.4l0.9,0.9M123.1,51.3l-3.1-1.8M122.3,39.8l0.7-2.1l4.5-2.6M122.2,39.8l-4.5,4l-3.2-3l0.9-3.5M122.3,20.1l2.6,1.2l3.5-1.5l3,1.9M119.3,25.3l0.1,0.8M121.2,18.1l-0.9-0.3l-3-4.8l2.9-2.5l-0.5-5.1M87,85.4l-3.4-0.1l-1.7,2.9M90.2,80.6l-4.9-3.6M75.8,88l0.3-5M92.1,50.4l-2.9,2.7l1.9,3.5l4.3-1.2l0.2-0.3M41.5,108.7l-2.1-1.2M62.1,110.8l-4.8-3.4M22.2,98.5l3.7-3.7M28.2,101.2l1.4-2.9l4.4,0.8M81.7,109.1l3.1-4M110.2,54.8l1.8,1.4M101.1,73.3l1.3,0.7M99.1,64.1l4.2-0.5M105.7,73.2l3.1,2.2l1.8-0.8l4.3,2.2M90.3,80.5l3.6,1.7l-0.4,3.9M97.4,79.8l-0.3-2.3l3.2-4l-4.1-1.8M68,35.6l-1.8,5.3l-5.1-0.6M71.1,41.4l-3.8,1.6M101.3,52.2l0.7-5.2M51.6,-3.7l2.3,3.9M47.8,0.1l0.6,0.8l5.5-0.6M48.4,0.9l-0.6,2.9l-3.1,0.5M37.6,-24.9l4.7,23M42,-0.9l0,0l0,1M97,10.6l-3.8-2.2l-2,0.7l-0.1,1.9M95.2,5.7l-1.5-3.8M100.5,5l-3.2-3.8M96.2,-4.3l2.9,2.5M92.1,-0.6l0.8,2.1M123.4,-1.5l2-2.2M126.6,2.6l-0.2-0.3M75.8,17.1l5.8-1.8l0,0M75.3,18l0.8,1.5l5,2.2l0.4,0.7M80.9,13l-1.6-1.1M89.8,7.9l-4.9,1l-0.3-0.1l-1-1.6l1.5-4.2M83.6,7.2l-2.8-0.5M73.7,11.9l1-4.5l-0.7-1.1l0.3-1.9l-4.2-3.7M104.2,16.5l0,4M96.8,22.6l1.7-2.4M109.9,19l-5.5,1.7M113.4,28.5l-0.2-0.3M-13.7,13.5l10.7,2.8M13,24.8l2.9,1.6l-0.5,2.5l2.3,4l3.3-0.4M-0.2,29.7l1.5-3.1M-0.2,29.7l3,3.5M-0.2,29.7l-2.5,1.2M48,9.6l-4.6-2.6l-0.5,0.2M45.2,12.8l-3.6-1.8M25.1,2.6l-2.5-2.9M16.5,-5.1l1.9,2.4l-1.4,2.4l2,3.5M14.2,5.4l4.6-1.1M7.3,8.8l-4.9-2M7.8,2.9l-3-1.2M6.4,104.7l-3.6,1.1l-1.4-0.9l0.7-4.6M1.4,104.9l-2.6-0.1M8.3,101.3l-0.2-0.4l0.8-5.1M5.3,93.8l-2.1,0.6l-0.1,0.1M0.4,90.8l2.8-3.7l-4.5-2.5l0.9-3.4M-3,91.2l0.5-0.5M70.3,100.4l3,0.7l0.3,4.8M67.7,102.6l0.3,2.3M71.7,106.8l-2.3,4.7l-4-4.2l-1,0l-2-2.6l0.8-3M73.2,94.5l-4.4,2l-1.4-3.2l0.7-2l-0.5-1M67.4,93.3l-3.4,0.6M-2,53.7l0.2,0.1M-9.3,71.2l7.6-1.3l1.6,4.9l-3.1,1.3M-0.3,68.6l0.5-2.3M6.6,67.2l-1.4,4.7l0.7,0.4M5.9,35.6l3.6,3.2l-0.4,1.6l-4,1.4M2.3,62.1l-0.5-2.2l2.7-2.3l-2.9-5M10.5,43l-2.6,4M86.7,99l-4.1-0.9M85.4,92.7l1.8,0.1l1.7-5.4M89.8,95l3.5-3.5M87.6,101.6l-2.9,2.9M48.6,56.4l-2.2,4.2l1.6,2.8l5.2-1.4M43,59.9l-1.6-2.8l-1.4-0.5l-1.7-2.6l-4.2,0.4l-0.9-0.5l1-4.5l2.4-1.1M48,48.5l-5.7-1.7l-0.3-2.8M49.3,43.2l4.9-0.1M46,36.7l3.5,0.1l0.8-4l3.1-1.6M73.9,88.6l-3.6-2.6M74.4,81l-3.9,1.7M60.2,43.4l3.6,2.2M64.2,49.5l-1.5,1.6l1.2,3.2l-1.4,3.2l-1.1,0.5M68.6,97.1l-4,1.1M57.9,93.8l-3,2.9l-1.8,0.2M50.3,94.7l0.3-2.2l4-3l-1.4-2.9M50.6,92.5l-3.1-3.9l2.8-2.6l-0.9-2.6l3.1-3.1M133.5,81.3l-2.6-1.5l0.2-2.8l1.4-0.9M133.2,85.7l-5.7-1.8l-2.2,2.6M96.9,105.5l-2.2,24.6l-2.6-23.4M100.2,105l0,0M111.9,65.6l5.8,1.7l0,0M105.3,65.8l4.8-2.7M86,58.5l3.9,0.8l1,2.5l1.7,0.6M87,65.9l-4-3.2M101.4,58.6l1.8,2.3l3.5-1.8l-0.5-3.5l-0.7-0.5l-0.7-2.1M101.4,58.6l0.2-1l-1.6-2.1M101.4,58.6l-3.8,1.7M100.5,104.1l-1-3.9l2.2-3.6M96.5,81.3l2.4,3.6M95,67.6l-4.2,1.8l-3.5-1.7l-0.9,7.1l-0.9,0.9M82.7,22.9l4.1-2.2l1.7,0.9l4-1.4l-0.2-3.2M86.1,37.9l-2.3,0.5l-2.3-3.5M76.6,26l3.1,3.6M79.7,39.7l3.7-0.6M102.2,26.4l0.3,2.2l-4.6,2.5l-0.3,2.1l-1.2,1.1M106.4,30.2l-1.8,0.1M60.1,3.7l0-0.1M57.9,-17.6l4.6,14.7M123.5,11.7l2.8-2.1l0.2-1.3l-0.2-0.3M120.6,4.4l-0.6,0.8M114.8,12.7l-1.2-4.4l-2.8-0.7M102.4,4.3l0.7-3.7M113.1,-0l-3.3,1.8M78.8,0.5l-0.2,0.5M86.8,15.7l0.1,0.2M1,21.1l-0.7,4.3l-5.9-0.7M6.6,24l-0.1-1.4M17.1,25.9l1.2-4.5M14.4,17l-0.3,3l-1.5,1.5M23,29.1l3.5,1M28.1,29.5l2.1-4.8M48.5,9.4l3.4,2.7l3-0.6M53,5.1l2.8,2.8M74.3,24.3l-3.6-0.3M69.6,30.3l-1.3-2.2M-3.2,107.8l0.7-2.1M4.9,72l-2.7,3.6M2.6,77.2l3.9,1.4l0.4,4l2.6,0.8M7,63.5l1.4-4l4.5,1M87.1,67.4l-4.7,2.2l-3.8-3.4M81.9,51.3l3.8,2.6l-0.9,2.9M79.9,60.2l1.8-3.5M81.8,50.5l-3.3-2.4M54.4,56.3l3.6,0.7M45.3,53.4l-0.1-0.3M69,55.2l1-0.7l4.5,5.3l-0.4,0.6l-3.7,0.8M40.2,63.6l2.3,3.3M38.4,63.5l-2.3,2.5M21.8,76l3.9-0.8M25.5,71.7l-3.2-0.9M26.9,76.1l4.2-1.3M31.4,82.3l-0.9-1.8M15.6,43.2l-2.2-6.5l0.3-0.5l1.9-0.7M17.8,42.8l1.7-4.2M22,34.6l-1.7,3.7l3.3,1.6M36.4,36.6l-3.2,2.8l0.6,3.2M36.4,36.6l2.8,1.9M36.4,36.6l-0.2-1M30.3,47.4l1.5-3.7M30.4,93.6l-0.1-5M24.5,91.9l1.3-2.8l-2.4-4l-1,0.1M36.6,84.9l-5.4,0.9M49.1,101.5l-2-1.3l-2.8,3.8M57.1,102.2l-3.6,0.1l-0.9,3.4l1.5,1.6M47.5,88.6l-0.6,0M34.1,99.8l4.7,3.6M111.1,102.8l1.6,4l-5.7,1.7M113.5,100.2l3.8,3.9l-0.6,2.2M112,70.7l2.7,0.2M129.6,72l-1.6-5l-0.8-0.2M125.3,79.1l2.3,2.4M123,72l4.4,2.7M122.6,55.2l1.5,1.1M113.5,56.1l3.3,2.1M122.8,71.5l-1.1-0.3l-4.9,3.5M80.3,-2.2l-6.9-23.3M12.6,14.1l0,0.2M0.8,13.7l3,1.1M2,20.6l2-5.4M39.3,32.7l-0.5-2.7l-0.1-0.1M33.5,31.3l-0.6,0.7M37.5,25.9l-4-0.6M27.1,34.9l3.2,0.9M13.4,60.6l3.3,2.4M15.3,67.1l-4.1-0.8M20.4,64l-1.5-1.3l0.6-3.1M15.2,43.6l-0.7,4l-1.8,1.7l4.1,5M18.6,49.4l2.1-2.3l-2.3-3.9l5-0.8l1.6,2l0.1,0.7l4.3,2.8M28.3,41.9l-0.2-1.8M47.5,31.3l-0.3-4.6M54.7,37.6l1.2-4.2M74.8,78.7l2.9-2.1l4.9,2.5M77.9,73.6l-1.9-2.1M64.7,85.2l-1.6,4.2M62.9,89.5l-3.7-1.8l0.1-4l-1.2-1.4l0.8-2.4M59.2,87.7l-2.9,2.4M62.5,57.5l2.8,2.2l2.9-1M24.4,62.9l1.2,3.4M22.8,57.7l0.7,0.2l2.8-2.2l2.9,0.5M3.6,87l2.6,2.2l4.3-0.9M38.7,97.1l1.6-1.6M40,102.5l0.7-0.1l3-3.9l2.6-0.2M124.2,104l-4.7-1.5M116.3,88.2l-0.3-0.5M121.2,79.2l-1.2,3.1M115.8,93.4l-0.7-1.6M110.8,91.5l-2,2.9M41.8,19.1l-3,1.9l-3.4-1.2M45.6,15.2l-3.7,2.5l-3.2-3.4M59.1,13.2l1.9,3.1l3.8-1.6l1.3,0.3l2.8-2.9M12.7,49.3l-2.6,4.6M12.9,55.5l3.8-1.2M63,34.9l-1.1,0.7M65.7,64.3l-0.6-0.8M70.3,67.1l-1.7-2.5M34.6,59.8l0,0l1.4,0.3M68.6,76.8l-2.7-3.5M48,63.4l-0.7,2.8M21.2,78.1l0,0.2l-2.2,3.6l-1.8,0.2l-1.6,1.5M12.3,94l-1.3-5.4M44,108l1.1-2.4M43.7,92.5l-2.6,0M131.2,105.3l0.5-0.9l7.7-2.7M133.9,98.2l-2.7,2M125.7,101.2l-2.5-3.1l-3.6-0.3M129.1,90.4l1.5,4.3l2.9,0.7M128.3,96.4l-2.9-1.5M97.3,95l3.5,0.6M104.6,84.8l2.6,3.8M104.6,84.8l-2.8,5.1l0.1,0.3M104.6,84.8l0-1M101.8,89.9l-3.4-1.1M64.4,21l-3.8-2.6M66.3,71.3l-2.3-4.1M52,78.8l4.1-3.2l0-0.2l-3.7-3.6M55.9,61.8l-1.6,0.7M18.9,91.4l-0.4-2.7M53.4,28.4l-0.3-0.4M52.9,18.4l2.5-0.7l0.7-4.9M55.2,23.3l2.5-0.6M51.1,21.3l0.6-0.3M58.3,23.5l5.1,0.7M64.4,27.5l-1.7,1.4" fill="none" stroke="#CF86CE" stroke-width="1.6" stroke-linecap="round" stroke-linejoin="round"/>
<path d="M134.6,51.1l-2.1,3.7l8.1,3.5M158.7,42.5l-25.7-1.9l-1.7,1.2M111.5,44.1l-2.8,1.6M114.6,46.9l-0.8,2.3l1.6,2M125.2,50.1l3.3,2.8l0.1,0.5M133.2,48.6l-2.7,0.6M130.9,41.9l0.2-0.2l-3.6-6.6M72.3,149.1l3.7-41.9M19.3,107.8l2.1-2.9l-2.3-4.2l-3,0.1M95.7,53.5l2.5-2.1M95.6,55.1l4.4,0.4l1.2-3.2M95.4,47.9l2.6,0.3M113,14.2l-5.1-3.4l2.9-3.2M134.3,16.1l-5.8-0.5M132.1,23.1l24.8-1.5M88.6,42.7l-4,1.6M90.6,45.3l-0.5,1.8l2,3.3l1.4,0M86.8,27.3l1.1,2.8l-1.6,2.3l1,2l3.6,0.6l0.6,4.2l1.7,0.3l3.2-2.3M92.7,28.6l-0.3-2.7M96.8,22.6l-1.2,0.1M100.8,43.9l0.3,2.2M96.4,34.3l-3.9-1M-3.3,6.4l4.7-2.3l1,2.7M-3.8,9.2l3.9,2.2l0.7,2.3M-3.3,30.5l0.6,0.4M28.8,12.5l0.6-1.3M24.4,15.8l2.9-3.1M22.9,16l-2.4-1.1l-1.3-3.2l0.8-0.9l-0.6-5.8l4.3,0.4l1.4-2.8M28.6,-10.4l2.1,8.5M19.1,-27.1l3.3,24.6l0.3,0.2M22.4,-2.5l-4-0.2M-1.1,111.6l3.8-3.6l0.1-2.2M5.9,72.3l5.2-0.9l-0.4-4.8l-2.7-0.5l-1.4,1.1M9.9,76.7l2.1-4.4l1.3,0.2M120,49.5l-1.9,2l1.6,3.7M117.6,45.1l0.1-1.3M125.7,30.8l2.6,2.6l1.7-0.6M120,26.7l-0.6-0.6l-6,2.4M113.8,31.5l1.5,2M109.9,40.3l-0.1-3.1M131.2,25.4l-0.4,0.3M124,15.2l-2.8,2.9M125.5,26.2l-0.6-4.9M115.7,21.9l0.6-2l-4-3.8l-1.7,1.1l-0.7,1.8M-1.2,46.4l-3.9,2.9l3.1,4.4l-5.7,4.1M83.6,85.3l-1.5-2.6M82.6,79.1l2.7-2.1l0.2-1.3M78.8,89.7l-3-1.7M86.6,48.6l1.4,4.2l1.2,0.3M88,52.8l-2.3,1.1M24.2,105.1l1.3-3.7l2.7-0.2l1.2,1.8M22.2,98.5l-0.2,0M64.4,107.3l-2.3,3.5M29.6,98.3l-1.2-2.9l-2.5-0.6M85.7,123l2-15.4l2.9-1.5l-1.2-3.9l2.7-1.3l0.4-3.5l-2.7-2.4M142.9,65.4l-10.4-0.9l-1.4,1.8M97.4,66.5l1.7-2.4M97.4,66.5l-2,0.5l-0.4,0.6l1.2,4.1M97.4,66.5l3.7,2.8l0,4M92.6,62.4l4.2-2.4l-1.4-4.6M105.3,65.8l0,0M104,80.6l-0.2-0.3l-6.4-0.5M90.3,80.5l2.6-5.2M69.6,30.3l3.8,0.4l2.8-4.7l0.4,0l4.9-3.6M75.4,32.8l-2.3,4.7l-1.2,0.2M67.9,35.5l0.1,0.1M104.3,41l2,1M104.2,40.2l2.3-3.6M104.5,47.7l-2.5-0.7M57.9,-17.6l-1.1,15.4l-2.9,2.4M48.6,-3.1l-0.8,3.2l-5.8-1M37.6,-24.9l-2.4,22.7l-0.4,0.4M38.9,4.2l3.1-4.1l2.7,4.2M99.3,9l0.1-2.7l1.1-1.3l1.9-0.7M92.9,1.5l0.8,0.4M120.7,-1.5l-1.7-14.7l-4.4,15.1l-1.5,1l0,0.1M126.4,2.3l0.1-0.3l2.4-3M130.3,7l3.4,2M130.3,3.9l3.1-1.9l-0.1-1.8M90,-5.7l-4.4,3.3l-1.1-0.7M75.3,13.1l4-1.2M98.5,20.2l5.7,0.3l0.2,0.2M100.8,14.8l-2.7,1.2l-2-1.3l-1.8,0.2l-3.2-3.9l-4,3.6l-2.2-5.7M100.8,14.8l3.4,1.7l2.1-1.5M100.8,14.8l1.1-3.5M104.8,23.3l-2.6,3.1M113.4,23l-2.5-1.1l-2.8,2.8M113.2,28.2l-4.1-0.8l-2.7,2.8M89.5,24.9l-1-3.3M8.9,31.2l0.6-5M6.6,24l-3.5,2.7M34,8.2l0.6,0.3l2.6-0.5M47.8,3.8l1.9,2.2l3.3-0.9M54.1,1l-0.2-0.7M41.6,11l-1.3,0.6l-1.6,2.7M19.4,5l-0.6-0.7M14.7,-0.2l-1.4,2.2l0.9,3.4M14.7,-0.2l2.3-0.1M14.7,-0.2l-1.4-3M15,11.3l-1.7-4.7l-4,0l-2,2.2M10.4,0.6l-2.6,2.3M4.8,1.7l-3.3,2l-2.9-3.2l0.6-3.9l5.7,0.9M14.3,103.7l-0.1-0.8M5.3,93.8l3.6,2M3.6,99.5l-0.5-5l-4.2,2.1M-3.1,85.6l1.8-1M70.3,100.4l-2.6,2.2M68,104.9l3.7,1.9l1.9-0.9M75.3,99.5l-2,1.6M72.2,91.3l-4.1,0M75.5,96l-2.3-1.5M68.6,97.1l0.2-0.6M5.2,71.9l-0.3,0.1M0.2,66.3l0.6-0.4l1.5-3.8M5,42l0.1-0.2M0.3,46.6l0.2,0.1l5.6-0.2M9.1,40.4l1.4,2.6M88.9,87.4l2.7,0.4l1.7,3.7l2.6,0.4l1.4,3.1l-1.9,2.1l-2.9,0.3M45.3,53.4l3.2,2.7l0.1,0.3l3.8,2.2l2-2.3M45.2,53.1l2.8-4.6M61.1,40.3l-0.3-0.9l1.1-3.8M56.5,45.3l0.9,0l3.2,5.5M54.2,43.1l0.9-4.7l-0.4-0.8M46,36.7l-2.5,4.8M68.3,87.1l-0.7,3.2l-4.5-0.9M69.9,47.4l-2.6-4.1l-3.5,2.3l0.4,3.9M23,29.1l-2,3.4l1,2.1M63.2,101.7l0.6-0.4l0.8-3.1l-0.9-1.2l0.3-3.1M59.4,100.2l-1.4,0.4M50.3,94.7l2.8,2.2M124,105.9l-3.1,2.1l-4.2-1.7l-1.8,1.6l1,73.6M131.9,89.1l1.3-3.4l0.1,0l22.1,2.7M131.9,89.1l4,3.6l-2.4,2.7l0.4,2.8l5.5,3.5M131.9,89.1l-2.8,1.3M133.3,85.7l0.2-4.4l4.9-2.8M130.9,79.8l-3.3,1.7M100.2,105l-3.3,0.5M89.4,102.2l-1.8-0.6M145.4,77.6l-11.6-5.6M110.7,63.4l5.4-2.1l1.6,6M107.2,69.6l4.1,0.4l0.6-4.4M105.5,55.1l-3.9,2.5M110.2,54.8l-4,0.8M95.9,91.9l2.5-3.1M98.9,84.9l-0.9,2.8M86.4,74.8l5-1.1M87.1,67.4l-0.1-1.5M76.2,26l-1.9-1.7l1.8-4.8M82.9,32.3l-1.5-2.5M75.1,38.6l3.1-0.7l1-2.5M78.2,37.9l1.5,1.8l-1.3,4.9M60.1,3.6l-0.2-4.7M120,5.2l6.3,2.8l0.3-5.4M129.1,12.2l-2.8-2.6M119.7,5.4l-3.3-0.3l-2.8,3.2M104.8,5.8l4-1.5M100.1,-1.9l3,2.5M94.3,14.9l-2,2.1M86.8,20.7l0.1-4.8M1,21.1l-3.3-1.7l-3.9,4.9M-2.3,19.4l-0.7-3.1M22.2,21.2l-3.4-0.2l-0.5,0.4M22.4,27.5l1.9-4.3l2.8-0.9M13,24.8l-0.4-3.3M51.9,12.1l-1.5,3.1M54.9,11.5l0.9-3.6M68.3,28.1l2.4-4.1M43.5,41.5l-3.5-3.1M10,-2.7l-4.8,0.5M-2.5,105.7l1.3-0.9M-14.7,99.8l12,0.5M2.1,100.3l-3.3-1.6M2.2,75.6l0.4,1.6M8.8,76.7l-2.3,1.9M8.7,54.3l-1.7,3.2l1.4,2M1.9,52.2l-0.3,0.4l-3.4,1.2M5.9,50.9l1-3.8l1-0.1l4.8,2.3M10.7,66.6l0.5-0.3l1.8-5.7l0.4,0l3.5-2.4M81.9,51.3l-1.6,3.2l-3.7,0.2l-0.8,4.3M81.8,50.5l3.6-2.4M78.6,66.2l-2.3,0.6M75.6,66.3l-1.5-5.9M58.2,52.5l-5.3-1.3l-0.2-0.5M69,55.2l-5.1-0.9M43,59.9l-2.8,3.7M22.3,70.8l-2,2.2l-1.1-0.1M20.3,73l1.5,3M20.1,67.1l1.8,1.4M36,71.5l2.4,3.7l-1.8,2.7M31.1,74.8l1.1,1.9M25.7,75.2l1.2,0.9M25.5,71.7l2-1.4l-0.4-3.2M42.4,73.8l-1.5-4.8l1.6-2.1l3.8,0.1M41.9,74.7l1.2,2.2l4.4,1.1M46.4,71.9l2.9,2M15.6,43.2l2.2-0.4M19.5,38.6l-3.9-3.1l2.1-2.6M39.2,38.5l-3.4,4.9M42,44l-5.9-0.4M34.2,49.4l-3.9-2l-0.9,0.5M30.8,84.9l0.4,0.9l-0.2,2.2l-0.7,0.6M52.1,100.6l1.4,1.7M34,99.1l1.2-1.9l-1-3M35.2,97.2l3.5-0.1M53.2,86.6l-2.9-0.6M29.7,107.9l3.3-0.2l2.6,3.2M107.3,102.5l3.8,0.3M107.3,102.5l-0.7,5l0.4,1M107.3,102.5l-0.9-1.2l3.7-4.8l-1.3-2.1l-1.8-0.4M106.6,107.5l-6.4-2.5M100.5,104.1l5.2-3.1l-3-4.2M110.6,74.6l1.4-3.9M108.5,78.2l3.9,3.2M114.7,70.9l3-3.6l0.8,0.1l3.2,3.8M133.1,72.5l-3.5-0.5l-2.2,2.7M131.1,77l-3.7-2M125.3,79.1l-3.9,0M117.1,59.6l4.8,2.1M124.1,56.3l0.2,1.6l4.1,2.2l-2.2,5.1l-3.6-1.7M123.1,51.3l-0.5,3.9M122.8,71.5l4.4-4.7M121.2,79.2l-4.6-3.4M80.3,-2.2l-1.5,2.7l-4.6-2.8l-1.6-7M78.8,0.5l0,0M66.6,2.9l0.8,4.9l0,0l6.6-1.5M67.4,7.8l-4.8,1.4l-2.9-3M62.6,9.2l-0.2,0.6M6.5,22.6l0.8-1.3l-1.9-5.2l4.7,0.2l2.5-2l1.8,2.7M10.1,16.3l-0.1,4M5.4,16.1l-1.4-0.9M33.5,25.3l0,6M28.1,29.5l4.8,2.5M25.1,38.7l3,1.4l2.5-2.6M23,47.3l-2.3-0.2M31.8,43.7l-3.5-1.8M44.5,33l-2-4M50.3,32.8l-2.8-1.5M43.7,27.1l-1.5-1.9l-3.3-0.6l-1.4,1.3M38.9,24.6l-0.1-3.6M55.9,33.4l-2.5-2.2M74.8,78.7l-3.3-2.7l-2.9,0.8l-1.9,3.8M72,72.7l-2.6-2.6l-3.1,1.2M64.3,83.9l-5-0.2M25.6,51.5l-1.5-0.6l-4.6,2.3l3.3,4.5M25.6,51.5l0.7,4.2M25.6,51.5l3.1-1.7M3.2,87.1l0.4-0.1l1.8-3.6l1.5-0.8M38.8,103.4l1.2-0.9M46.5,82.2l2.9,1.2M117.3,104.1l2.2-1.6l0.1-4.7l0-0.1M120.8,89.3l-4.5-1.1l-1.2,3.6l-4.3-0.3M120.8,89.3l2.7-2.9l-3.5-4.1M120.8,89.3l0.5,3l-2.3,2.6l-3.2-1.5M123.5,86.4l1.8,0.1M113.2,80.9l5.6,1.8M41.8,19.1l0.1-1.4M67.7,19.6l-1.6-4.6M19.4,53.2l-2.6,1.1M68.2,58.7l2.2,2.5l-1.8,3.4M61.4,58l-0.7,4.7M28.6,61.4l2.7,3l0,0.4M34.1,54.4l0.5,5.4M47.3,66.2l5.7,3.2l2.1-1.4M15.7,77l5.5,1.1M10.5,88.3l0.5,0.3M12.1,78.5l-0.4,3.4l-2.2,1.5M11.7,81.9l3.9,1.7l0.1,3.2M48.9,113.8l0.2-8l-4-0.2M37.6,86.5l-1.8,3.7l0.5,1M40.3,95.5l0.6-2.8M125.4,102.8l5.8,2.5M125,93.4l0.4,1.5l-2.2,3.2M100.8,95.6l0.9,1M30.6,17.7l0.2-3.1l4.8-0.5l0.9,0.5M32.7,24.6l1.6-4.3M61,16.3l-0.4,2.1M61.5,71.5l4.4,0.5M64,67.2l-3.2,0.5M58.9,79.9l-2.8-4.3M52,78.8l0.5,1.5M58.1,57.1l-2.2,4.7M22.4,85.2l-3.9,3.5M49.7,26.1l3.4,1.9M58.3,19.6l-2.9-1.9M55.2,23.3l-3.5-2.3M58.4,27.4l-0.1-3.9l-0.6-0.8M57.1,33.2l2.9-4.4M63,34.9l-0.3-6" fill="none" stroke="#CF86CE" stroke-width="1.0" stroke-linecap="round" stroke-linejoin="round"/>
<path d="M110.5,49.9l-1.8-4.2M106.3,42l1.5,3.4l-3.3,2.3l1.5,2.8l4,0l0.2,4.3M111.5,44.1l0.4-2.2l-2-1.6M128,46.5l2.9-4.6l-7.2-0.6M120.3,31.8l-0.3-5.1M125.7,30.8l-0.3-4.4l0.1-0.2l5.3-0.5l-0.8,7.1l1.2,0.2l4.3-4l-4.3-3.6l0.9-2.3M81.7,109.1l-3.5-2.5l-2.2,0.6l-2.4-1.3M24.2,105.1l1.7,2.2M131,55.3l-0.5,4M95.7,53.5l-2.2-3.1l1.9-2.5l-1.3-3.1M112.3,16.1l0.7-1.9l1.8-1.5M106.3,15l0.1-3.9M135,15.7l-1.7-5M128.5,15.6l0.6-3.4M134.3,16.1l-2.9,5.6M86.8,27.3l2.7-2.4l2.9,1M96.8,22.6l0.9,1.4l-1.1,5.4l1.3,1.7M93.2,39.5l1.7,3.9M98,48.2l3.1-2.1l0.9,0.9M104.3,41l-3.5,2.9l-1.6-1.1l-0.9-4.1l3.2-1.2M96.4,34.3l0,2.9M90.9,35l1.6-1.7l-1.1-3.1M-0.5,35.4l0.5,3l3.9-0.2M2.4,6.8l-2.3,4.6M24.5,7l3.5,0l1.7-2.8M20,10.8l3.7-1.1l3.6,3l1.5-0.2l2,2.1M28.6,-10.4l-3.2,7.4l-2.7,0.7M29.3,-1l1.4-0.9l4.1,0.1M-3.2,107.8l2.1,3.8M123.1,51.3l2.1-1.2M123,37.7l-3.1-5.3M122.2,39.8l-6.8-2.5l-0.7-1.6M127.5,35.1l0.8-1.7M113.4,28.5l0.4,3M131.2,33l2.7,2M119.3,25.3l3-5.2M120.3,17.8l-4,2.1M-3.9,41l2.7,5.4l1.5,0.2M82.1,82.7l-6,0.3l-1.7-2l0.4-2.3M25.5,101.4l-3.3-2.9M18.5,108l0.8-0.2M62.4,104.7l-4.3,1.2l-1-3.7M80.3,101.7l4.4,2.8l0.1,0.6M132.3,60.8l0.2,3.7M113.5,56.1l-1.5,0.1M95.4,67l-2.8-4.6M97.6,60.3l1.5,3.8M105.3,65.8l-4.2,3.5M105.3,65.8l-2-2.2M108.8,75.4l-0.3,2.8l-4.5,2.4l0.4,2.9l0.2,0.3M93.9,82.2l2.6-0.9l0.9-1.5M69.6,30.3l-1.7,5.2l-4.9-0.6M73.4,30.7l2,2.1l1,0l3.3-3.2M66.2,40.9l1.1,2.1M89.2,40.3l-3.1-2.4l1.2-3.5M106.5,36.6l1.8-0.4M96.2,-4.3l-3.7,2M29.4,11.2l4.6-3l-1.5-3.4l2.4-2.6l4,2l0.2,1.2l-1.9,2.6l3.1,3.6M97.3,1.2l1.8-3l1-0.1M120.7,-1.5l-0.2,0.2l0.1,5.7M126.5,2l-3.1-3.5M109.9,-4.9l3.2,4.8M133.7,9l0.8-5.6M75.3,13.1l0.5,4l-0.5,0.9l-3.6,0.1l-0.7-5.3M71.7,18.1l-2.6,1.9l1.6,4M92.1,-0.6l-5.4,0.1l-1.1-1.9M81.6,15.3l-0.7-2.3l3.7-4.2M85.1,3l0.7-0.3l3.7,1.8l3.4-3M91.2,9.1l-1.4-1.2M78.5,8.5l2.3-1.8l-2.2-5.7l-4.3,3.4M98.5,20.2l-0.4-4.2M97,10.6l-0.9,4.1M101.9,11.3l3.4-0.9l-0.5-4.6l-2.4-1.5M113.2,28.2l0.2-5.2l2.3-1.1M109.1,27.4l-1-2.7l-3.3-1.4M109.9,19l1,2.9M95.6,22.7l-3.1-2.5M0.8,13.7l-3.8,2.6M2.8,33.2l2.9,0.1l0.2,2.3M3.1,26.7l3.6,5.3l2.2-0.8l1.6,0.6l3.2,4.4M6.6,24l2.9,2.2M39.1,5.4l3.8,1.8l-1.3,3.8M44.7,4.3l-1.3,2.7M49.7,6l-1.2,3.4l-0.5,0.2M53,5.1l1.1-4.1l6,2.6M28.4,2.3l-3.3,0.3M13.3,6.6l0.9-1.2M22.6,-0.3l-3.6,3.5M9.3,6.6l-1.5-3.7M11.9,108.2l2.4-4.5M8.7,108.2l-2.3-3.5M14.2,102.9l1.9-2.1l-1.9-6.2l-1.9-0.6l-3.4,1.8M3.6,99.5l4.5,1.4M-2.5,90.7l2.9,0.1l2.8,3.6M75.3,99.5l5,2.2l2.3-3.6M65.4,107.3l2.6-2.4M78.6,93.9l-3.1,2.1M78.6,93.9l0.2-4.2M78.6,93.9l3.4,2M73.9,88.6l-1.7,2.7M68.6,97.1l1.7,3.3M-1.8,53.8l1.6,5.4M-0.3,68.6l-1.4,1.3M6.6,67.2l-5.8-1.3M88.9,87.4l-1.9-2l3.2-4.8l0.1-0.1M89.8,95l-0.1,0M46.4,60.6l-3.4-0.7M45.2,53.1l-5.1-3.3l2.2-3M48.5,48.3l4.2,2.4l3.8-5.4l-2.3-2.2M43.5,41.5l0,0l5.7,1.8M61.1,40.3l-0.9,3.1M49.3,43.2l0.7-5.8l-0.5-0.6M50,37.4l4.7,0.2M70.3,86l0.2-3.3l-3.8-2.1l-0.3,0l-4-2.7M62.7,51.1l-2.1-0.3l-2.4,1.7l-0.2,4.5M17.1,25.9l-1.2,0.5M22.4,27.5l0.6,1.6M63.7,97l-3.3-0.2l-1.8-2.8l3.7-1.6l0.6-2.9l0.2-0.1M59.4,100.2l3.8,1.5M67.7,102.6l-3.9-1.3M56.3,90.1l1.6,3.7M125.8,108.3l-1.8-2.4M92.1,106.7l3.5-1.8l-0.8-2.3M111.9,65.6l-1.2-2.2M90.9,61.8l-3.9,4.1M86,58.5l-3,4.2M91.1,56.6l-1.2,2.7M109.7,61.1l-3-2M100.2,105l0.3-0.9M96.7,99.9l2.8,0.3M96.2,71.7l-3.6,2.9M87.1,67.4l0.2,0.3M83.5,43.8l-0.1-4.7M83.5,43.8l1.1,0.5M83.5,43.8l-4.9,1M79.2,35.4l2.3-0.5l1.4-2.6l3.4,0.1M83.7,26l-2.3,3.8M81.5,22.4l1.2,0.5M102.5,28.6l2.1,1.7M97.6,33.2l4.3,1.6M63.4,-2.4l-0.9-0.5l-2.6,1.8l-3.1-1.1M120,5.2l-0.3,0.2M113.1,-0l3.3,5.1M103.1,0.6l2.5-1.3l0.3-2.5M110.8,7.6l-2-3.3M92.3,17l-5.4-1.1M2,20.6l4.5,2M1.3,26.6l-1-1.2M22.2,21.2l0.7-5.2M20.5,14.9l-2,2.3l0.3,3.8M18.5,17.2l-4.1-0.2M18.3,21.4l-4.2-1.4M30.2,24.7l-3.1-2.4M45.2,12.8l0.4,2.4l2,1l2.8-1M60.1,3.7l-0.4,2.5l-3.9,1.7M69.1,20l-1.4-0.4l-3.3,1.4l-1,3.2l1,3.3M44,34.1l2,2.6M44,34.1l-2.1,0.5l-2.6-1.9l-3.1,2.9l-3.3-3M44,34.1l0.5-1.1l3-1.7M10.9,-3.7l-0.9,1l0.4,3.3M6.7,-25.3l-1.8,22.8M4.8,1.7l0.4-3.9M-2.5,105.7l-13.1-5.7M2.2,75.6l-2.3-0.8M2.6,77.2l-1.9,3.4l4.7,2.8M-3.5,79.1l3.1,2.1M4.5,57.6l2.5-0.1M8.7,54.3l-2.8-3.4l-4,1.3l-1.4-5.5M8,66.1l-1-2.6M85.5,75.7l-3.6-3.7l-4,1.6l-0.2,3M81.8,50.5l0.1,0.8M79.9,60.2l-4.1-1.2M48.5,56.1l4.1-3.9M37.3,69.4l3.6-0.4M36,60.1l2.4,3.4M22.3,70.8l-0.4-2.3l3.7-2.2M16.4,70.1l2.8,2.8l-3.4,3.3M16.5,68.4l3.6-1.3l0.3-3.1M36.1,66l-3.9-0.4M32.2,76.7l-1.7,3.8l-3.9-0.9l0.3-3.5M26.6,79.6l-1.5,1.3l-0.4,2.7M37.1,80.7l-0.1,0.1l-5.6,1.5l-0.6,2.6M46.4,71.9l-0.1-4.9M15.2,43.6l0.4-0.4M27.1,34.9l-1.8,1.2l-3.3-1.5M19.5,38.6l0.8-0.3M33.8,42.6l2,0.8l0.3,0.2M39.6,50l-1.3,4M28.7,49.8l2.8,4.2l1.7-0.1M31.5,54l-2.3,2.2l0.8,2.2l4.6,1.4M25.8,89.1l4.5-0.5M46.3,98.3l1.1-2.5M52.1,100.6l-3,0.9l0,4.2l0,0.1M28.8,107.2l0.9,0.7M33,107.7l1.1-2.2M34,99.1l0.1,0.7l-1.5,3M38.8,103.4l-0.3,0.7l0.9,3.4M113.5,99.4l0,0.8l-2.4,2.6M113.5,99.4l-1.2-2l-2.2-0.9M113.5,99.4l6.1-1.7M112.3,97.4l3.5-4M116.6,75.8l-1.7,1l-1.7,4.1l-0.8,0.5M116.8,74.7l-2.1-3.8M111.3,70l0.7,0.7M127.4,74.7l0,0.3l-2.1,4.1M133.8,72l-0.7,0.5l-0.6,3.6l5.9,2.4M116.8,58.2l0.3,1.4M121.9,61.7l2.4-3.8M119.7,55.2l2.9,0M128.6,53.4l-4.5,2.9M126.2,65.2l1,1.6M68.9,-1.6l3.7-7.7M69.6,0.6l0.5,0.1M64.9,2.2l1.7,0.7M68.9,12.1l-1.5-4.3M12.6,21.5l-2.6-1.2l-2.7,1M3.8,14.8l3.5-4.3l0-1.7M15,11.3l-2.4,2.8M54.9,11.5l1.2,1.3l3,0.4l3.3-3.4l2.4,4.9M33.5,31.3l5.2-1.4l-1.2-4M15.3,67.1l1.4-4.1l2.2-0.3M18.4,43.2l-0.6-0.4M14.5,47.6l4.1,1.8l0.8,3.8l0.1,0M16.9,58.2l2.6,1.4l3.3-1.9M23.4,42.4l0.2-2.5M38.8,30l3.7-1l1.2-1.9l3.5-0.4l0.1-0.1l-1.5-5.2M42.2,25.2l1.5-4.2M71.5,76l0.5-3.3l4-1.2l0.3-4.7l-0.7-0.5l-5.3,0.8M68.3,87.1l-3.6-1.9M58.1,57.1l3.3,0.9M23,47.3l1.1,3.6M24.4,62.9l0.6-1.4l3.6-0.1l1.4-3M5.3,93.8l0.9-4.6M14.2,94.6l4.1-2.2l3.7,6.1M18.3,92.4l0.6-1l5.6,0.5M57.1,107.5l-3-0.2l-4.8,7.5M38.7,97.1l1.3,5.4M40.3,95.5l3.4,3M44.3,104l-3.6-1.6M120,82.3l-1.2,0.4M111.9,85.8l-1.8,2.8l0.7,2.9M110.1,88.6l-2.9,0l-1.7,2.6l-3.6-1l-1.1,5.4M12.7,49.3l0,0M10.1,53.9l2.8,1.6M16.7,54.3l0.1,0M55.9,33.4l1.2-0.2l4.8,2.4M47.9,20.1l3.2,1.2l-1.4,4.8M65.3,59.7l-0.2,3.8M68.6,64.6l-2.9-0.3M65.9,73.3l-3.4,3.4M49.3,73.9l3.1-2.1l0.6-2.4M15.7,77l-0.2,0.3l1.7,4.8M21.8,76l-0.6,2.1M10.5,88.3l-1-4.9M36.3,91.2l4.6,1.5l0.2-0.2M36.6,84.9l1,1.6M31,88l4.8,2.2M128.5,99.3l-2.8,1.9l-0.3,1.6l-1.2,1.2M128.5,99.3l2.7,0.9M128.5,99.3l-0.2-2.9l2.3-1.7M127.6,90.1l1.5,0.3M101.7,96.6l1,0.2l4.3-2.8l-1.5-2.8M34.3,20.3l1.1-0.5l1.1-5.2M27.6,20.1l3-2.4M34.6,8.5l1,5.6M66.3,71.3l-0.4,0.7M58.1,82.3l-2.5,0.4M56.1,75.4l2.7-2M49.2,77l2.8,1.8M57.7,22.7l0.6-3.1l2.3-1.2M52.9,18.4l-1.2,2.6M53.1,28l2.1-4.7M53.4,28.4l5-1" fill="none" stroke="#CF86CE" stroke-width="1.3" stroke-linecap="round" stroke-linejoin="round"/>
<path d="M1.4,4.1h0M132.1,23.1h0M114.6,46.9h0M125.2,50.1h0M28.4,95.4h0M111.3,70h0M106.4,11.1h0M119.3,25.3h0M98.3,38.7h0M0.8,13.7h0M20.5,14.9h0M-1.4,0.5h0M2.8,105.8h0M123.7,41.3h0M124.2,46h0M-1.3,84.6h0M0.3,46.6h0M82.1,82.7h0M89.2,53.1h0M42,44h0M87.6,101.6h0M121.4,79.1h0M97.4,79.8h0M87.3,67.7h0M67.9,35.5h0M101.3,52.2h0M96.1,14.7h0M76.1,19.5h0M83.6,7.2h0M109.1,27.4h0M92.5,20.2h0M6.6,24h0M48.5,9.4h0M14.2,5.4h0M6.5,78.6h0M5,42h0M40.1,49.8h0M42.3,46.8h0M54.2,43.1h0M54.7,37.6h0M81.4,62.6h0M62.7,51.1h0M36,60.1h0M21,32.5h0M47.1,100.2h0M57.1,102.2h0M54.9,96.7h0M54.6,89.5h0M110.1,96.5h0M101.6,57.6h0M98.4,88.8h0M78.2,37.9h0M83.8,38.4h0M81.5,34.9h0M97.6,33.2h0M120.2,10.5h0M92.3,17h0M14.4,17h0M30.2,24.7h0M27.1,22.3h0M18.9,62.7h0M25.1,45.1h0M69.4,70.1h0M76.6,54.7h0M71.6,46.6h0M40.9,69h0M36.1,43.6h0M34.1,54.4h0M49.4,83.4h0M112.4,81.4h0M118.5,67.4h0M12.6,14.1h0M32.7,24.6h0M13.4,60.6h0M13,60.6h0M19.5,59.6h0M44.5,33h0M43.7,27.1h0M74.8,78.7h0M62.5,57.5h0M19.5,53.2h0M23.5,57.9h0M25.1,80.9h0M3.6,87h0M18.9,91.4h0M38.8,21h0M12.7,49.3h0M15.5,77.3h0M41.3,86.6h0M128.3,96.4h0M105.5,91.2h0M58.9,79.9h0M64.4,27.5h0" stroke="#CF86CE" stroke-width="1.6" stroke-linecap="round"/>
<path d="M110,50.5h0M120.3,17.8h0M5.9,35.6h0M22.2,21.2h0M120,26.7h0M81.8,50.5h0M132.3,60.8h0M47.8,0.1h0M34.8,-1.8h0M95.2,5.7h0M75.8,17.1h0M104.8,23.3h0M102.2,26.4h0M119.4,26.1h0M96.6,29.4h0M99.2,42.8h0M89.2,40.3h0M3.9,38.2h0M-0.5,35.4h0M11.1,71.4h0M12,72.3h0M128.4,19.8h0M-1.8,53.8h0M13.3,72.5h0M61.1,40.3h0M44,34.1h0M62.4,104.7h0M28.2,101.2h0M100.2,105h0M101.1,73.3h0M69.6,30.3h0M108.7,32.8h0M108.1,24.7h0M-0.2,29.7h0M6.7,32h0M45.2,12.8h0M4.8,1.7h0M67.4,93.3h0M68.1,91.3h0M55.1,38.4h0M48.5,56.1h0M117.3,104.1h0M92.1,100.9h0M131.1,66.3h0M110.7,63.4h0M117.7,67.3h0M104.4,83.5h0M82.7,22.9h0M76.4,32.8h0M126.3,8h0M126.5,8.3h0M109.8,1.8h0M105.6,-0.7h0M18.5,17.2h0M27.6,20.1h0M69.1,20h0M68.3,28.1h0M40,38.4h0M7,57.5h0M8.4,59.5h0M81.9,72h0M66.4,80.6h0M78.5,48.1h0M30.5,80.5h0M41.9,74.7h0M13.4,36.7h0M35.8,43.4h0M29.2,56.2h0M31,88h0M31.2,85.8h0M49.1,101.5h0M52.1,100.6h0M34.2,94.2h0M107.3,102.5h0M112.7,106.8h0M124.1,56.3h0M121.7,71.2h0M126.2,65.2h0M66.6,2.9h0M7.3,21.3h0M3.8,14.8h0M33.5,25.3h0M77.9,73.6h0M64.3,83.9h0M59.3,83.7h0M61.4,58h0M52.4,71.8h0M23.4,85.1h0M6.2,89.2h0M68.2,58.7h0M11.7,81.9h0M130.6,94.7h0M107,94h0M100.8,95.6h0M102.7,96.8h0M35.4,19.8h0M30.6,17.7h0M17.2,82.1h0M52.9,18.4h0M58.4,27.4h0M60,28.8h0" stroke="#CF86CE" stroke-width="2.4" stroke-linecap="round"/>
<path d="M108.7,45.7h0M116.3,19.9h0M109.9,19h0M9.3,6.6h0M5.3,93.8h0M64,93.9h0M128.4,60.1h0M127.6,81.5h0M104.2,40.2h0M129.1,12.2h0M84.6,44.3h0M85.4,48.1h0M94.9,43.4h0M96.4,37.2h0M90.9,35h0M-0.8,39.6h0M117.7,43.8h0M123,37.7h0M114.7,35.7h0M131.2,33h0M75.3,99.5h0M90.2,80.6h0M67.3,43h0M40,56.6h0M43.5,41.5h0M22,98.5h0M29.6,98.3h0M86.4,74.8h0M68,35.6h0M93.2,8.4h0M130.3,3.9h0M110.9,21.9h0M15.4,28.9h0M2.8,33.2h0M44.7,4.3h0M49.7,6h0M41.6,11h0M13.3,2h0M43,59.9h0M49.2,43.3h0M70.3,86h0M69.9,47.4h0M30.6,37.5h0M124,105.9h0M115.8,93.4h0M89.9,59.3h0M98,87.7h0M92.6,74.6h0M91.4,73.7h0M120,5.2h0M113.1,-0h0M86.9,15.9h0M-1.1,96.6h0M1.6,52.6h0M1.9,52.2h0M20.4,64h0M18.4,43.2h0M84.8,56.8h0M41.7,81.7h0M36,71.5h0M46.4,71.9h0M25.3,36.1h0M25.8,89.1h0M12.1,78.5h0M47.5,88.6h0M46.5,82.2h0M113.2,80.9h0M110.6,74.6h0M116.8,58.2h0M74.3,4.4h0M5.4,16.1h0M59.1,13.2h0M16.7,63h0M47.5,31.3h0M77.7,76.6h0M31.3,64.8h0M24.1,50.9h0M49.1,105.7h0M43.2,84.9h0M66.1,15h0M65.1,63.5h0M62.4,77.9h0M58.8,73.4h0M49.1,105.8h0M41.1,92.5h0M119.6,97.8h0M125.4,94.9h0M101.7,96.6h0M35.6,14.1h0M52.5,80.3h0M54.3,62.5h0M58.3,19.6h0M55.4,17.7h0M58.3,23.5h0" stroke="#CF86CE" stroke-width="2.0" stroke-linecap="round"/>
<path d="M115.4,51.2h0M99.3,9h0M75.8,88h0M95.4,67h0M95.4,47.9h0M120.5,-1.3h0M113.4,28.5h0M2,20.6h0M6.6,67.2h0M120.1,47.5h0M50.3,94.7h0M123,72h0M108.8,75.4h0M86.1,37.9h0M71.7,18.1h0M43.4,7h0M6.4,104.7h0M2.1,100.3h0M3.2,94.4h0M73.3,101.1h0M73.2,94.5h0M82.6,98.1h0M70.5,82.7h0M17.7,32.9h0M24.5,91.9h0M95.6,104.9h0M79.2,35.4h0M116.4,5.1h0M12.6,21.5h0M62.4,9.8h0M5.9,50.9h0M78.4,44.6h0M52.6,52.2h0M22.3,70.8h0M16.5,68.4h0M43.1,76.9h0M19.5,38.6h0M67.4,7.8h0M67.4,7.8h0M12.6,14.3h0M7.3,10.5h0M47.2,26.7h0M63.1,89.4h0M12.3,94h0M14.2,94.6h0M16.7,54.3h0M57.1,33.2h0M28.6,61.4h0M107.2,88.6h0M60.6,18.4h0M53.4,28.4h0M53.1,28h0M57.7,22.7h0" stroke="#CF86CE" stroke-width="1.2" stroke-linecap="round"/>
<path d="M4.2,37.8C5.6,35.1 9.7,34.3 12.8,32.9C15.9,31.4 19.4,29.9 22.7,29.1C26.0,28.3 29.9,27.5 32.6,27.9C35.3,28.3 37.3,29.8 38.8,31.6C40.2,33.5 41.1,36.5 41.3,39.0C41.5,41.5 40.6,44.0 40.0,46.5C39.4,49.0 37.8,52.0 37.6,53.9C37.4,55.8 40.4,57.2 38.8,57.6C37.1,58.0 32.0,57.3 27.7,56.3C23.4,55.3 16.7,52.6 12.8,51.4C8.9,50.2 5.6,51.2 4.2,48.9C2.8,46.6 2.8,40.5 4.2,37.8Z" fill="#C96EC2" stroke="#C96EC2" stroke-width="5" stroke-linejoin="round"/>
<path d="M95.0,37.0C96.0,36.3 97.8,36.2 100.0,38.0C102.2,39.8 105.5,44.7 108.0,48.0C110.5,51.3 113.5,54.7 115.0,58.0C116.5,61.3 117.5,66.0 117.0,68.0C116.5,70.0 113.8,71.3 112.0,70.0C110.2,68.7 108.2,63.3 106.0,60.0C103.8,56.7 101.0,53.0 99.0,50.0C97.0,47.0 94.7,44.2 94.0,42.0C93.3,39.8 94.0,37.7 95.0,37.0Z" fill="#DA9AD2" stroke="#DA9AD2" stroke-width="3.5" stroke-linejoin="round"/>
<path d="M0,99 L60,98.5 L90,96.5 L110,95 L131,95 L131,106 L0,106Z" fill="#E4A2D2"/>
<path d="M86 34h0M23 77h0M123 66h0M6 45h0M57 0h0M88 40h0M31 88h0M88 69h0M50 64h0M60 77h0M104 12h0M78 103h0M61 19h0M5 33h0M107 64h0M7 79h0M35 69h0M52 36h0M119 12h0M70 18h0M46 80h0M112 68h0M65 84h0M96 78h0M62 55h0M84 0h0M110 46h0M61 47h0M39 65h0M67 22h0M8 57h0M60 91h0M58 33h0M76 4h0M78 28h0M5 41h0M7 30h0M8 101h0M59 98h0M90 2h0M114 98h0M42 104h0M51 15h0M46 80h0M45 103h0M3 3h0M90 37h0M120 55h0M128 16h0M39 17h0M94 99h0M20 74h0M105 64h0M36 6h0M81 54h0M99 17h0M3 32h0M81 4h0M66 42h0M43 26h0M97 67h0M16 91h0M46 79h0M88 77h0M49 18h0M120 95h0M13 59h0M73 41h0M112 11h0M23 88h0M125 25h0M25 54h0M80 39h0M46 49h0M88 61h0M117 93h0M70 85h0M47 1h0M52 13h0M110 43h0M117 86h0M112 37h0M113 85h0M74 64h0M40 76h0M15 67h0M49 2h0M92 11h0M74 41h0M121 91h0M1 29h0M31 23h0M127 79h0M120 65h0M88 91h0M115 8h0M107 19h0M49 63h0M5 35h0M89 80h0M41 63h0M62 41h0M100 43h0M50 9h0M105 95h0M85 37h0M10 1h0M59 11h0M13 48h0M50 53h0M35 55h0M95 93h0M117 18h0M29 7h0M40 31h0M99 75h0M88 7h0M125 94h0M45 28h0M1 11h0M20 38h0M75 84h0M73 102h0M90 39h0M92 57h0M120 24h0M44 6h0M109 36h0M38 18h0M82 4h0M84 1h0M84 7h0M129 17h0M75 79h0M14 81h0M4 18h0M18 30h0M55 104h0M112 92h0M110 31h0M28 40h0M89 34h0M93 104h0M44 52h0M10 6h0M67 80h0M23 21h0M27 46h0M119 30h0M49 97h0M60 44h0M26 16h0M83 87h0M98 99h0M27 7h0M106 80h0M130 96h0M92 102h0M67 90h0M13 28h0M13 30h0M51 96h0M7 99h0M9 1h0M17 53h0M16 24h0M87 68h0M20 67h0M11 68h0M31 82h0M74 92h0M122 60h0M82 18h0M57 34h0M28 56h0M24 57h0M37 13h0M78 39h0M25 66h0M113 78h0M114 81h0M97 27h0M46 17h0M105 72h0M94 25h0M63 52h0M27 2h0M69 81h0M78 71h0M116 78h0M18 64h0M95 76h0M38 65h0M53 46h0M119 39h0M115 51h0M111 43h0M97 99h0M80 71h0M88 62h0M37 5h0M61 1h0M25 53h0M115 92h0M77 28h0M21 1h0M57 11h0M5 47h0M58 81h0M88 104h0M51 37h0M57 50h0M42 2h0M86 66h0M46 76h0M44 55h0M7 10h0M36 94h0M46 78h0M93 41h0M6 37h0M55 58h0M91 42h0M46 82h0M75 103h0M105 21h0M65 0h0M79 43h0M100 100h0M44 63h0M8 13h0M88 61h0M31 14h0M39 22h0M51 90h0M101 64h0M59 43h0M78 88h0M105 57h0M102 21h0M98 47h0M39 102h0M12 83h0M37 24h0M35 77h0M55 98h0M70 36h0M30 0h0M33 102h0M0 81h0M39 6h0M10 99h0M51 22h0M110 91h0M82 5h0M86 68h0M78 60h0M5 76h0M1 54h0M32 24h0M125 59h0M80 5h0M60 13h0M3 45h0M58 94h0M98 46h0M122 94h0M4 24h0M73 20h0M44 63h0M6 30h0M10 27h0M121 96h0M13 34h0M105 48h0M52 38h0M99 90h0M35 7h0M71 31h0M84 52h0M54 86h0M42 63h0M103 17h0M86 100h0M126 58h0M74 28h0M114 42h0M17 103h0M3 67h0M112 83h0M31 77h0M66 82h0M76 81h0M33 18h0M28 36h0M93 11h0M39 4h0M31 42h0M51 22h0M97 28h0M92 14h0M38 63h0M71 11h0M84 7h0M91 14h0M96 87h0M23 60h0M58 84h0M113 70h0M84 70h0M105 79h0M109 22h0M129 23h0M69 62h0M58 7h0M19 47h0M12 91h0M109 77h0M40 15h0M70 33h0M37 28h0M32 49h0M115 12h0M53 11h0M4 67h0M104 34h0M61 75h0M90 74h0M41 103h0M19 61h0M80 74h0M65 35h0M27 31h0M32 4h0M83 29h0M52 92h0M90 91h0M1 14h0M57 89h0M106 23h0M69 74h0M64 67h0M102 90h0M124 19h0M94 102h0M37 5h0M128 63h0M49 68h0M19 35h0M107 3h0M20 84h0M76 23h0M31 67h0M99 62h0M55 7h0M31 80h0M10 48h0M105 53h0M37 60h0M46 24h0M83 66h0M75 5h0M109 20h0M116 64h0M4 48h0M89 32h0M34 93h0M43 0h0M50 66h0M98 63h0M34 87h0M21 14h0M51 86h0M94 36h0M8 73h0M125 73h0M24 63h0M48 84h0M75 74h0M32 42h0M107 73h0M87 52h0M31 3h0M36 104h0M20 42h0M119 9h0M53 79h0M47 55h0M16 97h0M93 33h0M22 94h0M98 10h0M79 70h0M35 103h0M83 58h0M30 81h0M117 47h0M13 70h0M90 95h0M64 73h0M77 66h0M9 13h0M110 65h0M44 32h0M110 18h0M75 74h0M16 65h0M121 57h0M106 31h0M84 83h0M45 1h0M53 7h0M60 85h0M70 67h0M1 80h0M35 47h0M30 79h0M89 53h0M100 41h0M56 48h0M32 57h0M86 52h0M105 15h0M1 101h0M13 29h0M84 27h0M107 12h0M91 22h0M101 38h0M98 48h0M7 33h0M62 13h0M27 99h0M112 49h0M14 80h0M94 2h0M67 39h0M43 53h0M34 74h0M1 46h0M96 49h0M15 23h0M96 76h0M7 58h0M51 55h0M33 82h0M87 29h0M103 61h0M48 26h0M117 57h0M57 29h0M45 57h0M45 79h0M89 62h0M32 90h0M4 15h0M76 12h0M122 73h0M45 104h0M25 70h0M52 92h0M61 98h0M42 14h0M57 34h0M78 8h0M51 7h0M23 35h0M0 52h0M27 25h0M54 6h0M13 56h0M37 86h0M40 43h0M101 80h0M56 18h0M57 40h0M90 40h0M80 82h0M126 17h0M128 74h0M27 6h0M122 25h0M18 37h0M111 71h0M81 38h0M107 19h0M84 73h0M36 56h0M69 5h0M29 62h0M2 40h0M126 63h0M15 89h0M36 4h0M90 47h0M101 40h0M106 76h0M29 18h0M20 24h0M19 17h0M128 7h0M77 45h0M24 101h0M29 25h0M39 11h0M26 100h0M100 40h0M110 71h0M70 29h0M64 12h0M98 82h0M52 70h0M105 24h0M23 40h0M78 34h0M84 53h0M77 8h0M47 88h0M87 54h0M109 14h0M39 29h0M57 91h0M24 102h0M48 62h0M102 5h0M84 98h0M3 28h0M6 2h0M9 80h0M118 104h0M122 80h0M19 69h0M26 1h0M105 92h0M113 21h0M43 76h0M45 101h0M85 98h0M55 86h0M19 51h0M92 73h0M80 68h0M129 102h0M60 86h0M117 38h0M66 20h0M95 72h0M101 42h0M35 95h0M80 68h0M107 81h0M2 92h0M128 91h0M76 7h0M108 80h0M130 20h0M29 60h0M65 2h0M115 2h0M70 56h0M3 40h0M106 86h0M120 47h0M11 36h0M91 66h0M129 45h0M31 90h0M32 30h0M49 60h0M13 92h0M96 61h0M9 51h0M105 14h0M58 69h0M49 19h0M113 98h0M37 67h0M54 67h0M120 44h0M92 100h0M96 82h0M5 95h0M125 92h0M105 66h0M67 11h0M104 100h0M128 48h0M71 35h0M27 50h0M80 48h0M99 100h0M86 84h0M86 5h0M58 38h0M21 96h0M4 94h0M26 59h0M102 64h0M128 57h0M6 82h0M42 66h0M19 61h0M62 82h0M85 92h0M44 37h0M65 76h0M80 85h0M38 52h0M25 3h0M75 33h0M46 40h0M110 84h0M89 83h0M0 18h0M64 39h0M23 47h0M121 60h0M13 48h0M77 94h0M83 21h0M46 43h0M3 9h0M78 22h0M83 74h0M53 33h0M88 56h0M129 15h0M53 38h0M58 93h0M60 86h0M5 80h0M65 70h0M25 0h0M10 49h0M82 71h0M71 1h0M64 99h0M11 61h0M128 75h0M73 20h0M27 19h0M71 100h0M92 21h0M85 0h0M86 62h0M21 8h0M53 48h0M65 78h0M120 66h0M107 51h0M43 19h0M112 37h0M9 72h0M101 50h0M27 63h0M70 14h0M96 32h0M25 84h0M38 103h0M116 25h0M121 97h0M76 49h0M65 4h0M27 66h0M35 0h0M11 32h0M63 46h0M69 43h0M39 83h0M0 72h0M14 95h0M95 99h0M85 72h0M108 37h0M53 6h0M43 28h0M54 10h0M32 9h0M88 98h0M41 92h0M124 58h0M104 20h0M96 7h0M100 37h0M88 87h0M46 97h0M76 41h0M53 42h0M68 85h0M45 67h0M58 96h0M70 47h0M57 36h0M100 5h0M116 38h0M34 19h0M27 89h0M4 16h0M124 40h0M57 76h0M93 26h0M99 29h0M97 71h0M22 60h0M52 16h0M83 60h0M6 88h0M58 71h0M111 51h0M124 31h0M23 1h0M30 79h0M1 89h0M63 26h0M6 36h0M46 19h0M6 23h0M68 28h0M32 55h0M41 94h0M12 50h0M75 57h0M122 11h0M104 71h0M45 84h0M14 57h0M109 10h0M31 103h0M14 58h0M64 65h0M111 68h0M67 48h0M124 39h0M87 92h0M31 18h0M73 42h0M29 82h0M14 16h0M112 19h0M94 74h0M84 56h0M119 95h0M97 70h0M25 88h0M89 42h0M36 63h0M41 10h0M80 87h0M129 90h0M108 29h0M88 46h0M59 91h0M70 68h0M117 89h0M12 56h0M90 49h0M112 103h0M22 51h0M36 42h0M98 85h0M96 99h0M36 76h0M75 100h0M19 59h0M40 34h0M111 25h0M25 56h0M105 38h0M11 17h0M96 62h0M69 58h0M115 37h0M26 1h0M31 14h0M11 9h0M71 42h0M23 99h0M48 71h0M40 26h0M92 62h0M66 96h0M130 73h0M30 91h0M50 22h0M90 90h0M34 104h0M121 81h0M7 104h0M120 90h0M84 63h0M80 3h0M125 3h0M112 61h0M79 66h0M118 35h0M128 56h0M38 52h0M30 90h0M102 52h0M70 93h0M59 4h0M21 35h0M42 83h0M19 65h0M126 101h0M109 17h0M60 51h0M11 18h0M93 63h0M46 71h0M83 69h0M72 79h0M0 12h0M99 92h0M51 44h0M121 64h0M76 93h0M47 45h0M95 91h0M1 100h0M56 46h0M128 89h0M125 104h0M9 32h0M83 42h0M6 32h0M104 41h0M108 38h0M122 82h0M109 41h0M43 95h0M66 5h0M45 85h0M11 73h0M125 53h0M40 45h0M81 79h0M88 4h0M25 99h0M86 81h0M79 28h0M88 11h0M70 1h0M40 83h0M47 18h0M78 76h0M38 69h0M42 74h0M16 40h0M60 95h0M25 64h0M130 41h0M49 17h0M38 6h0M64 87h0M13 79h0M37 62h0M65 7h0M79 26h0M93 31h0M116 53h0M76 17h0M102 35h0M88 39h0M94 79h0M8 23h0M79 72h0M94 16h0M47 62h0M99 81h0M113 46h0M69 43h0M56 61h0M117 97h0M34 59h0M80 74h0M75 91h0M58 27h0M15 57h0M73 39h0M1 99h0M94 24h0M117 53h0M74 61h0M58 38h0M81 1h0M48 51h0M119 83h0M7 48h0M71 82h0M52 77h0M9 72h0M77 42h0M13 3h0M29 65h0M110 49h0M20 45h0M119 5h0M9 49h0M83 101h0M115 94h0M20 93h0M127 51h0M75 50h0M84 75h0M28 78h0M14 72h0M21 50h0M79 52h0M129 95h0M3 37h0M29 65h0M19 51h0M84 82h0M81 59h0M110 42h0M26 90h0M19 9h0M44 12h0M47 93h0M116 7h0M48 28h0M10 74h0M97 20h0M129 29h0M91 16h0M51 64h0M118 103h0M75 1h0M77 27h0M2 62h0M12 17h0M116 48h0M14 21h0M129 70h0M63 2h0M5 13h0M46 19h0M104 30h0M113 100h0M42 26h0M65 86h0M60 97h0M57 1h0M26 26h0M128 20h0M101 83h0M108 82h0M125 30h0M119 50h0M119 3h0M84 103h0M14 85h0M82 74h0M92 19h0M13 26h0M13 43h0M25 4h0M91 62h0M41 33h0M9 31h0M4 95h0M17 91h0M6 102h0M63 3h0M93 69h0M83 71h0M53 70h0M90 13h0M56 95h0M80 96h0M60 10h0M63 87h0M99 34h0M109 62h0M1 97h0M84 83h0M108 30h0M46 98h0M26 46h0M41 54h0M121 8h0" stroke="#6a3aa0" stroke-width="1" stroke-linecap="square" opacity="0.3"/>
<path d="M4.2,37.8C5.6,35.1 9.7,34.3 12.8,32.9C15.9,31.4 19.4,29.9 22.7,29.1C26.0,28.3 29.9,27.5 32.6,27.9C35.3,28.3 37.3,29.8 38.8,31.6C40.2,33.5 41.1,36.5 41.3,39.0C41.5,41.5 40.6,44.0 40.0,46.5C39.4,49.0 37.8,52.0 37.6,53.9C37.4,55.8 40.4,57.2 38.8,57.6C37.1,58.0 32.0,57.3 27.7,56.3C23.4,55.3 16.7,52.6 12.8,51.4C8.9,50.2 5.6,51.2 4.2,48.9C2.8,46.6 2.8,40.5 4.2,37.8Z" fill="#FCF8FC"/>
<path d="M95.0,37.0C96.0,36.3 97.8,36.2 100.0,38.0C102.2,39.8 105.5,44.7 108.0,48.0C110.5,51.3 113.5,54.7 115.0,58.0C116.5,61.3 117.5,66.0 117.0,68.0C116.5,70.0 113.8,71.3 112.0,70.0C110.2,68.7 108.2,63.3 106.0,60.0C103.8,56.7 101.0,53.0 99.0,50.0C97.0,47.0 94.7,44.2 94.0,42.0C93.3,39.8 94.0,37.7 95.0,37.0Z" fill="#FCF8FC"/>
<path d="M26.4,66.4C27.0,65.0 31.4,64.0 33.6,65.2C35.8,66.4 37.6,70.6 39.6,73.6C41.6,76.6 44.2,80.2 45.6,83.2C47.0,86.2 48.2,89.8 48.0,91.6C47.8,93.4 45.8,94.6 44.4,94.0C43.0,93.4 41.2,90.4 39.6,88.0C38.0,85.6 36.4,82.0 34.8,79.6C33.2,77.2 31.4,75.8 30.0,73.6C28.6,71.4 25.8,67.8 26.4,66.4Z" fill="#FCF8FC"/>
<path d="M52.8,63.0C53.6,61.3 57.8,61.1 60.0,61.6C62.2,62.1 65.7,63.6 66.0,66.0C66.3,68.4 63.8,75.0 62.0,76.0C60.2,77.0 56.5,74.2 55.0,72.0C53.5,69.8 52.0,64.7 52.8,63.0Z" fill="#FCF8FC"/>
<path d="M66.0,39.0C67.3,36.7 71.8,37.2 74.0,38.0C76.2,38.8 78.3,41.7 79.0,44.0C79.7,46.3 79.2,49.9 78.0,52.0C76.8,54.1 74.0,56.6 72.0,56.6C70.0,56.6 67.0,54.9 66.0,52.0C65.0,49.1 64.7,41.3 66.0,39.0Z" fill="#FCF8FC"/>
</g></g>
<line x1="526" y1="427.8" x2="540" y2="427.8" stroke="#111" stroke-width="1.6"/>
<text x="533" y="433.4" font-size="3.6" text-anchor="middle" fill="#333">100 &#956;m</text>
<rect x="414.5" y="333.5" width="130" height="104" fill="none" stroke="#a8a8a8" stroke-width="1"/>
<text x="17.90" y="15.20" font-size="13" text-anchor="start" fill="#222" stroke="#222" stroke-width="0.25" >(a)</text>
<line x1="54.2" y1="12.2" x2="54.2" y2="140.5" stroke="#1a1a1a" stroke-width="1.3"/>
<line x1="53.6" y1="139.9" x2="182.0" y2="139.9" stroke="#1a1a1a" stroke-width="1.3"/>
<line x1="51.0" y1="139.9" x2="54.2" y2="139.9" stroke="#1a1a1a" stroke-width="1.3"/>
<text x="49.90" y="143.00" font-size="8.5" text-anchor="end" fill="#333" stroke="#333" stroke-width="0.25" >0</text>
<line x1="51.0" y1="103.57000000000001" x2="54.2" y2="103.57000000000001" stroke="#1a1a1a" stroke-width="1.3"/>
<text x="49.90" y="106.67" font-size="8.5" text-anchor="end" fill="#333" stroke="#333" stroke-width="0.25" >10</text>
<line x1="51.0" y1="67.24000000000001" x2="54.2" y2="67.24000000000001" stroke="#1a1a1a" stroke-width="1.3"/>
<text x="49.90" y="70.34" font-size="8.5" text-anchor="end" fill="#333" stroke="#333" stroke-width="0.25" >20</text>
<line x1="51.0" y1="30.91000000000001" x2="54.2" y2="30.91000000000001" stroke="#1a1a1a" stroke-width="1.3"/>
<text x="49.90" y="34.01" font-size="8.5" text-anchor="end" fill="#333" stroke="#333" stroke-width="0.25" >30</text>
<line x1="96.6" y1="13.5" x2="96.6" y2="139.9" stroke="#333" stroke-width="0.8" stroke-dasharray="1.1 1.1"/>
<line x1="139.4" y1="13.5" x2="139.4" y2="139.9" stroke="#333" stroke-width="0.8" stroke-dasharray="1.1 1.1"/>
<text x="57.00" y="18.60" font-size="9.5" text-anchor="start" fill="#222" stroke="#222" stroke-width="0.25" >Lung</text>
<text x="98.80" y="18.60" font-size="9.5" text-anchor="start" fill="#222" stroke="#222" stroke-width="0.25" >Liver</text>
<text x="143.00" y="18.60" font-size="9.5" text-anchor="start" fill="#222" stroke="#222" stroke-width="0.25" >Kidney</text>
<text transform="translate(29.80,76.50) rotate(-90)" x="0" y="3.32" font-size="9.5" text-anchor="middle" fill="#222" stroke="#222" stroke-width="0.25">CRAB C0 (10<tspan font-size="6" dy="-3.5">5</tspan><tspan dy="3.5"> CFU/ml)</tspan></text>
<line x1="56.4" y1="139.9" x2="63.199999999999996" y2="139.9" stroke="#111" stroke-width="2.2"/>
<line x1="59.8" y1="139.9" x2="59.8" y2="142.4" stroke="#222" stroke-width="0.9"/>
<line x1="70.33" y1="103.57000000000001" x2="70.33" y2="101.02690000000001" stroke="#777" stroke-width="0.8"/>
<line x1="68.53" y1="101.02690000000001" x2="72.13" y2="101.02690000000001" stroke="#777" stroke-width="0.8"/>
<rect x="67.13" y="103.97" width="6.40" height="35.93" fill="#FACD45" stroke="#6e5c28" stroke-width="0.8"/>
<line x1="70.33" y1="139.9" x2="70.33" y2="142.4" stroke="#222" stroke-width="0.9"/>
<line x1="77.46" y1="139.9" x2="84.26" y2="139.9" stroke="#111" stroke-width="2.2"/>
<line x1="80.86" y1="139.9" x2="80.86" y2="142.4" stroke="#222" stroke-width="0.9"/>
<line x1="91.38999999999999" y1="131.72575" x2="91.38999999999999" y2="130.0909" stroke="#777" stroke-width="0.8"/>
<line x1="89.58999999999999" y1="130.0909" x2="93.18999999999998" y2="130.0909" stroke="#777" stroke-width="0.8"/>
<rect x="88.19" y="132.13" width="6.40" height="7.77" fill="#0505BC" stroke="#00007a" stroke-width="0.8"/>
<line x1="91.38999999999999" y1="139.9" x2="91.38999999999999" y2="142.4" stroke="#222" stroke-width="0.9"/>
<line x1="98.51999999999998" y1="139.9" x2="105.32" y2="139.9" stroke="#111" stroke-width="2.2"/>
<line x1="101.91999999999999" y1="139.9" x2="101.91999999999999" y2="142.4" stroke="#222" stroke-width="0.9"/>
<line x1="112.44999999999999" y1="74.1427" x2="112.44999999999999" y2="68.6932" stroke="#777" stroke-width="0.8"/>
<line x1="110.64999999999999" y1="68.6932" x2="114.24999999999999" y2="68.6932" stroke="#777" stroke-width="0.8"/>
<rect x="109.25" y="74.54" width="6.40" height="65.36" fill="#FACD45" stroke="#6e5c28" stroke-width="0.8"/>
<line x1="112.44999999999999" y1="139.9" x2="112.44999999999999" y2="142.4" stroke="#222" stroke-width="0.9"/>
<line x1="119.57999999999998" y1="139.9" x2="126.38" y2="139.9" stroke="#111" stroke-width="2.2"/>
<line x1="122.97999999999999" y1="139.9" x2="122.97999999999999" y2="142.4" stroke="#222" stroke-width="0.9"/>
<line x1="133.51" y1="123.18820000000001" x2="133.51" y2="118.102" stroke="#777" stroke-width="0.8"/>
<line x1="131.70999999999998" y1="118.102" x2="135.31" y2="118.102" stroke="#777" stroke-width="0.8"/>
<rect x="130.31" y="123.59" width="6.40" height="16.31" fill="#0505BC" stroke="#00007a" stroke-width="0.8"/>
<line x1="133.51" y1="139.9" x2="133.51" y2="142.4" stroke="#222" stroke-width="0.9"/>
<line x1="140.64" y1="139.9" x2="147.44" y2="139.9" stroke="#111" stroke-width="2.2"/>
<line x1="144.04" y1="139.9" x2="144.04" y2="142.4" stroke="#222" stroke-width="0.9"/>
<line x1="154.57" y1="31.99990000000001" x2="154.57" y2="26.55040000000001" stroke="#777" stroke-width="0.8"/>
<line x1="152.76999999999998" y1="26.55040000000001" x2="156.37" y2="26.55040000000001" stroke="#777" stroke-width="0.8"/>
<rect x="151.37" y="32.40" width="6.40" height="107.50" fill="#FACD45" stroke="#6e5c28" stroke-width="0.8"/>
<line x1="154.57" y1="139.9" x2="154.57" y2="142.4" stroke="#222" stroke-width="0.9"/>
<line x1="161.7" y1="139.9" x2="168.5" y2="139.9" stroke="#111" stroke-width="2.2"/>
<line x1="165.1" y1="139.9" x2="165.1" y2="142.4" stroke="#222" stroke-width="0.9"/>
<line x1="175.63" y1="102.4801" x2="175.63" y2="92.30770000000001" stroke="#777" stroke-width="0.8"/>
<line x1="173.82999999999998" y1="92.30770000000001" x2="177.43" y2="92.30770000000001" stroke="#777" stroke-width="0.8"/>
<rect x="172.43" y="102.88" width="6.40" height="37.02" fill="#0505BC" stroke="#00007a" stroke-width="0.8"/>
<line x1="175.63" y1="139.9" x2="175.63" y2="142.4" stroke="#222" stroke-width="0.9"/>
<text transform="translate(95.09,123.60) rotate(-90)" font-size="7.4" text-anchor="middle" fill="#2a2a2a" stroke="#2a2a2a" stroke-width="0.12">***</text>
<text transform="translate(137.21,109.50) rotate(-90)" font-size="7.4" text-anchor="middle" fill="#2a2a2a" stroke="#2a2a2a" stroke-width="0.12">***</text>
<text transform="translate(179.33,83.80) rotate(-90)" font-size="7.4" text-anchor="middle" fill="#2a2a2a" stroke="#2a2a2a" stroke-width="0.12">***</text>
<text x="188.00" y="15.60" font-size="13" text-anchor="start" fill="#222" stroke="#222" stroke-width="0.25" >(b)</text>
<line x1="222.0" y1="11.55" x2="222.0" y2="140.1" stroke="#1a1a1a" stroke-width="1.6"/>
<line x1="221.4" y1="139.5" x2="349.3" y2="139.5" stroke="#1a1a1a" stroke-width="1.6"/>
<line x1="217.5" y1="139.5" x2="222.0" y2="139.5" stroke="#1a1a1a" stroke-width="1.6"/>
<text x="216.40" y="142.60" font-size="8.5" text-anchor="end" fill="#333" stroke="#333" stroke-width="0.25" >0</text>
<line x1="217.5" y1="97.015" x2="222.0" y2="97.015" stroke="#1a1a1a" stroke-width="1.6"/>
<text x="216.40" y="100.11" font-size="8.5" text-anchor="end" fill="#333" stroke="#333" stroke-width="0.25" >5</text>
<line x1="217.5" y1="54.53" x2="222.0" y2="54.53" stroke="#1a1a1a" stroke-width="1.6"/>
<text x="216.40" y="57.63" font-size="8.5" text-anchor="end" fill="#333" stroke="#333" stroke-width="0.25" >10</text>
<line x1="217.5" y1="12.045000000000002" x2="222.0" y2="12.045000000000002" stroke="#1a1a1a" stroke-width="1.6"/>
<text x="216.40" y="15.15" font-size="8.5" text-anchor="end" fill="#333" stroke="#333" stroke-width="0.25" >15</text>
<text x="226.80" y="16.40" font-size="10.3" text-anchor="start" fill="#222" stroke="#222" stroke-width="0.25" >Lung lysate</text>
<text transform="translate(196.80,75.30) rotate(-90)" x="0" y="3.57" font-size="10.2" text-anchor="middle" fill="#222" stroke="#222" stroke-width="0.25">TNF-&#945; (ng/mL)</text>
<line x1="241.55" y1="81.29555" x2="241.55" y2="66.42580000000001" stroke="#555" stroke-width="0.9"/>
<line x1="236.8" y1="66.42580000000001" x2="246.3" y2="66.42580000000001" stroke="#555" stroke-width="0.9"/>
<rect x="232.25" y="81.75" width="18.60" height="57.75" fill="#ffffff" stroke="#444" stroke-width="0.9"/>
<line x1="271.1" y1="33.287499999999994" x2="271.1" y2="29.8887" stroke="#555" stroke-width="0.9"/>
<line x1="266.35" y1="29.8887" x2="275.85" y2="29.8887" stroke="#555" stroke-width="0.9"/>
<rect x="261.80" y="33.74" width="18.60" height="105.76" fill="#FACD45" stroke="#6e5c28" stroke-width="0.9"/>
<line x1="300.35" y1="76.62219999999999" x2="300.35" y2="68.12519999999999" stroke="#555" stroke-width="0.9"/>
<line x1="295.6" y1="68.12519999999999" x2="305.1" y2="68.12519999999999" stroke="#555" stroke-width="0.9"/>
<rect x="291.05" y="77.07" width="18.60" height="62.43" fill="#343434" stroke="#111" stroke-width="0.9"/>
<line x1="329.75" y1="77.89675" x2="329.75" y2="72.3737" stroke="#4545c0" stroke-width="0.9"/>
<line x1="325.0" y1="72.3737" x2="334.5" y2="72.3737" stroke="#4545c0" stroke-width="0.9"/>
<rect x="320.45" y="78.35" width="18.60" height="61.15" fill="#0505BC" stroke="#00007a" stroke-width="0.9"/>
<line x1="241.55" y1="139.5" x2="241.55" y2="144.0" stroke="#1a1a1a" stroke-width="1.2"/>
<line x1="271.1" y1="139.5" x2="271.1" y2="144.0" stroke="#1a1a1a" stroke-width="1.2"/>
<line x1="300.35" y1="139.5" x2="300.35" y2="144.0" stroke="#1a1a1a" stroke-width="1.2"/>
<line x1="329.75" y1="139.5" x2="329.75" y2="144.0" stroke="#1a1a1a" stroke-width="1.2"/>
<text x="301.20" y="65.66" font-size="8.8" text-anchor="middle" fill="#1a1a1a" stroke="#1a1a1a" stroke-width="0.35" letter-spacing="1.7">*</text>
<text x="330.60" y="65.46" font-size="8.8" text-anchor="middle" fill="#1a1a1a" stroke="#1a1a1a" stroke-width="0.35" letter-spacing="1.7">*</text>
<line x1="384.3" y1="11.0" x2="384.3" y2="140.1" stroke="#1a1a1a" stroke-width="1.6"/>
<line x1="383.7" y1="139.5" x2="512.6" y2="139.5" stroke="#1a1a1a" stroke-width="1.6"/>
<line x1="379.8" y1="139.5" x2="384.3" y2="139.5" stroke="#1a1a1a" stroke-width="1.6"/>
<text x="377.90" y="142.60" font-size="8.5" text-anchor="end" fill="#333" stroke="#333" stroke-width="0.25" >0</text>
<line x1="379.8" y1="75.5" x2="384.3" y2="75.5" stroke="#1a1a1a" stroke-width="1.6"/>
<text x="377.90" y="78.60" font-size="8.5" text-anchor="end" fill="#333" stroke="#333" stroke-width="0.25" >5</text>
<line x1="379.8" y1="11.5" x2="384.3" y2="11.5" stroke="#1a1a1a" stroke-width="1.6"/>
<text x="377.90" y="14.60" font-size="8.5" text-anchor="end" fill="#333" stroke="#333" stroke-width="0.25" >10</text>
<text x="389.00" y="16.40" font-size="10.3" text-anchor="start" fill="#222" stroke="#222" stroke-width="0.25" >Lung lysate</text>
<text transform="translate(357.80,75.40) rotate(-90)" x="0" y="3.71" font-size="10.6" text-anchor="middle" fill="#222" stroke="#222" stroke-width="0.25">IL-6 (ng/mL)</text>
<line x1="403.75" y1="79.21199999999999" x2="403.75" y2="77.932" stroke="#555" stroke-width="0.9"/>
<line x1="399.0" y1="77.932" x2="408.5" y2="77.932" stroke="#555" stroke-width="0.9"/>
<rect x="394.40" y="79.66" width="18.70" height="59.84" fill="#ffffff" stroke="#444" stroke-width="0.9"/>
<line x1="433.45" y1="31.340000000000003" x2="433.45" y2="28.524" stroke="#555" stroke-width="0.9"/>
<line x1="428.7" y1="28.524" x2="438.2" y2="28.524" stroke="#555" stroke-width="0.9"/>
<rect x="424.10" y="31.79" width="18.70" height="107.71" fill="#FACD45" stroke="#6e5c28" stroke-width="0.9"/>
<line x1="462.9" y1="77.036" x2="462.9" y2="69.1" stroke="#555" stroke-width="0.9"/>
<line x1="458.15" y1="69.1" x2="467.65" y2="69.1" stroke="#555" stroke-width="0.9"/>
<rect x="453.55" y="77.49" width="18.70" height="62.01" fill="#343434" stroke="#111" stroke-width="0.9"/>
<line x1="492.65" y1="72.172" x2="492.65" y2="62.31599999999999" stroke="#4545c0" stroke-width="0.9"/>
<line x1="487.9" y1="62.31599999999999" x2="497.4" y2="62.31599999999999" stroke="#4545c0" stroke-width="0.9"/>
<rect x="483.30" y="72.62" width="18.70" height="66.88" fill="#0505BC" stroke="#00007a" stroke-width="0.9"/>
<line x1="403.75" y1="139.5" x2="403.75" y2="144.0" stroke="#1a1a1a" stroke-width="1.2"/>
<line x1="433.45" y1="139.5" x2="433.45" y2="144.0" stroke="#1a1a1a" stroke-width="1.2"/>
<line x1="462.9" y1="139.5" x2="462.9" y2="144.0" stroke="#1a1a1a" stroke-width="1.2"/>
<line x1="492.65" y1="139.5" x2="492.65" y2="144.0" stroke="#1a1a1a" stroke-width="1.2"/>
<text x="463.75" y="59.46" font-size="8.8" text-anchor="middle" fill="#1a1a1a" stroke="#1a1a1a" stroke-width="0.35" letter-spacing="1.7">**</text>
<text x="493.50" y="57.06" font-size="8.8" text-anchor="middle" fill="#1a1a1a" stroke="#1a1a1a" stroke-width="0.35" letter-spacing="1.7">**</text>
<text x="17.50" y="156.80" font-size="13" text-anchor="start" fill="#222" stroke="#222" stroke-width="0.25" >(c)</text>
<line x1="56.0" y1="151.8" x2="56.0" y2="277.3" stroke="#1a1a1a" stroke-width="1.6"/>
<line x1="55.4" y1="276.7" x2="178.0" y2="276.7" stroke="#1a1a1a" stroke-width="1.6"/>
<line x1="51.5" y1="276.7" x2="56.0" y2="276.7" stroke="#1a1a1a" stroke-width="1.6"/>
<text x="50.40" y="279.80" font-size="8.5" text-anchor="end" fill="#333" stroke="#333" stroke-width="0.25" >0</text>
<line x1="51.5" y1="245.6" x2="56.0" y2="245.6" stroke="#1a1a1a" stroke-width="1.6"/>
<text x="50.40" y="248.70" font-size="8.5" text-anchor="end" fill="#333" stroke="#333" stroke-width="0.25" >50</text>
<line x1="51.5" y1="214.5" x2="56.0" y2="214.5" stroke="#1a1a1a" stroke-width="1.6"/>
<text x="50.40" y="217.60" font-size="8.5" text-anchor="end" fill="#333" stroke="#333" stroke-width="0.25" >100</text>
<line x1="51.5" y1="183.39999999999998" x2="56.0" y2="183.39999999999998" stroke="#1a1a1a" stroke-width="1.6"/>
<text x="50.40" y="186.50" font-size="8.5" text-anchor="end" fill="#333" stroke="#333" stroke-width="0.25" >150</text>
<line x1="51.5" y1="152.29999999999998" x2="56.0" y2="152.29999999999998" stroke="#1a1a1a" stroke-width="1.6"/>
<text x="50.40" y="155.40" font-size="8.5" text-anchor="end" fill="#333" stroke="#333" stroke-width="0.25" >200</text>
<text transform="translate(25.90,214.50) rotate(-90)" x="0" y="3.64" font-size="10.4" text-anchor="middle" fill="#222" stroke="#222" stroke-width="0.25">AST (IU/mL)</text>
<line x1="75.05" y1="226.4424" x2="75.05" y2="221.34199999999998" stroke="#555" stroke-width="0.9"/>
<line x1="70.3" y1="221.34199999999998" x2="79.8" y2="221.34199999999998" stroke="#555" stroke-width="0.9"/>
<rect x="65.95" y="226.89" width="18.20" height="49.81" fill="#ffffff" stroke="#444" stroke-width="0.9"/>
<line x1="104.0" y1="179.046" x2="104.0" y2="175.5006" stroke="#555" stroke-width="0.9"/>
<line x1="99.25" y1="175.5006" x2="108.75" y2="175.5006" stroke="#555" stroke-width="0.9"/>
<rect x="94.90" y="179.50" width="18.20" height="97.20" fill="#FACD45" stroke="#6e5c28" stroke-width="0.9"/>
<line x1="132.7" y1="215.12199999999999" x2="132.7" y2="214.3756" stroke="#555" stroke-width="0.9"/>
<line x1="127.94999999999999" y1="214.3756" x2="137.45" y2="214.3756" stroke="#555" stroke-width="0.9"/>
<rect x="123.60" y="215.57" width="18.20" height="61.13" fill="#343434" stroke="#111" stroke-width="0.9"/>
<line x1="161.5" y1="226.31799999999998" x2="161.5" y2="219.60039999999998" stroke="#777" stroke-width="0.9"/>
<line x1="156.75" y1="219.60039999999998" x2="166.25" y2="219.60039999999998" stroke="#777" stroke-width="0.9"/>
<rect x="152.40" y="226.77" width="18.20" height="49.93" fill="#0505BC" stroke="#00007a" stroke-width="0.9"/>
<line x1="75.05" y1="276.7" x2="75.05" y2="281.2" stroke="#1a1a1a" stroke-width="1.2"/>
<line x1="104.0" y1="276.7" x2="104.0" y2="281.2" stroke="#1a1a1a" stroke-width="1.2"/>
<line x1="132.7" y1="276.7" x2="132.7" y2="281.2" stroke="#1a1a1a" stroke-width="1.2"/>
<line x1="161.5" y1="276.7" x2="161.5" y2="281.2" stroke="#1a1a1a" stroke-width="1.2"/>
<text x="133.55" y="213.16" font-size="8.8" text-anchor="middle" fill="#1a1a1a" stroke="#1a1a1a" stroke-width="0.35" letter-spacing="1.7">**</text>
<text x="162.35" y="217.66" font-size="8.8" text-anchor="middle" fill="#1a1a1a" stroke="#1a1a1a" stroke-width="0.35" letter-spacing="1.7">***</text>
<line x1="218.1" y1="153.9" x2="218.1" y2="277.20000000000005" stroke="#1a1a1a" stroke-width="1.6"/>
<line x1="217.5" y1="276.6" x2="340.5" y2="276.6" stroke="#1a1a1a" stroke-width="1.6"/>
<line x1="213.6" y1="276.6" x2="218.1" y2="276.6" stroke="#1a1a1a" stroke-width="1.6"/>
<text x="212.50" y="279.70" font-size="8.5" text-anchor="end" fill="#333" stroke="#333" stroke-width="0.25" >0</text>
<line x1="213.6" y1="252.16000000000003" x2="218.1" y2="252.16000000000003" stroke="#1a1a1a" stroke-width="1.6"/>
<text x="212.50" y="255.26" font-size="8.5" text-anchor="end" fill="#333" stroke="#333" stroke-width="0.25" >20</text>
<line x1="213.6" y1="227.72000000000003" x2="218.1" y2="227.72000000000003" stroke="#1a1a1a" stroke-width="1.6"/>
<text x="212.50" y="230.82" font-size="8.5" text-anchor="end" fill="#333" stroke="#333" stroke-width="0.25" >40</text>
<line x1="213.6" y1="203.28000000000003" x2="218.1" y2="203.28000000000003" stroke="#1a1a1a" stroke-width="1.6"/>
<text x="212.50" y="206.38" font-size="8.5" text-anchor="end" fill="#333" stroke="#333" stroke-width="0.25" >60</text>
<line x1="213.6" y1="178.84000000000003" x2="218.1" y2="178.84000000000003" stroke="#1a1a1a" stroke-width="1.6"/>
<text x="212.50" y="181.94" font-size="8.5" text-anchor="end" fill="#333" stroke="#333" stroke-width="0.25" >80</text>
<line x1="213.6" y1="154.40000000000003" x2="218.1" y2="154.40000000000003" stroke="#1a1a1a" stroke-width="1.6"/>
<text x="212.50" y="157.50" font-size="8.5" text-anchor="end" fill="#333" stroke="#333" stroke-width="0.25" >100</text>
<text transform="translate(188.60,215.90) rotate(-90)" x="0" y="3.60" font-size="10.3" text-anchor="middle" fill="#222" stroke="#222" stroke-width="0.25">ALT (IU/mL)</text>
<line x1="237.1" y1="237.37380000000002" x2="237.1" y2="236.76280000000003" stroke="#555" stroke-width="0.9"/>
<line x1="232.35" y1="236.76280000000003" x2="241.85" y2="236.76280000000003" stroke="#555" stroke-width="0.9"/>
<rect x="228.15" y="237.82" width="17.90" height="38.78" fill="#ffffff" stroke="#444" stroke-width="0.9"/>
<line x1="264.75" y1="186.29420000000002" x2="264.75" y2="178.22900000000004" stroke="#555" stroke-width="0.9"/>
<line x1="260.0" y1="178.22900000000004" x2="269.5" y2="178.22900000000004" stroke="#555" stroke-width="0.9"/>
<rect x="255.80" y="186.74" width="17.90" height="89.86" fill="#FACD45" stroke="#6e5c28" stroke-width="0.9"/>
<line x1="293.7" y1="240.91760000000002" x2="293.7" y2="235.78520000000003" stroke="#555" stroke-width="0.9"/>
<line x1="288.95" y1="235.78520000000003" x2="298.45" y2="235.78520000000003" stroke="#555" stroke-width="0.9"/>
<rect x="284.75" y="241.37" width="17.90" height="35.23" fill="#343434" stroke="#111" stroke-width="0.9"/>
<line x1="321.65" y1="232.85240000000002" x2="321.65" y2="226.13140000000004" stroke="#4545c0" stroke-width="0.9"/>
<line x1="316.9" y1="226.13140000000004" x2="326.4" y2="226.13140000000004" stroke="#4545c0" stroke-width="0.9"/>
<rect x="312.70" y="233.30" width="17.90" height="43.30" fill="#0505BC" stroke="#00007a" stroke-width="0.9"/>
<line x1="237.1" y1="276.6" x2="237.1" y2="281.1" stroke="#1a1a1a" stroke-width="1.2"/>
<line x1="264.75" y1="276.6" x2="264.75" y2="281.1" stroke="#1a1a1a" stroke-width="1.2"/>
<line x1="293.7" y1="276.6" x2="293.7" y2="281.1" stroke="#1a1a1a" stroke-width="1.2"/>
<line x1="321.65" y1="276.6" x2="321.65" y2="281.1" stroke="#1a1a1a" stroke-width="1.2"/>
<text x="294.55" y="234.46" font-size="8.8" text-anchor="middle" fill="#1a1a1a" stroke="#1a1a1a" stroke-width="0.35" letter-spacing="1.7">***</text>
<text x="322.50" y="227.46" font-size="8.8" text-anchor="middle" fill="#1a1a1a" stroke="#1a1a1a" stroke-width="0.35" letter-spacing="1.7">***</text>
<line x1="382.9" y1="152.6" x2="382.9" y2="278.0" stroke="#1a1a1a" stroke-width="1.6"/>
<line x1="382.29999999999995" y1="277.4" x2="507.6" y2="277.4" stroke="#1a1a1a" stroke-width="1.6"/>
<line x1="378.4" y1="277.4" x2="382.9" y2="277.4" stroke="#1a1a1a" stroke-width="1.6"/>
<text x="377.30" y="280.50" font-size="8.5" text-anchor="end" fill="#333" stroke="#333" stroke-width="0.25" >0</text>
<line x1="378.4" y1="252.53999999999996" x2="382.9" y2="252.53999999999996" stroke="#1a1a1a" stroke-width="1.6"/>
<text x="377.30" y="255.64" font-size="8.5" text-anchor="end" fill="#333" stroke="#333" stroke-width="0.25" >50</text>
<line x1="378.4" y1="227.67999999999998" x2="382.9" y2="227.67999999999998" stroke="#1a1a1a" stroke-width="1.6"/>
<text x="377.30" y="230.78" font-size="8.5" text-anchor="end" fill="#333" stroke="#333" stroke-width="0.25" >100</text>
<line x1="378.4" y1="202.82" x2="382.9" y2="202.82" stroke="#1a1a1a" stroke-width="1.6"/>
<text x="377.30" y="205.92" font-size="8.5" text-anchor="end" fill="#333" stroke="#333" stroke-width="0.25" >150</text>
<line x1="378.4" y1="177.95999999999998" x2="382.9" y2="177.95999999999998" stroke="#1a1a1a" stroke-width="1.6"/>
<text x="377.30" y="181.06" font-size="8.5" text-anchor="end" fill="#333" stroke="#333" stroke-width="0.25" >200</text>
<line x1="378.4" y1="153.09999999999997" x2="382.9" y2="153.09999999999997" stroke="#1a1a1a" stroke-width="1.6"/>
<text x="377.30" y="156.20" font-size="8.5" text-anchor="end" fill="#333" stroke="#333" stroke-width="0.25" >250</text>
<text transform="translate(352.50,215.40) rotate(-90)" x="0" y="3.64" font-size="10.4" text-anchor="middle" fill="#222" stroke="#222" stroke-width="0.25">BUN (mg/dL)</text>
<line x1="402.05" y1="255.42376" x2="402.05" y2="254.03159999999997" stroke="#555" stroke-width="0.9"/>
<line x1="397.3" y1="254.03159999999997" x2="406.8" y2="254.03159999999997" stroke="#555" stroke-width="0.9"/>
<rect x="393.00" y="255.87" width="18.10" height="21.53" fill="#ffffff" stroke="#444" stroke-width="0.9"/>
<line x1="430.75" y1="186.16379999999998" x2="430.75" y2="174.47959999999998" stroke="#555" stroke-width="0.9"/>
<line x1="426.0" y1="174.47959999999998" x2="435.5" y2="174.47959999999998" stroke="#555" stroke-width="0.9"/>
<rect x="421.70" y="186.61" width="18.10" height="90.79" fill="#FACD45" stroke="#6e5c28" stroke-width="0.9"/>
<line x1="459.35" y1="254.32992" x2="459.35" y2="251.64504" stroke="#555" stroke-width="0.9"/>
<line x1="454.6" y1="251.64504" x2="464.1" y2="251.64504" stroke="#555" stroke-width="0.9"/>
<rect x="450.30" y="254.78" width="18.10" height="22.62" fill="#343434" stroke="#111" stroke-width="0.9"/>
<line x1="487.8" y1="253.83272" x2="487.8" y2="252.14224" stroke="#4545c0" stroke-width="0.9"/>
<line x1="483.05" y1="252.14224" x2="492.55" y2="252.14224" stroke="#4545c0" stroke-width="0.9"/>
<rect x="478.75" y="254.28" width="18.10" height="23.12" fill="#0505BC" stroke="#00007a" stroke-width="0.9"/>
<line x1="402.05" y1="277.4" x2="402.05" y2="281.9" stroke="#1a1a1a" stroke-width="1.2"/>
<line x1="430.75" y1="277.4" x2="430.75" y2="281.9" stroke="#1a1a1a" stroke-width="1.2"/>
<line x1="459.35" y1="277.4" x2="459.35" y2="281.9" stroke="#1a1a1a" stroke-width="1.2"/>
<line x1="487.8" y1="277.4" x2="487.8" y2="281.9" stroke="#1a1a1a" stroke-width="1.2"/>
<text x="460.20" y="248.66" font-size="8.8" text-anchor="middle" fill="#1a1a1a" stroke="#1a1a1a" stroke-width="0.35" letter-spacing="1.7">***</text>
<text x="488.65" y="248.16" font-size="8.8" text-anchor="middle" fill="#1a1a1a" stroke="#1a1a1a" stroke-width="0.35" letter-spacing="1.7">***</text>
<rect x="54.199999999999996" y="294.6" width="5.8" height="5.8" fill="#fff" stroke="#333" stroke-width="0.9"/>
<text x="65.40" y="301.00" font-size="8.8" text-anchor="start" fill="#222" stroke="#222" stroke-width="0.25" >Control</text>
<rect x="102.2" y="294.6" width="5.8" height="5.8" fill="#FACD45" stroke="#b8a050" stroke-width="0.9"/>
<text x="113.50" y="301.00" font-size="8.9" text-anchor="start" fill="#222" stroke="#222" stroke-width="0.25" >CRAB C0 <tspan dx="0.8">(5x10</tspan><tspan font-size="5.5" dy="-3">6</tspan><tspan dy="3" dx="0.8"> CFU</tspan><tspan dx="0.6" dy="-0.4">/mice)</tspan></text>
<rect x="231.9" y="294.6" width="5.8" height="5.8" fill="#555" stroke="#555" stroke-width="0.9"/>
<text x="246.30" y="301.00" font-size="8.8" text-anchor="start" fill="#222" stroke="#222" stroke-width="0.25" >Rhamnetin (1mg/kg)</text>
<rect x="330.2" y="294.6" width="5.8" height="5.8" fill="#0505BC" stroke="#0505BC" stroke-width="0.9"/>
<text x="345.20" y="301.00" font-size="8.8" text-anchor="start" fill="#222" stroke="#222" stroke-width="0.25" >Rhamnetin + CRAB C0</text>
<text x="17.10" y="326.00" font-size="13" text-anchor="start" fill="#222" stroke="#222" stroke-width="0.25" >(d)</text>
<text x="70.80" y="327.70" font-size="9" text-anchor="middle" fill="#222" stroke="#222" stroke-width="0.25" >Control</text>
<text x="208.70" y="327.70" font-size="9" text-anchor="middle" fill="#222" stroke="#222" stroke-width="0.25" >CRAB C0 (5x10<tspan font-size="5.6" dy="-3">6</tspan><tspan dy="3"> CFU/mice)</tspan></text>
<text x="347.10" y="327.70" font-size="9" text-anchor="middle" fill="#222" stroke="#222" stroke-width="0.25" >Rhamnetin</text>
<text x="472.30" y="327.70" font-size="9" text-anchor="middle" fill="#222" stroke="#222" stroke-width="0.25" >Rhamnetin + CRAB C0</text>
</svg>
</body></html>
